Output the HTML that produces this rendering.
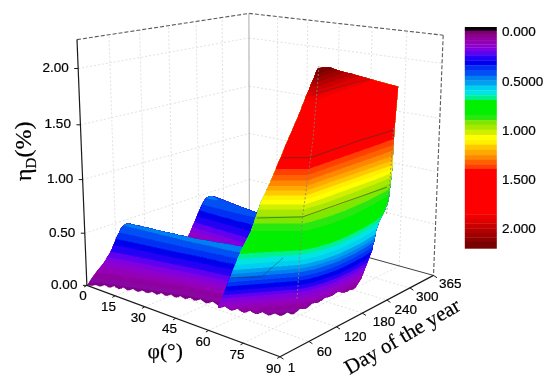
<!DOCTYPE html><html><head><meta charset="utf-8"><style>html,body{margin:0;padding:0;background:#fff}svg{display:block}text{font-family:"Liberation Sans",Arial,sans-serif;fill:#000;stroke:#000;stroke-width:0.2px}.s{font-family:"Liberation Serif","Times New Roman",serif}</style></head><body>
<svg width="550" height="385" viewBox="0 0 550 385">
<rect width="550" height="385" fill="#fff"/>
<line x1="116.9" y1="274.2" x2="109.0" y2="34.7" stroke="#d9d9d9" stroke-width="0.8" stroke-dasharray="2 2" fill="none"/>
<line x1="145.8" y1="263.4" x2="139.6" y2="30.1" stroke="#d9d9d9" stroke-width="0.8" stroke-dasharray="2 2" fill="none"/>
<line x1="173.2" y1="253.1" x2="168.6" y2="25.6" stroke="#d9d9d9" stroke-width="0.8" stroke-dasharray="2 2" fill="none"/>
<line x1="199.2" y1="243.4" x2="196.1" y2="21.4" stroke="#d9d9d9" stroke-width="0.8" stroke-dasharray="2 2" fill="none"/>
<line x1="223.9" y1="234.1" x2="222.1" y2="17.5" stroke="#d9d9d9" stroke-width="0.8" stroke-dasharray="2 2" fill="none"/>
<line x1="84.8" y1="233.2" x2="249.3" y2="179.4" stroke="#d9d9d9" stroke-width="0.8" stroke-dasharray="2 2" fill="none"/>
<line x1="249.3" y1="179.4" x2="435.6" y2="224.3" stroke="#d9d9d9" stroke-width="0.8" stroke-dasharray="2 2" fill="none"/>
<line x1="82.7" y1="179.6" x2="249.2" y2="133.3" stroke="#d9d9d9" stroke-width="0.8" stroke-dasharray="2 2" fill="none"/>
<line x1="249.2" y1="133.3" x2="437.7" y2="171.9" stroke="#d9d9d9" stroke-width="0.8" stroke-dasharray="2 2" fill="none"/>
<line x1="80.4" y1="124.8" x2="249.1" y2="86.1" stroke="#d9d9d9" stroke-width="0.8" stroke-dasharray="2 2" fill="none"/>
<line x1="249.1" y1="86.1" x2="439.8" y2="118.3" stroke="#d9d9d9" stroke-width="0.8" stroke-dasharray="2 2" fill="none"/>
<line x1="78.2" y1="68.5" x2="248.9" y2="38.0" stroke="#d9d9d9" stroke-width="0.8" stroke-dasharray="2 2" fill="none"/>
<line x1="248.9" y1="38.0" x2="442.1" y2="63.4" stroke="#d9d9d9" stroke-width="0.8" stroke-dasharray="2 2" fill="none"/>
<line x1="276.8" y1="232.2" x2="277.6" y2="16.6" stroke="#d9d9d9" stroke-width="0.8" stroke-dasharray="2 2" fill="none"/>
<line x1="115.1" y1="295.8" x2="276.8" y2="232.2" stroke="#d9d9d9" stroke-width="0.8" stroke-dasharray="2 2" fill="none"/>
<line x1="305.4" y1="240.1" x2="307.7" y2="20.0" stroke="#d9d9d9" stroke-width="0.8" stroke-dasharray="2 2" fill="none"/>
<line x1="144.7" y1="306.8" x2="305.4" y2="240.1" stroke="#d9d9d9" stroke-width="0.8" stroke-dasharray="2 2" fill="none"/>
<line x1="335.3" y1="248.3" x2="339.2" y2="23.5" stroke="#d9d9d9" stroke-width="0.8" stroke-dasharray="2 2" fill="none"/>
<line x1="175.8" y1="318.3" x2="335.3" y2="248.3" stroke="#d9d9d9" stroke-width="0.8" stroke-dasharray="2 2" fill="none"/>
<line x1="366.6" y1="256.9" x2="372.2" y2="27.2" stroke="#d9d9d9" stroke-width="0.8" stroke-dasharray="2 2" fill="none"/>
<line x1="208.7" y1="330.4" x2="366.6" y2="256.9" stroke="#d9d9d9" stroke-width="0.8" stroke-dasharray="2 2" fill="none"/>
<line x1="399.3" y1="266.0" x2="406.8" y2="31.1" stroke="#d9d9d9" stroke-width="0.8" stroke-dasharray="2 2" fill="none"/>
<line x1="243.3" y1="343.2" x2="399.3" y2="266.0" stroke="#d9d9d9" stroke-width="0.8" stroke-dasharray="2 2" fill="none"/>
<line x1="116.9" y1="274.2" x2="308.9" y2="341.4" stroke="#d9d9d9" stroke-width="0.8" stroke-dasharray="2 2" fill="none"/>
<line x1="145.8" y1="263.4" x2="336.5" y2="326.8" stroke="#d9d9d9" stroke-width="0.8" stroke-dasharray="2 2" fill="none"/>
<line x1="173.2" y1="253.1" x2="362.4" y2="313.1" stroke="#d9d9d9" stroke-width="0.8" stroke-dasharray="2 2" fill="none"/>
<line x1="199.2" y1="243.4" x2="386.9" y2="300.1" stroke="#d9d9d9" stroke-width="0.8" stroke-dasharray="2 2" fill="none"/>
<line x1="223.9" y1="234.1" x2="409.9" y2="287.9" stroke="#d9d9d9" stroke-width="0.8" stroke-dasharray="2 2" fill="none"/>
<line x1="77.0" y1="39.6" x2="248.9" y2="13.4" stroke="#5a5a5a" stroke-width="1.1" stroke-dasharray="4 2" fill="none"/>
<line x1="248.9" y1="13.4" x2="443.2" y2="35.2" stroke="#5a5a5a" stroke-width="1.1" stroke-dasharray="4 2" fill="none"/>
<line x1="443.2" y1="35.2" x2="433.5" y2="275.4" stroke="#5a5a5a" stroke-width="1.1" stroke-dasharray="4 2" fill="none"/>
<line x1="249.4" y1="224.6" x2="248.9" y2="13.4" stroke="#b8b8b8" stroke-width="1.2"/>
<line x1="249.4" y1="224.6" x2="433.5" y2="275.4" stroke="#404040" stroke-width="1"/>
<line x1="86.9" y1="285.4" x2="249.4" y2="224.6" stroke="#404040" stroke-width="1"/>
<g stroke="none" fill-rule="evenodd">
<path fill="#7e0088" d="M398.1 86.6 397.4 86.6 394.6 85.6 390.1 84.6 384.6 82.9 382.9 82.6 377.4 80.9 375.6 80.6 370.1 78.9 368.4 78.6 362.9 76.9 361.1 76.6 355.6 74.9 353.9 74.6 351.1 73.6 345.4 72.4 344.4 71.9 343.6 71.9 342.6 71.4 338.4 70.4 334.4 68.9 333.6 68.9 330.4 67.6 328.1 67.6 327.9 67.4 325.9 67.4 325.6 67.1 325.4 67.4 323.9 67.4 323.6 67.6 320.1 67.9 317.4 69.1 315.6 72.9 314.1 77.4 310.6 84.9 309.1 89.6 305.6 97.1 305.4 98.4 304.9 99.1 304.6 100.4 303.4 102.9 303.4 103.4 302.4 105.1 300.9 109.9 299.1 113.4 297.6 117.9 294.1 125.4 292.4 130.1 288.9 137.6 288.1 139.9 287.1 141.6 286.4 143.9 285.4 145.6 285.4 146.1 284.1 148.6 281.4 156.1 276.9 165.9 275.4 170.6 273.6 174.1 273.6 174.6 271.9 178.1 271.9 178.6 270.1 182.1 270.1 182.6 267.6 187.4 266.4 190.9 260.4 203.1 258.9 208.4 258.4 209.1 257.6 211.9 257.1 212.6 255.9 212.4 255.1 211.9 253.9 211.6 253.1 211.1 251.9 210.9 251.1 210.4 249.9 210.1 249.1 209.6 247.9 209.4 247.1 208.9 239.9 206.4 237.9 205.4 235.9 204.9 235.1 204.4 228.6 202.1 227.9 201.6 225.9 201.1 223.9 200.1 221.9 199.6 215.9 197.1 212.6 196.1 210.1 196.1 209.9 196.4 208.6 196.4 206.1 197.9 204.9 199.4 204.6 200.1 203.9 200.9 203.4 202.1 202.4 203.4 202.4 203.9 201.1 205.9 201.1 206.6 200.1 208.1 200.1 208.9 198.9 211.1 198.9 211.9 197.6 214.1 197.6 214.9 196.4 217.1 196.4 217.9 195.1 220.1 195.1 220.9 193.9 223.1 193.9 223.9 192.6 226.1 192.6 226.9 191.4 229.1 191.4 229.6 190.1 231.9 190.1 232.4 188.9 234.4 188.6 235.4 187.4 236.9 184.9 236.4 184.6 236.1 183.6 236.1 182.4 235.6 181.4 235.6 179.1 234.9 178.1 234.9 175.9 234.1 174.9 234.1 173.6 233.6 172.6 233.6 171.4 233.1 170.4 233.1 168.4 232.4 167.4 232.4 166.1 231.9 165.1 231.9 163.9 231.4 160.6 230.9 159.6 230.4 156.4 229.9 153.1 228.9 150.9 228.6 150.6 228.4 149.9 228.4 147.6 227.6 146.6 227.6 144.4 226.9 143.4 226.9 138.9 225.6 137.9 225.6 136.9 225.1 134.6 224.9 132.4 224.1 131.4 224.1 129.9 223.6 126.9 223.6 126.6 223.9 125.9 223.9 124.4 224.9 121.1 228.1 118.9 233.1 118.4 233.6 117.4 235.9 116.4 237.4 116.4 237.9 115.9 238.6 115.9 239.6 115.1 240.9 115.1 241.4 114.4 242.6 114.4 243.1 113.6 244.4 112.9 246.6 112.1 247.6 112.1 248.4 109.4 253.9 106.9 257.6 106.6 258.6 103.4 263.6 95.9 272.4 95.4 273.4 91.1 278.9 86.9 285.4 87.4 285.9 87.9 285.1 88.4 285.6 88.6 285.1 89.9 285.9 90.1 285.4 90.6 285.9 90.9 285.6 91.4 285.9 91.6 285.6 91.9 285.9 92.1 285.4 92.6 285.9 93.1 285.4 93.4 285.6 93.6 285.4 94.1 285.6 94.4 284.9 94.9 285.4 95.1 284.9 96.6 285.6 96.9 285.1 97.4 285.9 97.6 285.4 98.1 286.1 98.4 285.9 98.6 286.4 98.9 285.9 99.4 286.6 99.6 286.4 100.1 286.6 100.6 286.4 100.9 286.6 101.1 286.1 101.6 286.4 101.9 285.9 102.4 286.4 102.6 285.6 103.1 285.9 103.4 285.4 104.1 285.1 104.6 285.4 104.9 285.1 105.1 285.6 105.4 285.4 105.9 286.1 106.1 285.6 106.6 286.6 106.9 286.1 107.9 287.4 108.4 287.1 108.6 287.6 108.9 287.4 109.4 287.6 110.1 287.4 110.6 287.9 110.9 287.1 111.4 287.4 111.6 286.9 111.9 287.4 112.1 286.6 112.6 286.9 112.9 286.6 113.1 286.9 113.4 286.4 114.1 286.1 114.9 286.6 115.9 287.9 116.1 287.6 116.6 288.1 116.9 287.9 117.4 288.6 117.6 288.1 118.6 289.4 118.9 288.9 119.1 289.4 119.4 288.9 119.9 289.1 120.1 288.6 120.6 288.9 120.9 288.6 121.1 288.9 121.9 288.4 122.1 287.9 122.6 288.1 122.9 287.4 123.4 287.6 123.9 288.4 124.1 287.9 124.6 288.6 124.9 288.4 125.4 289.1 125.6 288.9 126.6 289.9 128.1 290.4 128.4 289.9 128.9 290.6 129.1 290.6 129.4 290.1 129.9 290.4 130.1 289.9 130.6 290.1 130.9 289.6 131.9 289.6 133.1 288.9 133.4 289.4 133.6 289.1 134.6 290.4 134.9 290.1 135.4 290.9 135.6 290.4 136.1 291.1 136.4 290.9 137.4 292.1 137.6 291.6 138.1 292.1 138.4 291.6 138.9 291.9 139.1 291.4 139.6 291.6 139.9 291.4 140.1 291.6 141.9 290.4 142.6 290.9 142.9 290.6 143.4 291.4 143.6 290.9 144.1 291.6 144.4 291.4 145.4 292.6 145.6 292.4 146.1 292.9 146.4 292.4 146.9 293.1 147.1 292.6 148.1 293.4 148.4 292.9 148.9 293.1 149.1 292.6 149.6 292.9 149.9 292.4 150.9 292.6 151.1 292.1 151.6 292.4 151.9 291.6 152.4 292.4 152.6 291.9 153.6 293.1 153.9 292.9 154.4 293.6 154.6 293.1 155.1 293.9 155.4 293.6 156.4 294.9 156.6 294.4 157.1 294.9 157.4 294.4 157.9 294.6 158.1 294.1 159.1 294.6 160.1 293.4 160.6 293.6 160.9 292.9 161.4 293.1 161.9 293.9 162.1 293.4 162.6 294.1 162.9 293.9 163.4 294.6 163.6 294.4 164.6 295.6 164.9 295.4 166.1 296.1 166.4 295.6 166.9 296.1 167.1 295.9 167.4 296.1 167.6 295.6 168.1 295.9 168.4 295.1 168.9 295.6 169.1 294.9 170.1 295.4 170.1 294.9 170.4 294.6 170.9 294.9 171.1 294.4 172.1 295.6 172.4 295.4 172.9 296.1 173.1 295.9 174.1 297.1 174.4 296.9 174.9 297.4 175.4 297.1 176.1 297.9 176.4 297.4 176.9 297.6 177.1 297.1 178.1 297.6 178.1 297.4 178.9 297.1 179.4 296.4 179.6 296.6 179.9 295.9 180.4 296.1 180.9 296.9 181.1 296.4 181.6 297.1 181.9 296.9 182.9 298.1 183.1 297.6 183.6 298.4 183.9 298.1 185.1 299.4 185.4 298.9 185.9 299.4 186.1 298.6 187.1 299.1 187.4 298.4 187.9 298.9 188.1 298.1 189.1 298.6 189.1 298.1 189.4 297.9 189.9 298.1 190.1 297.6 190.6 298.1 190.9 297.9 191.9 299.4 192.4 299.1 193.6 300.6 193.9 300.1 194.9 301.1 195.1 300.6 196.4 300.6 196.9 300.9 197.1 300.4 197.9 300.1 198.1 300.4 198.4 299.6 198.6 299.9 199.4 299.9 199.6 299.4 199.9 299.6 200.1 298.9 201.1 300.1 201.4 299.9 202.4 301.1 202.9 300.9 204.4 302.6 204.6 302.1 205.6 303.4 205.9 302.9 206.9 303.6 207.1 302.9 208.1 303.4 208.4 302.9 208.9 303.1 209.1 302.9 209.4 303.1 209.6 302.4 210.4 302.6 210.6 302.4 210.9 302.6 211.1 301.9 211.6 302.1 211.9 301.9 212.1 302.1 212.4 301.4 213.4 302.6 213.6 302.1 214.6 303.6 214.9 303.1 216.1 304.6 216.4 304.1 217.4 305.6 217.6 305.1 218.6 306.1 217.9 307.9 218.1 308.1 219.4 308.1 221.6 307.1 221.9 307.4 222.6 306.9 223.4 306.9 223.9 306.4 225.1 306.1 225.4 306.6 226.1 306.9 226.6 307.6 227.4 307.9 228.1 308.6 228.9 308.9 229.1 309.4 229.6 309.4 230.6 310.1 231.4 310.4 232.4 310.1 232.6 310.4 233.6 309.9 234.4 309.9 235.1 309.4 235.4 309.6 236.4 308.9 237.6 308.6 239.4 309.9 239.6 310.4 240.4 310.6 241.1 311.4 242.1 311.6 242.4 312.1 242.9 312.1 243.6 312.6 244.4 312.6 245.4 312.1 245.9 312.4 247.1 311.6 247.9 311.6 249.4 310.6 249.6 310.9 250.1 310.6 251.1 311.1 251.6 311.9 252.9 312.4 253.6 313.1 255.1 313.6 255.6 314.1 258.4 313.9 259.6 313.1 260.4 313.1 262.4 311.9 264.9 313.4 265.1 313.9 266.6 314.6 267.1 314.6 267.4 315.1 268.1 315.4 269.4 315.4 269.6 315.1 270.1 315.4 272.1 314.4 272.4 314.6 274.4 313.4 274.6 313.6 275.1 313.4 276.9 314.4 277.1 314.9 277.4 314.6 279.9 315.9 280.1 315.6 280.6 315.9 282.6 315.6 282.9 315.1 283.4 315.1 285.4 314.1 286.4 313.1 287.4 312.6 288.4 313.1 288.6 312.9 291.1 314.4 291.4 314.1 291.6 314.4 291.9 314.1 292.4 314.4 294.1 313.9 295.1 313.1 295.4 312.6 295.9 312.6 295.9 312.4 298.9 309.9 299.6 308.9 300.1 308.6 300.4 308.9 302.1 308.9 302.4 309.1 302.6 308.9 302.9 309.1 303.1 308.9 303.9 309.1 305.1 308.6 305.4 308.9 306.9 308.1 308.9 306.6 309.6 305.6 310.9 304.9 310.9 304.6 312.6 303.1 312.9 303.4 313.1 303.1 313.9 303.4 314.1 303.1 316.9 302.9 317.6 302.4 317.9 302.6 319.9 301.6 320.1 301.1 320.9 300.9 324.6 297.9 325.6 297.4 325.9 297.6 327.1 297.1 327.4 297.4 329.6 296.4 329.9 296.6 332.1 295.4 332.6 295.4 332.9 294.9 334.1 294.4 334.4 293.9 335.1 293.6 335.4 293.1 336.1 292.9 337.4 291.9 340.6 292.1 340.9 292.4 344.6 292.4 345.4 291.9 346.6 291.9 349.6 290.1 350.4 290.1 350.6 289.9 351.1 290.1 352.9 289.4 353.1 289.6 355.6 287.6 361.6 277.9 361.9 276.6 363.6 272.6 364.6 269.4 366.1 266.1 366.4 264.9 367.9 261.6 368.1 260.4 368.6 259.6 370.9 253.1 371.4 252.4 371.6 251.1 372.1 250.4 372.9 244.9 373.9 243.1 373.9 242.4 374.1 242.1 374.4 239.6 374.6 239.4 374.6 238.4 374.9 238.1 374.9 237.1 375.1 236.9 375.1 235.9 375.6 234.4 375.6 233.1 375.9 232.9 376.1 230.6 376.9 228.1 377.4 227.4 379.1 221.9 384.9 210.6 386.1 206.6 386.6 205.9 386.9 204.6 387.4 203.9 387.9 201.9 388.6 200.4 388.9 197.1 389.1 196.9 389.1 194.9 389.4 194.6 389.4 192.6 389.6 192.4 389.6 190.6 389.9 190.4 389.9 188.4 390.1 188.1 390.1 186.4 390.4 186.1 390.4 184.1 390.6 183.9 390.6 182.1 390.9 181.9 390.9 179.9 391.1 179.6 391.1 177.6 391.4 177.4 391.4 175.6 391.6 175.4 391.6 173.4 391.9 173.1 391.9 171.4 392.1 171.1 392.4 163.6 392.6 163.4 392.6 159.1 392.9 158.9 392.9 154.6 393.1 154.4 393.1 150.1 393.4 149.9 393.4 145.9 393.6 145.6 393.6 141.4 393.9 141.1 393.9 136.9 394.1 136.6 394.1 132.4 394.4 132.1 394.4 128.9 394.6 128.6 394.6 125.9 394.9 125.6 394.9 122.9 395.1 122.6 395.1 120.1 395.4 119.9 395.4 117.1 395.6 116.9 395.6 114.4 395.9 114.1 395.9 111.4 396.1 111.1 396.1 108.4 396.4 108.1 396.4 105.6 396.6 105.4 396.6 102.6 396.9 102.4 396.9 99.9 397.1 99.6 397.1 96.9 397.4 96.6 397.4 93.9 397.6 93.6 397.6 91.1 397.9 90.9Z"/>
<path fill="#8a06a4" d="M398.1 86.6 397.4 86.6 394.6 85.6 390.1 84.6 384.6 82.9 382.9 82.6 377.4 80.9 375.6 80.6 370.1 78.9 368.4 78.6 362.9 76.9 361.1 76.6 355.6 74.9 353.9 74.6 351.1 73.6 345.4 72.4 344.4 71.9 343.6 71.9 342.6 71.4 338.4 70.4 334.4 68.9 333.6 68.9 330.4 67.6 328.1 67.6 327.9 67.4 325.9 67.4 325.6 67.1 325.4 67.4 323.9 67.4 323.6 67.6 320.1 67.9 317.4 69.1 315.6 72.9 314.1 77.4 310.6 84.9 309.1 89.6 305.6 97.1 305.4 98.4 304.9 99.1 304.6 100.4 303.4 102.9 303.4 103.4 302.4 105.1 300.9 109.9 299.1 113.4 297.6 117.9 294.1 125.4 292.4 130.1 288.9 137.6 288.1 139.9 287.1 141.6 286.4 143.9 285.4 145.6 285.4 146.1 284.1 148.6 281.4 156.1 276.9 165.9 275.4 170.6 273.6 174.1 273.6 174.6 271.9 178.1 271.9 178.6 270.1 182.1 270.1 182.6 267.6 187.4 266.4 190.9 260.4 203.1 258.9 208.4 258.4 209.1 257.6 211.9 257.1 212.6 255.9 212.4 255.1 211.9 253.9 211.6 253.1 211.1 251.9 210.9 251.1 210.4 249.9 210.1 249.1 209.6 247.9 209.4 247.1 208.9 239.9 206.4 237.9 205.4 235.9 204.9 235.1 204.4 228.6 202.1 227.9 201.6 225.9 201.1 223.9 200.1 221.9 199.6 215.9 197.1 212.6 196.1 210.1 196.1 209.9 196.4 208.6 196.4 206.1 197.9 204.9 199.4 204.6 200.1 203.9 200.9 203.4 202.1 202.4 203.4 202.4 203.9 201.1 205.9 201.1 206.6 200.1 208.1 200.1 208.9 198.9 211.1 198.9 211.9 197.6 214.1 197.6 214.9 196.4 217.1 196.4 217.9 195.1 220.1 195.1 220.9 193.9 223.1 193.9 223.9 192.6 226.1 192.6 226.9 191.4 229.1 191.4 229.6 190.1 231.9 190.1 232.4 188.9 234.4 188.6 235.4 187.4 236.9 184.9 236.4 184.6 236.1 183.6 236.1 182.4 235.6 181.4 235.6 179.1 234.9 178.1 234.9 175.9 234.1 174.9 234.1 173.6 233.6 172.6 233.6 171.4 233.1 170.4 233.1 168.4 232.4 167.4 232.4 166.1 231.9 165.1 231.9 163.9 231.4 160.6 230.9 159.6 230.4 156.4 229.9 153.1 228.9 150.9 228.6 150.6 228.4 149.9 228.4 147.6 227.6 146.6 227.6 144.4 226.9 143.4 226.9 138.9 225.6 137.9 225.6 136.9 225.1 134.6 224.9 132.4 224.1 131.4 224.1 129.9 223.6 126.9 223.6 126.6 223.9 125.9 223.9 124.4 224.9 121.1 228.1 118.9 233.1 118.4 233.6 117.4 235.9 116.4 237.4 116.4 237.9 115.9 238.6 115.9 239.6 115.1 240.9 115.1 241.4 114.4 242.6 114.4 243.1 113.6 244.4 112.9 246.6 112.1 247.6 112.1 248.4 109.4 253.9 106.9 257.6 106.6 258.6 103.4 263.6 95.9 272.4 95.4 273.4 91.1 278.9 89.4 281.9 89.6 282.1 89.9 281.9 90.4 282.4 90.6 281.9 91.1 282.4 91.4 281.9 92.6 282.6 92.9 282.1 93.1 282.6 93.4 282.1 94.6 282.9 94.9 282.4 95.4 282.9 95.6 282.4 96.9 283.1 97.1 282.6 97.6 283.1 97.9 282.6 99.1 283.4 99.4 282.9 99.6 283.4 100.1 282.6 100.6 283.1 100.9 282.6 101.4 283.1 101.6 282.6 102.9 283.4 103.1 282.9 103.6 283.4 103.9 282.9 105.1 283.6 105.4 283.1 105.9 283.6 106.1 283.1 106.4 283.6 106.6 283.4 107.6 284.1 107.9 283.6 108.4 284.1 108.6 283.6 109.1 284.1 109.4 283.6 110.1 284.4 110.4 284.4 110.6 283.9 111.1 284.4 111.4 283.9 112.4 284.9 112.6 284.4 112.9 284.9 113.1 284.4 113.4 284.6 113.9 284.4 114.9 285.1 115.1 284.6 115.6 285.1 115.9 284.6 116.9 285.6 117.1 285.1 117.4 285.4 117.9 285.1 118.4 285.4 118.6 285.1 119.4 285.6 119.6 285.4 120.1 285.9 120.4 285.4 121.1 286.1 121.6 285.9 122.1 286.1 122.4 285.6 122.9 286.1 123.1 285.6 124.1 286.6 124.4 286.1 124.9 286.6 125.1 286.1 125.6 286.6 125.9 286.1 126.9 286.9 127.1 286.4 127.6 286.9 127.9 286.4 128.6 287.4 128.9 286.9 129.4 287.4 129.6 286.9 129.9 287.1 130.4 286.9 131.4 287.6 131.6 287.1 132.1 287.6 132.4 287.1 133.4 288.1 133.6 287.6 134.1 288.1 134.4 287.6 134.9 287.9 135.1 287.4 136.1 288.4 136.4 287.9 136.9 288.4 137.1 287.9 138.1 288.9 138.4 288.4 138.9 288.6 139.1 288.1 139.4 288.6 139.6 288.1 140.6 289.1 140.9 288.6 141.4 289.1 141.6 288.6 142.1 289.1 142.4 288.6 143.4 289.4 143.6 288.9 144.1 289.4 144.4 288.9 145.4 289.9 145.6 289.4 146.1 289.9 146.4 289.4 146.9 289.6 147.1 289.1 148.1 290.1 148.4 289.6 148.9 290.1 149.1 289.6 150.1 290.6 150.4 290.1 150.9 290.6 151.1 290.1 151.6 290.4 151.9 289.9 152.9 290.9 153.1 290.4 153.6 290.9 153.9 290.4 154.9 291.4 155.1 290.9 155.6 291.1 155.9 290.6 156.4 291.1 156.6 290.6 157.6 291.6 157.9 291.1 158.4 291.6 158.6 291.1 159.1 291.6 159.4 291.1 160.1 291.9 160.4 291.9 160.6 291.4 161.1 291.9 161.4 291.4 162.4 292.4 162.6 291.9 163.1 292.4 163.4 291.9 163.9 292.1 164.1 291.6 164.9 292.6 165.1 292.6 165.4 292.1 165.9 292.6 166.1 292.1 167.1 293.1 167.4 292.6 167.9 293.1 168.1 292.6 168.6 292.9 168.9 292.4 169.6 293.4 169.9 293.4 170.1 292.9 170.6 293.4 170.9 292.9 171.9 293.9 172.1 293.4 172.6 293.6 172.9 293.1 173.9 294.1 174.1 293.6 174.6 293.9 174.9 293.4 175.6 294.4 175.9 294.4 176.1 293.9 176.6 294.4 176.9 293.9 177.9 294.9 178.1 294.4 178.6 294.6 178.9 294.1 179.9 295.1 180.1 294.6 180.6 294.9 180.9 294.4 181.6 295.4 181.9 295.4 182.1 294.9 182.6 295.4 182.9 294.9 183.6 295.6 183.9 295.6 184.1 295.1 184.6 295.6 184.9 295.1 185.9 296.1 186.1 295.6 186.6 295.9 186.9 295.4 187.6 296.4 187.9 296.4 188.1 295.9 188.6 296.4 188.9 295.6 189.9 296.6 190.1 296.6 190.4 296.1 190.9 296.6 191.1 296.1 192.1 297.1 192.4 296.6 193.4 297.1 193.6 296.6 194.4 297.4 194.6 297.4 194.9 296.9 196.1 297.9 196.4 297.9 196.6 297.4 197.4 298.1 197.6 298.1 197.9 297.4 199.4 298.6 199.6 298.6 199.9 298.1 200.9 298.9 201.1 298.1 202.4 299.4 202.6 299.4 202.9 298.9 203.9 299.6 204.1 298.9 205.6 300.4 205.9 299.6 206.9 300.4 207.4 299.6 208.1 300.4 208.4 300.4 208.6 299.9 209.4 300.6 209.6 300.6 209.9 300.1 210.9 300.9 211.1 300.4 212.1 301.4 212.6 300.6 213.4 301.4 213.6 301.4 213.9 300.9 214.6 301.6 214.9 301.6 215.1 301.1 216.1 301.9 216.4 301.4 217.4 302.4 217.6 301.6 218.6 302.4 218.9 302.4 219.1 301.9 219.9 302.9 217.9 307.9 218.1 308.1 219.4 308.1 221.6 307.1 221.9 307.4 222.6 306.9 223.4 306.9 223.9 306.4 225.1 306.1 225.4 306.6 226.1 306.9 226.6 307.6 228.9 308.9 229.1 309.4 229.6 309.4 230.1 309.9 231.4 310.4 232.1 310.1 232.6 310.4 233.6 309.9 234.4 309.9 235.1 309.4 235.4 309.6 236.4 308.9 237.6 308.6 239.4 309.9 239.6 310.4 240.4 310.6 241.1 311.4 242.1 311.6 242.4 312.1 242.9 312.1 243.6 312.6 244.4 312.6 245.4 312.1 245.9 312.4 247.1 311.6 247.9 311.6 249.4 310.6 249.6 310.9 250.1 310.6 251.1 311.1 251.6 311.9 252.9 312.4 253.6 313.1 255.1 313.6 255.6 314.1 258.4 313.9 259.6 313.1 260.4 313.1 262.4 311.9 264.9 313.4 265.1 313.9 265.9 314.1 266.1 313.9 269.1 313.9 269.4 313.6 275.4 313.4 275.6 313.1 278.4 313.1 278.6 312.9 281.6 312.9 281.9 312.6 284.6 312.6 284.9 312.4 287.9 312.4 288.1 312.1 290.9 312.1 291.1 311.9 294.1 311.9 294.4 311.6 296.9 311.4 300.1 308.6 300.4 308.9 302.1 308.9 302.4 309.1 302.6 308.9 302.9 309.1 303.1 308.9 303.9 309.1 305.1 308.6 305.4 308.9 306.9 308.1 308.9 306.6 309.6 305.6 310.9 304.9 310.9 304.6 312.6 303.1 312.9 303.4 313.1 303.1 313.9 303.4 314.1 303.1 316.9 302.9 317.6 302.4 317.9 302.6 319.9 301.6 320.1 301.1 320.9 300.9 324.6 297.9 325.6 297.4 325.9 297.6 327.1 297.1 327.4 297.4 329.6 296.4 329.9 296.6 332.1 295.4 332.6 295.4 332.9 294.9 334.1 294.4 334.4 293.9 335.1 293.6 335.4 293.1 336.1 292.9 337.4 291.9 340.6 292.1 340.9 292.4 344.6 292.4 345.4 291.9 346.6 291.9 349.6 290.1 350.4 290.1 350.6 289.9 351.1 290.1 352.9 289.4 353.1 289.6 355.6 287.6 361.6 277.9 361.9 276.6 363.6 272.6 364.6 269.4 366.1 266.1 366.4 264.9 367.9 261.6 368.1 260.4 368.6 259.6 370.9 253.1 371.4 252.4 371.6 251.1 372.1 250.4 372.9 244.9 373.9 243.1 373.9 242.4 374.1 242.1 374.4 239.6 374.6 239.4 374.6 238.4 374.9 238.1 374.9 237.1 375.1 236.9 375.1 235.9 375.6 234.4 375.6 233.1 375.9 232.9 376.1 230.6 376.9 228.1 377.4 227.4 379.1 221.9 384.9 210.6 386.1 206.6 386.6 205.9 386.9 204.6 387.4 203.9 387.9 201.9 388.6 200.4 388.9 197.1 389.1 196.9 389.1 194.9 389.4 194.6 389.4 192.6 389.6 192.4 389.6 190.6 389.9 190.4 389.9 188.4 390.1 188.1 390.1 186.4 390.4 186.1 390.4 184.1 390.6 183.9 390.6 182.1 390.9 181.9 390.9 179.9 391.1 179.6 391.1 177.6 391.4 177.4 391.4 175.6 391.6 175.4 391.6 173.4 391.9 173.1 391.9 171.4 392.1 171.1 392.4 163.6 392.6 163.4 392.6 159.1 392.9 158.9 392.9 154.6 393.1 154.4 393.1 150.1 393.4 149.9 393.4 145.9 393.6 145.6 393.6 141.4 393.9 141.1 393.9 136.9 394.1 136.6 394.1 132.4 394.4 132.1 394.4 128.9 394.6 128.6 394.6 125.9 394.9 125.6 394.9 122.9 395.1 122.6 395.1 120.1 395.4 119.9 395.4 117.1 395.6 116.9 395.6 114.4 395.9 114.1 395.9 111.4 396.1 111.1 396.1 108.4 396.4 108.1 396.4 105.6 396.6 105.4 396.6 102.6 396.9 102.4 396.9 99.9 397.1 99.6 397.1 96.9 397.4 96.6 397.4 93.9 397.6 93.6 397.6 91.1 397.9 90.9Z"/>
<path fill="#9000a0" d="M398.1 86.6 397.4 86.6 394.6 85.6 390.1 84.6 384.6 82.9 382.9 82.6 377.4 80.9 375.6 80.6 370.1 78.9 368.4 78.6 362.9 76.9 361.1 76.6 355.6 74.9 353.9 74.6 351.1 73.6 345.4 72.4 344.4 71.9 343.6 71.9 342.6 71.4 338.4 70.4 334.4 68.9 333.6 68.9 330.4 67.6 328.1 67.6 327.9 67.4 325.9 67.4 325.6 67.1 325.4 67.4 323.9 67.4 323.6 67.6 320.1 67.9 317.4 69.1 315.6 72.9 314.1 77.4 310.6 84.9 309.1 89.6 305.6 97.1 305.4 98.4 304.9 99.1 304.6 100.4 303.4 102.9 303.4 103.4 302.4 105.1 300.9 109.9 299.1 113.4 297.6 117.9 294.1 125.4 292.4 130.1 288.9 137.6 288.1 139.9 287.1 141.6 286.4 143.9 285.4 145.6 285.4 146.1 284.1 148.6 281.4 156.1 276.9 165.9 275.4 170.6 273.6 174.1 273.6 174.6 271.9 178.1 271.9 178.6 270.1 182.1 270.1 182.6 267.6 187.4 266.4 190.9 260.4 203.1 258.9 208.4 258.4 209.1 257.6 211.9 257.1 212.6 255.9 212.4 255.1 211.9 253.9 211.6 253.1 211.1 251.9 210.9 251.1 210.4 249.9 210.1 249.1 209.6 247.9 209.4 247.1 208.9 239.9 206.4 237.9 205.4 235.9 204.9 235.1 204.4 228.6 202.1 227.9 201.6 225.9 201.1 223.9 200.1 221.9 199.6 215.9 197.1 212.6 196.1 210.1 196.1 209.9 196.4 208.6 196.4 206.1 197.9 204.9 199.4 204.6 200.1 203.9 200.9 203.4 202.1 202.4 203.4 202.4 203.9 201.1 205.9 201.1 206.6 200.1 208.1 200.1 208.9 198.9 211.1 198.9 211.9 197.6 214.1 197.6 214.9 196.4 217.1 196.4 217.9 195.1 220.1 195.1 220.9 193.9 223.1 193.9 223.9 192.6 226.1 192.6 226.9 191.4 229.1 191.4 229.6 190.1 231.9 190.1 232.4 188.9 234.4 188.6 235.4 187.4 236.9 184.9 236.4 184.6 236.1 183.6 236.1 182.4 235.6 181.4 235.6 179.1 234.9 178.1 234.9 175.9 234.1 174.9 234.1 173.6 233.6 172.6 233.6 171.4 233.1 170.4 233.1 168.4 232.4 167.4 232.4 166.1 231.9 165.1 231.9 163.9 231.4 160.6 230.9 159.6 230.4 156.4 229.9 153.1 228.9 150.9 228.6 150.6 228.4 149.9 228.4 147.6 227.6 146.6 227.6 144.4 226.9 143.4 226.9 138.9 225.6 137.9 225.6 136.9 225.1 134.6 224.9 132.4 224.1 131.4 224.1 129.9 223.6 126.9 223.6 126.6 223.9 125.9 223.9 124.4 224.9 121.1 228.1 118.9 233.1 118.4 233.6 117.4 235.9 116.4 237.4 116.4 237.9 115.9 238.6 115.9 239.6 115.1 240.9 115.1 241.4 114.4 242.6 114.4 243.1 113.6 244.4 112.9 246.6 112.1 247.6 112.1 248.4 109.4 253.9 106.9 257.6 106.6 258.6 103.4 263.6 95.9 272.4 95.4 273.4 93.1 276.1 92.4 277.6 92.6 277.9 92.9 277.4 93.4 277.9 93.6 277.4 94.1 277.9 94.4 277.6 94.6 277.9 95.1 277.6 95.6 278.1 95.9 277.6 96.1 278.1 96.4 277.6 96.9 278.1 97.1 277.9 97.4 278.1 97.9 277.9 98.4 278.4 98.6 277.9 99.1 278.4 99.4 277.9 99.9 278.4 100.1 278.1 100.4 278.4 100.9 278.1 101.4 278.6 101.6 278.1 101.9 278.6 102.1 278.1 103.1 279.1 103.4 278.6 103.9 279.1 104.1 278.6 104.6 279.1 104.9 278.9 105.1 279.1 105.6 278.9 106.1 279.4 106.4 278.9 106.9 279.4 107.1 278.9 107.9 279.4 108.4 279.1 108.9 279.6 109.1 279.1 109.6 279.6 109.9 279.1 110.6 279.9 110.9 279.9 111.1 279.4 111.6 279.9 111.9 279.4 112.6 280.1 113.1 279.9 113.6 280.1 113.9 279.9 114.6 280.6 114.9 280.1 115.1 280.4 115.6 280.1 116.6 280.9 116.9 280.4 117.4 280.9 117.6 280.4 118.4 281.1 118.6 281.1 118.9 280.6 119.4 281.1 119.6 280.6 120.1 281.1 120.4 280.6 120.9 281.4 121.4 281.1 121.9 281.4 122.1 281.1 123.1 281.9 123.4 281.4 123.6 281.6 124.1 281.4 125.1 282.1 125.4 281.6 125.9 282.1 126.1 281.6 126.9 282.4 127.1 282.4 127.4 281.9 127.6 282.1 127.9 281.9 128.6 282.6 129.1 282.4 129.6 282.6 129.9 282.4 130.9 283.1 131.1 282.6 131.6 283.1 131.9 282.6 132.9 283.4 133.1 282.9 133.6 283.4 133.9 282.9 134.6 283.6 135.1 283.4 135.6 283.6 135.9 283.1 136.9 284.1 137.1 283.6 137.4 283.9 137.6 283.6 138.6 284.4 138.9 283.9 139.4 284.4 139.6 283.9 140.4 284.6 140.6 284.6 140.9 284.1 141.4 284.6 141.6 284.1 142.1 284.6 142.4 284.1 143.1 284.9 143.6 284.6 144.1 284.9 144.4 284.4 145.4 285.4 145.6 284.9 146.1 285.4 146.4 284.9 147.4 285.6 147.6 285.1 148.1 285.6 148.4 285.1 149.1 285.9 149.6 285.6 150.1 285.9 150.4 285.4 151.4 286.4 151.6 285.9 152.1 286.4 152.4 285.9 153.1 286.4 153.4 286.1 153.9 286.6 154.1 286.1 154.9 286.9 155.1 286.9 155.4 286.4 155.9 286.9 156.1 286.4 157.1 287.4 157.4 286.9 157.9 287.4 158.1 286.9 159.1 287.6 159.4 287.1 159.9 287.6 160.1 287.1 160.9 287.9 161.1 287.9 161.4 287.4 161.9 287.9 162.1 287.4 162.6 287.9 162.9 287.4 163.6 288.1 163.9 288.1 164.1 287.6 164.6 288.1 164.9 287.6 165.9 288.6 166.1 288.1 166.6 288.4 166.9 287.9 167.9 288.9 168.1 288.4 168.6 288.9 168.9 288.4 169.6 289.1 169.9 289.1 170.1 288.6 170.6 289.1 170.9 288.6 171.9 289.6 172.1 289.1 172.6 289.4 172.9 288.9 173.9 289.9 174.1 289.4 174.9 290.1 175.1 290.1 175.4 289.6 175.9 290.1 176.1 289.6 176.9 290.4 177.1 290.4 177.4 289.9 177.9 290.4 178.1 289.9 179.1 290.9 179.4 290.9 179.6 290.4 180.1 290.6 180.4 290.1 181.4 291.1 181.6 290.6 182.4 291.4 182.6 291.4 182.9 290.9 183.4 291.4 183.6 290.9 184.4 291.6 184.6 291.6 184.9 291.1 185.4 291.6 185.6 291.1 186.4 291.9 186.6 291.9 186.9 291.4 187.9 292.4 188.1 291.9 188.6 292.1 188.9 291.6 189.9 292.6 190.1 292.1 190.6 292.4 190.9 291.9 191.6 292.9 191.9 292.9 192.1 292.4 192.6 292.6 192.9 292.1 193.6 293.1 194.6 293.4 194.9 292.9 195.9 293.6 196.1 293.1 197.4 294.1 197.6 294.1 197.9 293.6 198.6 294.4 199.1 293.6 200.4 294.9 200.6 294.9 200.9 294.4 201.9 294.9 202.1 294.4 203.6 295.4 203.9 295.4 204.1 294.9 204.9 295.6 205.1 295.6 205.4 295.1 206.6 296.1 206.9 296.1 207.1 295.6 207.9 296.4 208.4 295.6 209.4 296.4 209.6 296.4 209.9 295.9 211.1 297.1 211.4 297.1 211.6 296.6 212.4 297.4 212.6 297.4 212.9 296.9 213.9 297.6 214.1 297.1 215.1 298.1 215.6 297.4 216.4 298.1 216.6 298.1 216.9 297.6 217.6 298.4 217.9 298.4 218.1 297.6 218.9 298.4 219.1 298.4 219.4 297.9 220.4 298.9 220.9 298.1 221.6 298.9 219.4 303.6 218.9 305.6 217.9 307.9 218.1 308.1 219.4 308.1 221.6 307.1 221.9 307.4 222.6 306.9 223.4 306.9 223.9 306.4 225.1 306.1 225.4 306.6 226.1 306.9 226.6 307.6 227.4 307.9 228.1 308.6 228.9 308.9 229.1 309.4 229.6 309.4 230.6 310.1 231.4 310.4 232.4 310.1 232.6 310.4 233.6 309.9 234.4 309.9 235.1 309.4 235.4 309.6 236.4 308.9 237.6 308.6 239.4 309.9 239.6 310.4 240.4 310.6 241.1 311.4 242.1 311.6 242.4 312.1 242.9 312.1 243.6 312.6 244.4 312.6 245.4 312.1 245.9 312.4 247.1 311.6 247.9 311.6 249.4 310.6 249.6 310.9 250.1 310.6 251.1 311.1 251.4 311.6 252.1 312.1 253.4 312.1 253.6 311.9 256.4 311.9 256.6 311.6 259.6 311.6 259.9 311.4 262.6 311.4 262.9 311.1 265.9 311.1 266.1 310.9 268.9 310.9 269.1 310.6 272.1 310.6 272.4 310.4 275.1 310.4 275.4 310.1 278.4 310.1 278.6 309.9 281.4 309.9 281.6 309.6 284.6 309.6 284.9 309.4 287.6 309.4 287.9 309.1 293.9 308.9 294.1 308.6 296.1 308.6 296.4 308.4 299.1 308.1 299.4 307.9 305.4 306.9 306.6 306.4 307.6 306.4 309.9 305.6 312.6 303.1 312.9 303.4 313.1 303.1 313.9 303.4 314.1 303.1 316.9 302.9 317.6 302.4 317.9 302.6 319.9 301.6 320.1 301.1 320.9 300.9 324.6 297.9 325.6 297.4 325.9 297.6 327.1 297.1 327.4 297.4 329.6 296.4 329.9 296.6 332.1 295.4 332.6 295.4 332.9 294.9 334.1 294.4 334.4 293.9 335.1 293.6 335.4 293.1 336.1 292.9 337.4 291.9 340.6 292.1 340.9 292.4 344.6 292.4 345.4 291.9 346.6 291.9 349.6 290.1 351.1 289.9 352.1 289.1 354.9 287.9 356.1 286.9 356.4 286.1 360.1 280.6 361.6 277.9 361.9 276.6 363.6 272.6 364.6 269.4 366.1 266.1 366.4 264.9 367.9 261.6 368.1 260.4 368.6 259.6 370.9 253.1 371.4 252.4 371.6 251.1 372.1 250.4 372.9 244.9 373.9 243.1 373.9 242.4 374.1 242.1 374.4 239.6 374.6 239.4 374.6 238.4 374.9 238.1 374.9 237.1 375.1 236.9 375.1 235.9 375.6 234.4 375.6 233.1 375.9 232.9 376.1 230.6 376.9 228.1 377.4 227.4 379.1 221.9 384.9 210.6 386.1 206.6 386.6 205.9 386.9 204.6 387.4 203.9 387.9 201.9 388.6 200.4 388.9 197.1 389.1 196.9 389.1 194.9 389.4 194.6 389.4 192.6 389.6 192.4 389.6 190.6 389.9 190.4 389.9 188.4 390.1 188.1 390.1 186.4 390.4 186.1 390.4 184.1 390.6 183.9 390.6 182.1 390.9 181.9 390.9 179.9 391.1 179.6 391.1 177.6 391.4 177.4 391.4 175.6 391.6 175.4 391.6 173.4 391.9 173.1 391.9 171.4 392.1 171.1 392.4 163.6 392.6 163.4 392.6 159.1 392.9 158.9 392.9 154.6 393.1 154.4 393.1 150.1 393.4 149.9 393.4 145.9 393.6 145.6 393.6 141.4 393.9 141.1 393.9 136.9 394.1 136.6 394.1 132.4 394.4 132.1 394.4 128.9 394.6 128.6 394.6 125.9 394.9 125.6 394.9 122.9 395.1 122.6 395.1 120.1 395.4 119.9 395.4 117.1 395.6 116.9 395.6 114.4 395.9 114.1 395.9 111.4 396.1 111.1 396.1 108.4 396.4 108.1 396.4 105.6 396.6 105.4 396.6 102.6 396.9 102.4 396.9 99.9 397.1 99.6 397.1 96.9 397.4 96.6 397.4 93.9 397.6 93.6 397.6 91.1 397.9 90.9Z"/>
<path fill="#9400b8" d="M398.1 86.6 397.4 86.6 394.6 85.6 390.1 84.6 384.6 82.9 382.9 82.6 377.4 80.9 375.6 80.6 370.1 78.9 368.4 78.6 362.9 76.9 361.1 76.6 355.6 74.9 353.9 74.6 351.1 73.6 345.4 72.4 344.4 71.9 343.6 71.9 342.6 71.4 338.4 70.4 334.4 68.9 333.6 68.9 330.4 67.6 328.1 67.6 327.9 67.4 325.9 67.4 325.6 67.1 325.4 67.4 323.9 67.4 323.6 67.6 320.1 67.9 317.4 69.1 315.6 72.9 314.1 77.4 310.6 84.9 309.1 89.6 305.6 97.1 305.4 98.4 304.9 99.1 304.6 100.4 303.4 102.9 303.4 103.4 302.4 105.1 300.9 109.9 299.1 113.4 297.6 117.9 294.1 125.4 292.4 130.1 288.9 137.6 288.1 139.9 287.1 141.6 286.4 143.9 285.4 145.6 285.4 146.1 284.1 148.6 281.4 156.1 276.9 165.9 275.4 170.6 273.6 174.1 273.6 174.6 271.9 178.1 271.9 178.6 270.1 182.1 270.1 182.6 267.6 187.4 266.4 190.9 260.4 203.1 258.9 208.4 258.4 209.1 257.6 211.9 257.1 212.6 255.9 212.4 255.1 211.9 253.9 211.6 253.1 211.1 251.9 210.9 251.1 210.4 249.9 210.1 249.1 209.6 247.9 209.4 247.1 208.9 239.9 206.4 237.9 205.4 235.9 204.9 235.1 204.4 228.6 202.1 227.9 201.6 225.9 201.1 223.9 200.1 221.9 199.6 215.9 197.1 212.6 196.1 210.1 196.1 209.9 196.4 208.6 196.4 206.1 197.9 204.9 199.4 204.6 200.1 203.9 200.9 203.4 202.1 202.4 203.4 202.4 203.9 201.1 205.9 201.1 206.6 200.1 208.1 200.1 208.9 198.9 211.1 198.9 211.9 197.6 214.1 197.6 214.9 196.4 217.1 196.4 217.9 195.1 220.1 195.1 220.9 193.9 223.1 193.9 223.9 192.6 226.1 192.6 226.9 191.4 229.1 191.4 229.6 190.1 231.9 190.1 232.4 188.9 234.4 188.6 235.4 187.4 236.9 184.9 236.4 184.6 236.1 183.6 236.1 182.4 235.6 181.4 235.6 179.1 234.9 178.1 234.9 175.9 234.1 174.9 234.1 173.6 233.6 172.6 233.6 171.4 233.1 170.4 233.1 168.4 232.4 167.4 232.4 166.1 231.9 165.1 231.9 163.9 231.4 160.6 230.9 159.6 230.4 156.4 229.9 153.1 228.9 150.9 228.6 150.6 228.4 149.9 228.4 147.6 227.6 146.6 227.6 144.4 226.9 143.4 226.9 138.9 225.6 137.9 225.6 136.9 225.1 134.6 224.9 132.4 224.1 131.4 224.1 129.9 223.6 126.9 223.6 126.6 223.9 125.9 223.9 124.4 224.9 121.1 228.1 118.9 233.1 118.4 233.6 117.4 235.9 116.4 237.4 116.4 237.9 115.9 238.6 115.9 239.6 115.1 240.9 115.1 241.4 114.4 242.6 114.4 243.1 113.6 244.4 112.9 246.6 112.1 247.6 112.1 248.4 109.4 253.9 106.9 257.6 106.4 259.1 104.1 262.6 97.1 270.9 96.1 272.4 96.4 272.6 96.6 272.4 96.9 272.6 97.4 272.4 97.6 272.6 98.1 272.4 98.6 272.6 98.9 272.4 99.1 272.9 99.4 272.4 99.9 272.9 100.1 272.4 100.9 273.1 101.4 272.9 101.9 273.4 102.1 272.9 102.6 273.4 102.9 272.9 103.4 273.4 103.6 273.1 103.9 273.4 104.1 273.1 104.4 273.4 104.9 273.1 105.4 273.4 105.6 273.1 106.4 273.9 106.9 273.6 107.1 273.9 107.6 273.6 108.1 273.9 108.4 273.6 108.9 274.1 109.1 273.6 109.6 274.1 109.9 273.6 110.1 274.1 110.4 273.6 110.9 274.1 111.1 273.9 111.4 274.1 111.9 273.9 112.9 274.6 113.1 274.1 114.1 274.9 114.4 274.4 114.9 274.9 115.1 274.4 115.6 275.1 115.9 275.1 116.1 274.6 116.6 275.1 116.9 274.6 117.6 275.4 117.9 275.4 118.1 274.9 118.9 275.6 119.4 275.4 119.9 275.6 120.1 275.4 120.9 275.9 121.4 275.6 121.6 275.9 121.9 275.6 122.6 276.1 123.1 275.9 124.1 276.6 124.4 276.1 124.6 276.4 125.1 276.1 126.1 276.9 126.4 276.4 126.6 276.6 127.1 276.4 127.9 276.9 128.1 276.6 128.9 277.4 129.1 277.4 129.4 276.9 129.9 277.4 130.1 276.9 131.1 277.6 131.4 277.1 132.1 277.9 132.6 277.6 133.1 277.9 133.4 277.4 134.1 278.1 134.6 277.9 134.9 278.1 135.4 277.9 136.1 278.4 136.6 278.1 137.4 278.9 137.6 278.4 138.1 278.9 138.4 278.4 139.4 279.1 139.6 278.6 140.1 279.1 140.4 278.6 141.4 279.4 141.6 278.9 142.4 279.6 142.6 279.6 142.9 279.1 143.4 279.6 143.6 279.1 144.4 279.9 144.6 279.9 144.9 279.4 145.4 279.9 145.6 279.4 146.4 280.1 146.9 279.9 147.9 280.6 148.1 280.1 148.4 280.4 148.6 280.1 149.6 280.9 149.9 280.4 150.1 280.6 150.6 280.4 151.6 281.1 151.9 280.6 152.6 281.4 152.9 281.4 153.1 280.9 153.6 281.4 153.9 280.9 154.6 281.6 154.9 281.6 155.1 281.1 155.6 281.6 155.9 281.1 156.9 281.9 157.1 281.4 158.1 282.4 158.4 281.9 158.9 282.1 159.1 281.6 160.1 282.6 160.4 282.1 161.4 282.9 161.6 282.4 162.1 282.9 162.4 282.4 163.4 283.1 163.6 282.6 164.1 283.1 164.4 282.6 165.1 283.4 165.4 283.4 165.6 282.9 166.6 283.9 166.9 283.4 167.4 283.6 167.6 283.1 168.6 284.1 168.9 283.6 169.4 283.9 169.6 283.4 170.6 284.4 170.9 283.9 171.9 284.6 172.1 284.1 172.6 284.6 172.9 284.1 173.6 284.9 173.9 284.9 174.1 284.4 174.6 284.9 174.9 284.4 175.9 285.1 176.1 284.6 176.9 285.4 177.1 285.4 177.4 284.9 178.4 285.9 178.6 285.4 179.1 285.6 179.4 285.1 180.1 285.9 180.4 285.9 180.6 285.4 181.6 286.4 181.9 285.9 182.4 286.1 182.6 285.6 183.4 286.4 183.6 286.4 183.9 285.9 184.9 286.9 185.1 286.4 185.6 286.6 185.9 286.1 186.9 287.1 187.1 286.6 188.1 287.6 188.4 286.9 188.9 287.4 189.4 286.6 190.4 287.6 190.6 287.1 191.4 287.9 191.6 287.9 191.9 287.4 192.9 288.4 193.1 287.9 193.6 288.1 193.9 287.6 194.6 288.4 194.9 288.4 195.1 287.9 196.4 289.1 196.9 288.4 197.6 289.1 197.9 289.1 198.1 288.6 199.6 289.6 199.9 289.6 200.1 289.1 200.9 289.9 201.4 289.1 202.6 290.4 203.1 289.6 204.4 290.9 204.9 290.1 205.6 290.9 205.9 290.9 206.1 290.4 207.6 291.4 207.9 291.4 208.1 290.9 208.9 291.6 209.4 290.9 210.6 292.1 210.9 292.1 211.1 291.6 211.9 292.4 212.1 292.4 212.4 291.9 213.6 292.4 213.9 291.9 214.9 292.6 215.1 292.1 216.4 293.4 216.6 293.4 216.9 292.9 217.6 293.6 217.9 293.6 218.1 292.9 219.1 293.6 219.4 293.6 219.6 293.1 220.4 293.9 220.6 293.9 220.9 293.4 222.1 294.6 222.4 294.6 222.6 294.1 223.1 294.9 222.6 295.6 221.1 300.1 219.4 303.6 218.9 305.6 217.9 307.9 218.1 308.1 219.4 308.1 221.6 307.1 221.9 307.4 222.6 306.9 223.4 306.9 223.9 306.4 225.1 306.1 225.4 306.6 226.1 306.9 226.6 307.6 227.4 307.9 228.1 308.6 228.9 308.9 229.1 309.4 229.9 309.6 234.4 309.4 234.6 309.1 236.1 309.1 237.4 308.6 237.9 308.9 240.6 308.9 240.9 308.6 243.9 308.6 244.1 308.4 250.1 308.1 250.4 307.9 253.1 307.9 253.4 307.6 256.4 307.6 256.6 307.4 259.4 307.4 259.6 307.1 262.6 307.1 262.9 306.9 265.6 306.9 265.9 306.6 268.9 306.6 269.1 306.4 271.9 306.4 272.1 306.1 275.1 306.1 275.4 305.9 278.1 305.9 278.4 305.6 281.4 305.6 281.6 305.4 284.4 305.4 284.6 305.1 287.6 305.1 287.9 304.9 290.6 304.9 290.9 304.6 293.9 304.6 294.1 304.4 296.1 304.4 296.4 304.1 297.6 304.1 297.9 303.9 299.1 303.9 299.4 303.6 300.6 303.6 300.9 303.4 305.6 302.6 305.9 302.4 308.9 301.9 309.1 301.6 311.9 301.1 312.9 300.6 314.6 300.4 317.4 299.4 318.1 299.4 329.9 295.4 330.6 294.9 336.1 292.9 337.4 291.9 338.4 291.9 342.4 289.9 342.9 289.9 353.4 284.6 353.9 284.1 359.6 281.1 361.6 277.9 361.9 276.6 363.6 272.6 364.6 269.4 366.1 266.1 366.4 264.9 367.9 261.6 368.1 260.4 368.6 259.6 370.9 253.1 371.4 252.4 371.6 251.1 372.1 250.4 372.9 244.9 373.9 243.1 373.9 242.4 374.1 242.1 374.4 239.6 374.6 239.4 374.6 238.4 374.9 238.1 374.9 237.1 375.1 236.9 375.1 235.9 375.6 234.4 376.1 230.6 378.1 224.6 378.6 223.9 379.1 221.9 384.9 210.6 386.1 206.6 386.6 205.9 386.9 204.6 387.4 203.9 387.9 201.9 388.6 200.4 388.9 197.1 389.1 196.9 389.1 194.9 389.4 194.6 389.4 192.6 389.6 192.4 389.6 190.6 389.9 190.4 389.9 188.4 390.1 188.1 390.1 186.4 390.4 186.1 390.4 184.1 390.6 183.9 390.6 182.1 390.9 181.9 390.9 179.9 391.1 179.6 391.1 177.6 391.4 177.4 391.4 175.6 391.6 175.4 391.6 173.4 391.9 173.1 391.9 171.4 392.1 171.1 392.4 163.6 392.6 163.4 392.6 159.1 392.9 158.9 392.9 154.6 393.1 154.4 393.1 150.1 393.4 149.9 393.4 145.9 393.6 145.6 393.6 141.4 393.9 141.1 393.9 136.9 394.1 136.6 394.1 132.4 394.4 132.1 394.4 128.9 394.6 128.6 394.6 125.9 394.9 125.6 394.9 122.9 395.1 122.6 395.1 120.1 395.4 119.9 395.4 117.1 395.6 116.9 395.6 114.4 395.9 114.1 395.9 111.4 396.1 111.1 396.1 108.4 396.4 108.1 396.4 105.6 396.6 105.4 396.6 102.6 396.9 102.4 396.9 99.9 397.1 99.6 397.1 96.9 397.4 96.6 397.4 93.9 397.6 93.6 397.6 91.1 397.9 90.9Z"/>
<path fill="#9000cc" d="M203.4 239.9 203.6 239.6 203.9 239.9 203.6 240.1ZM398.1 86.6 397.4 86.6 394.6 85.6 390.1 84.6 384.6 82.9 382.9 82.6 377.4 80.9 375.6 80.6 370.1 78.9 368.4 78.6 362.9 76.9 361.1 76.6 355.6 74.9 353.9 74.6 351.1 73.6 345.4 72.4 344.4 71.9 343.6 71.9 342.6 71.4 338.4 70.4 334.4 68.9 333.6 68.9 330.4 67.6 328.1 67.6 327.9 67.4 325.9 67.4 325.6 67.1 325.4 67.4 323.9 67.4 323.6 67.6 320.1 67.9 317.4 69.1 315.6 72.9 314.1 77.4 310.6 84.9 309.1 89.6 305.6 97.1 305.4 98.4 304.9 99.1 304.6 100.4 303.4 102.9 303.4 103.4 302.4 105.1 300.9 109.9 299.1 113.4 297.6 117.9 294.1 125.4 292.4 130.1 288.9 137.6 288.1 139.9 287.1 141.6 286.4 143.9 285.4 145.6 285.4 146.1 284.1 148.6 281.4 156.1 276.9 165.9 275.4 170.6 273.6 174.1 273.6 174.6 271.9 178.1 271.9 178.6 270.1 182.1 270.1 182.6 267.6 187.4 266.4 190.9 260.4 203.1 258.9 208.4 258.4 209.1 257.6 211.9 257.1 212.6 255.9 212.4 255.1 211.9 253.9 211.6 253.1 211.1 251.9 210.9 251.1 210.4 249.9 210.1 249.1 209.6 247.9 209.4 247.1 208.9 239.9 206.4 237.9 205.4 235.9 204.9 235.1 204.4 228.6 202.1 227.9 201.6 225.9 201.1 223.9 200.1 221.9 199.6 215.9 197.1 212.6 196.1 208.6 196.4 206.1 197.9 204.9 199.4 204.6 200.1 203.9 200.9 203.4 202.1 202.4 203.4 202.4 203.9 201.1 205.9 201.1 206.6 200.1 208.1 200.1 208.9 198.9 211.1 198.9 211.9 197.6 214.1 197.6 214.9 196.4 217.1 196.4 217.9 195.1 220.1 195.1 220.9 193.9 223.1 193.9 223.9 192.6 226.1 192.6 226.9 191.4 229.1 191.4 229.6 190.1 231.9 190.1 232.4 188.9 234.4 188.9 234.9 191.1 235.6 192.1 235.6 192.6 236.4 194.4 236.6 195.4 237.1 196.6 237.1 197.9 238.1 201.9 238.9 202.4 239.4 202.1 239.9 200.4 239.4 196.1 238.9 194.6 238.4 193.4 238.4 191.1 237.6 190.1 237.6 187.9 236.9 186.9 236.9 184.6 236.1 181.4 235.6 181.1 235.4 178.1 234.9 175.9 234.1 174.9 234.1 173.6 233.6 170.4 233.1 168.4 232.4 167.4 232.4 166.1 231.9 165.1 231.9 163.9 231.4 160.6 230.9 159.6 230.4 158.6 230.4 158.4 230.1 156.4 229.9 153.1 228.9 150.9 228.6 147.6 227.6 146.6 227.6 144.4 226.9 141.1 226.4 140.9 226.1 137.9 225.6 136.9 225.1 134.6 224.9 132.4 224.1 131.4 224.1 129.9 223.6 126.9 223.6 126.6 223.9 125.9 223.9 124.4 224.9 121.1 228.1 118.9 233.1 118.4 233.6 117.4 235.9 116.4 237.4 116.4 237.9 115.9 238.6 115.9 239.6 115.1 240.9 115.1 241.4 114.4 242.6 114.4 243.1 113.6 244.4 112.9 246.6 112.1 247.6 112.1 248.4 109.4 253.9 106.9 257.6 106.6 258.6 103.4 263.6 100.9 266.4 100.9 266.9 101.4 266.6 102.1 267.1 102.6 266.9 102.9 267.1 103.1 266.9 103.4 267.1 103.9 266.9 104.4 267.1 104.6 266.9 105.4 267.6 105.9 267.4 106.1 267.6 106.6 267.4 107.1 267.6 107.4 267.4 107.9 267.9 108.4 267.6 108.9 267.9 109.1 267.6 109.6 268.1 109.9 267.6 110.6 268.4 111.1 268.1 111.4 268.4 111.9 268.1 112.1 268.4 112.6 268.1 112.9 268.4 113.1 268.1 114.1 268.9 114.4 268.4 114.9 268.9 115.1 268.4 115.6 268.9 115.9 268.4 116.6 269.1 117.1 268.9 118.9 269.6 119.4 269.4 119.9 269.6 120.1 269.1 120.9 269.9 121.1 269.9 121.4 269.4 122.4 270.1 122.6 269.6 123.4 270.4 123.6 270.1 124.4 270.6 124.9 270.4 125.4 270.6 125.6 270.1 126.4 270.9 126.6 270.9 126.9 270.4 127.6 271.1 127.9 271.1 128.1 270.6 129.1 271.4 129.4 270.9 129.9 271.6 130.4 271.4 131.1 271.9 131.6 271.6 132.1 271.9 132.4 271.4 133.1 272.1 133.4 272.1 133.6 271.6 134.4 272.4 134.6 272.4 134.9 271.9 135.6 272.6 135.9 272.6 136.1 272.1 136.9 272.9 137.1 272.6 137.6 272.9 137.9 272.4 138.6 273.1 138.9 273.1 139.1 272.6 139.9 273.4 140.1 273.4 140.4 272.9 141.1 273.6 141.4 273.6 141.6 273.1 142.4 273.9 142.9 273.6 143.4 273.9 143.6 273.4 144.4 274.1 144.6 274.1 144.9 273.6 145.6 274.4 145.9 273.9 146.6 274.6 147.1 274.4 147.9 274.9 148.4 274.6 148.9 274.9 149.1 274.4 149.9 275.1 150.1 275.1 150.4 274.6 151.1 275.4 151.4 275.4 151.6 274.9 152.4 275.6 152.9 275.4 153.6 275.9 154.1 275.6 154.6 275.9 154.9 275.4 155.6 276.1 155.9 276.1 156.1 275.6 156.9 276.4 157.4 276.1 158.1 276.6 158.6 276.4 159.6 277.1 159.9 276.6 160.4 276.9 160.6 276.4 161.4 277.1 161.9 276.9 162.6 277.4 162.9 277.1 163.9 277.9 164.1 277.4 165.1 278.1 165.4 277.6 165.6 277.9 166.1 277.6 167.1 278.4 167.4 277.9 168.4 278.6 168.6 278.1 169.6 278.9 169.9 278.4 170.1 278.6 170.6 278.4 171.6 279.1 171.9 278.6 172.9 279.4 173.1 278.9 174.1 279.6 174.4 279.1 175.1 279.9 175.4 279.9 175.6 279.4 176.1 279.9 176.4 279.4 177.4 280.1 177.6 279.6 178.6 280.4 178.9 279.9 180.1 280.6 180.4 280.1 181.4 280.9 181.6 280.4 182.4 281.1 182.6 281.1 182.9 280.6 183.6 281.4 183.9 281.4 184.1 280.9 184.6 281.4 184.9 280.9 185.9 281.6 186.1 281.1 187.1 281.9 187.4 281.4 188.1 282.1 188.4 282.1 188.6 281.6 189.4 282.4 189.6 282.4 189.9 281.9 190.9 282.6 191.1 282.1 191.9 282.9 192.1 282.9 192.4 282.4 192.9 282.9 193.1 282.4 193.9 283.1 194.1 283.1 194.4 282.6 195.1 283.4 195.4 283.4 195.6 282.9 196.9 283.6 197.1 283.1 198.4 284.1 198.6 284.1 198.9 283.6 199.9 284.1 200.1 283.6 201.4 284.6 201.6 284.6 201.9 284.1 203.1 285.1 203.4 285.1 203.6 284.6 204.4 285.4 205.4 285.6 205.6 285.1 206.9 286.1 207.1 286.1 207.4 285.6 208.4 286.1 208.6 285.6 209.9 286.6 210.1 286.6 210.4 286.1 211.1 286.9 212.1 287.1 212.4 286.6 213.1 287.4 213.4 287.4 213.6 286.9 214.6 287.6 214.9 287.1 216.1 288.1 216.4 288.1 216.6 287.6 217.9 288.1 218.1 287.6 219.4 288.9 219.6 288.9 219.9 288.4 220.9 288.9 221.1 288.4 222.1 289.4 222.6 288.6 223.9 289.6 224.1 289.6 224.4 289.1 225.1 289.9 224.4 292.1 222.6 295.6 221.6 298.9 219.4 303.6 218.4 306.6 219.1 306.6 219.4 306.4 222.1 306.4 222.4 306.1 225.4 306.1 225.6 305.9 228.4 305.9 228.6 305.6 234.6 305.4 234.9 305.1 240.9 304.9 241.1 304.6 247.1 304.4 247.4 304.1 253.4 303.9 253.6 303.6 259.6 303.4 259.9 303.1 265.9 302.9 266.1 302.6 269.1 302.6 269.4 302.4 272.1 302.4 272.4 302.1 275.4 302.1 275.6 301.9 278.4 301.9 278.6 301.6 281.6 301.6 281.9 301.4 284.6 301.4 284.9 301.1 287.9 301.1 288.1 300.9 290.9 300.9 291.1 300.6 294.1 300.6 294.4 300.4 298.1 300.1 299.6 299.6 300.9 299.6 301.1 299.4 305.9 298.6 307.1 298.1 308.1 298.1 308.4 297.9 314.1 296.6 319.4 294.9 320.1 294.9 326.1 292.9 326.9 292.4 328.9 291.9 329.6 291.4 330.9 291.1 331.6 290.6 335.9 289.1 341.1 286.6 341.6 286.6 344.9 284.9 345.4 284.9 351.4 281.9 351.9 281.4 355.1 279.9 355.6 279.4 362.1 275.9 363.6 272.6 364.6 269.4 366.1 266.1 366.4 264.9 367.9 261.6 368.1 260.4 368.6 259.6 370.9 253.1 371.4 252.4 371.6 251.1 372.1 250.4 372.9 244.9 373.9 243.1 373.9 242.4 374.1 242.1 374.4 239.6 374.6 239.4 374.6 238.4 374.9 238.1 374.9 237.1 375.1 236.9 375.1 235.9 375.6 234.4 375.6 233.1 375.9 232.9 376.1 230.6 376.9 228.1 377.4 227.4 379.1 221.9 384.9 210.6 386.1 206.6 386.6 205.9 386.9 204.6 387.4 203.9 387.9 201.9 388.6 200.4 388.9 197.1 389.1 196.9 389.1 194.9 389.4 194.6 389.4 192.6 389.6 192.4 389.6 190.6 389.9 190.4 389.9 188.4 390.1 188.1 390.1 186.4 390.4 186.1 390.4 184.1 390.6 183.9 390.6 182.1 390.9 181.9 390.9 179.9 391.1 179.6 391.1 177.6 391.4 177.4 391.4 175.6 391.6 175.4 391.6 173.4 391.9 173.1 391.9 171.4 392.1 171.1 392.4 163.6 392.6 163.4 392.6 159.1 392.9 158.9 392.9 154.6 393.1 154.4 393.1 150.1 393.4 149.9 393.4 145.9 393.6 145.6 393.6 141.4 393.9 141.1 393.9 136.9 394.1 136.6 394.1 132.4 394.4 132.1 394.4 128.9 394.6 128.6 394.6 125.9 394.9 125.6 394.9 122.9 395.1 122.6 395.1 120.1 395.4 119.9 395.4 117.1 395.6 116.9 395.6 114.4 395.9 114.1 395.9 111.4 396.1 111.1 396.1 108.4 396.4 108.1 396.4 105.6 396.6 105.4 396.6 102.6 396.9 102.4 396.9 99.9 397.1 99.6 397.1 96.9 397.4 96.6 397.4 93.9 397.6 93.6 397.6 91.1 397.9 90.9Z"/>
<path fill="#8000e0" d="M233.6 245.1 233.9 244.9 234.4 245.1 234.1 245.4ZM398.1 86.6 397.4 86.6 394.6 85.6 390.1 84.6 384.6 82.9 382.9 82.6 377.4 80.9 375.6 80.6 370.1 78.9 368.4 78.6 362.9 76.9 361.1 76.6 355.6 74.9 353.9 74.6 351.1 73.6 345.4 72.4 344.4 71.9 343.6 71.9 342.6 71.4 338.4 70.4 334.4 68.9 333.6 68.9 330.4 67.6 328.1 67.6 327.9 67.4 325.9 67.4 325.6 67.1 325.4 67.4 323.9 67.4 323.6 67.6 320.1 67.9 317.4 69.1 315.6 72.9 314.1 77.4 310.6 84.9 309.1 89.6 305.6 97.1 305.4 98.4 304.9 99.1 304.6 100.4 303.4 102.9 303.4 103.4 302.4 105.1 300.9 109.9 299.1 113.4 297.6 117.9 294.1 125.4 292.4 130.1 288.9 137.6 288.1 139.9 287.1 141.6 286.4 143.9 285.4 145.6 285.4 146.1 284.1 148.6 281.4 156.1 276.9 165.9 275.4 170.6 273.6 174.1 273.6 174.6 271.9 178.1 271.9 178.6 270.1 182.1 270.1 182.6 267.6 187.4 266.4 190.9 260.4 203.1 260.1 204.6 257.4 212.4 257.1 212.6 255.9 212.4 255.1 211.9 253.9 211.6 253.1 211.1 251.9 210.9 251.1 210.4 249.9 210.1 249.1 209.6 247.9 209.4 247.1 208.9 239.9 206.4 237.9 205.4 235.9 204.9 233.9 203.9 232.6 203.6 231.9 203.1 230.6 202.9 229.9 202.4 228.6 202.1 227.9 201.6 225.9 201.1 223.9 200.1 221.9 199.6 219.9 198.6 212.6 196.1 208.6 196.4 206.1 197.9 203.9 200.9 203.4 202.1 202.4 203.4 201.9 204.9 201.1 205.9 201.1 206.6 200.1 208.1 200.1 208.9 198.9 211.1 198.9 211.9 197.6 214.1 197.6 214.9 196.4 217.1 196.4 217.9 195.1 220.1 195.1 220.9 193.9 223.1 193.9 223.9 192.6 226.1 192.6 226.9 190.6 231.1 192.1 231.6 193.1 231.6 193.6 232.4 194.1 232.6 195.4 232.6 196.4 233.1 199.4 233.6 199.9 234.4 200.6 234.4 203.6 235.4 206.4 235.9 206.6 236.4 207.1 236.6 207.9 236.6 210.9 237.6 212.1 237.6 212.6 238.4 218.6 239.9 218.9 240.4 219.4 240.6 220.6 240.6 220.9 240.9 223.6 241.4 224.9 242.4 225.6 242.4 228.9 243.4 230.1 243.4 230.6 244.1 233.4 244.6 233.6 244.9 233.4 245.1 232.4 245.1 230.9 244.6 229.4 244.6 229.1 244.4 225.1 243.9 224.9 243.6 223.6 243.6 223.4 243.4 219.4 242.9 219.1 242.6 217.9 242.6 217.6 242.4 216.4 242.4 216.1 242.1 210.6 241.4 210.4 241.1 209.1 241.1 208.9 240.9 206.4 240.6 204.9 240.1 203.6 240.1 203.4 239.9 201.9 239.9 200.4 239.4 196.1 238.9 194.6 238.4 193.4 238.4 191.1 237.6 190.1 237.6 187.9 236.9 186.9 236.9 184.6 236.1 181.4 235.6 181.1 235.4 178.1 234.9 175.9 234.1 174.9 234.1 173.6 233.6 170.4 233.1 168.4 232.4 167.4 232.4 166.1 231.9 165.1 231.9 163.9 231.4 160.6 230.9 159.6 230.4 158.6 230.4 158.4 230.1 156.4 229.9 153.1 228.9 150.9 228.6 147.6 227.6 146.6 227.6 144.4 226.9 141.1 226.4 140.9 226.1 137.9 225.6 136.9 225.1 134.6 224.9 132.4 224.1 131.4 224.1 129.9 223.6 126.9 223.6 126.6 223.9 125.9 223.9 124.4 224.9 121.1 228.1 118.9 233.1 118.4 233.6 117.4 235.9 116.4 237.4 116.4 237.9 115.9 238.6 115.9 239.6 115.1 240.9 115.1 241.4 114.4 242.6 114.4 243.1 113.6 244.4 112.9 246.6 112.1 247.6 112.1 248.4 109.4 253.9 106.9 257.6 106.6 258.6 105.6 260.4 104.6 261.6 104.6 262.1 105.1 262.4 105.4 262.1 105.9 262.6 106.1 262.1 106.6 262.6 106.9 262.1 107.9 262.9 108.1 262.4 108.6 262.9 108.9 262.4 109.6 263.1 109.9 262.9 110.4 263.1 110.6 262.6 111.4 263.4 111.9 263.1 112.4 263.4 112.6 263.1 113.6 263.9 113.9 263.4 114.1 263.6 114.4 263.4 115.4 264.1 115.6 263.6 116.1 264.1 116.4 263.6 116.9 264.1 117.1 263.6 117.9 264.4 118.1 264.4 118.4 263.9 118.9 264.4 119.1 263.9 119.6 264.6 119.9 264.6 120.1 264.1 120.9 264.9 121.1 264.9 121.4 264.4 122.1 265.1 122.4 265.1 122.6 264.6 123.4 265.4 123.6 265.4 123.9 264.9 124.4 265.1 124.6 265.6 124.9 265.1 125.9 265.9 126.1 265.4 127.1 266.1 127.4 265.6 128.4 266.4 128.6 265.9 129.6 266.6 129.9 266.1 130.4 266.6 130.9 266.4 131.9 266.9 132.1 266.4 132.9 267.1 133.1 267.1 133.4 266.6 134.1 267.4 134.4 267.4 134.6 266.9 135.6 267.6 135.9 267.1 136.6 267.9 136.9 267.4 137.6 268.1 137.9 268.1 138.1 267.6 138.9 268.4 139.1 268.4 139.4 267.9 140.1 268.6 140.4 268.6 140.6 268.1 141.6 268.9 141.9 268.4 142.9 269.1 143.1 268.6 144.1 269.4 144.4 268.9 145.1 269.6 145.4 269.1 146.4 269.9 146.6 269.4 147.6 270.1 147.9 269.6 148.9 270.1 149.1 269.6 149.9 270.4 150.1 270.4 150.4 269.9 151.1 270.6 151.4 270.6 151.6 270.1 152.4 270.9 152.6 270.9 152.9 270.4 153.6 271.1 153.9 271.1 154.1 270.6 155.1 271.4 155.4 270.9 156.1 271.6 156.4 271.1 157.1 271.9 157.4 271.9 157.6 271.4 158.4 272.1 158.6 272.1 158.9 271.6 159.6 272.4 159.9 272.4 160.1 271.9 160.9 272.6 161.1 272.6 161.4 272.1 162.1 272.9 162.4 272.9 162.6 272.4 163.4 273.1 163.6 273.1 163.9 272.6 164.6 273.4 164.9 273.4 165.1 272.9 165.9 273.6 166.1 273.6 166.4 273.1 167.1 273.9 167.4 273.9 167.6 273.4 168.4 274.1 168.6 274.1 168.9 273.6 169.6 274.4 169.9 274.4 170.1 273.9 170.9 274.6 171.1 274.6 171.4 274.1 172.1 274.9 172.4 274.9 172.6 274.4 173.4 275.1 173.6 275.1 173.9 274.6 174.9 275.4 175.1 274.9 176.1 275.6 176.4 275.1 177.4 275.9 177.6 275.4 178.1 275.6 178.4 275.1 179.9 276.4 180.1 275.9 181.1 276.6 181.4 276.1 182.4 276.9 182.6 276.4 183.6 276.9 183.9 276.4 184.6 277.1 184.9 277.1 185.1 276.6 186.1 277.4 186.4 276.9 186.9 277.1 187.1 276.6 187.9 277.4 188.1 277.4 188.4 276.9 189.4 277.9 189.6 277.1 190.6 277.9 190.9 277.9 191.1 277.4 191.9 278.1 192.1 278.1 192.4 277.6 193.1 278.4 193.4 278.4 193.6 277.9 194.4 278.6 194.6 278.6 194.9 278.1 195.6 278.9 195.9 278.9 196.1 278.4 197.1 279.1 197.4 278.6 198.6 279.9 198.9 279.9 199.1 279.4 200.1 279.9 200.4 279.4 201.1 280.1 202.1 280.4 202.4 279.9 203.6 280.9 203.9 280.9 204.1 280.4 205.4 281.4 205.6 281.4 205.9 280.9 207.4 281.6 207.6 281.1 208.4 281.9 209.4 282.1 209.6 281.6 210.9 282.6 211.1 282.6 211.4 282.1 212.6 283.1 212.9 283.1 213.1 282.6 214.1 283.1 214.4 282.6 215.9 283.6 216.1 283.6 216.4 283.1 217.4 283.9 217.6 283.4 218.9 284.4 219.1 284.4 219.4 283.9 220.4 284.6 220.9 283.9 222.1 285.1 222.4 285.1 222.6 284.6 223.6 285.1 223.9 284.6 225.4 285.9 225.9 285.1 226.6 285.9 225.9 287.4 224.4 292.1 222.6 295.6 221.6 298.9 219.9 302.6 220.9 302.6 221.1 302.4 224.1 302.4 224.4 302.1 227.1 302.1 227.4 301.9 230.4 301.9 230.6 301.6 233.4 301.6 233.6 301.4 236.6 301.4 236.9 301.1 239.6 301.1 239.9 300.9 245.9 300.6 246.1 300.4 252.1 300.1 252.4 299.9 258.4 299.6 258.6 299.4 261.6 299.4 261.9 299.1 264.6 299.1 264.9 298.9 267.9 298.9 268.1 298.6 270.9 298.6 271.1 298.4 274.1 298.4 274.4 298.1 277.1 298.1 277.4 297.9 280.4 297.9 280.6 297.6 283.4 297.6 283.6 297.4 286.6 297.4 286.9 297.1 289.6 297.1 289.9 296.9 295.9 296.6 296.1 296.4 297.6 296.4 297.9 296.1 299.1 296.1 299.4 295.9 300.6 295.9 300.9 295.6 306.9 294.6 307.1 294.4 310.1 293.9 313.1 292.9 315.9 292.4 320.1 290.9 320.9 290.9 326.9 288.9 327.6 288.4 329.6 287.9 331.6 286.9 332.9 286.6 340.1 283.4 340.6 283.4 342.9 282.1 343.4 282.1 353.9 276.9 354.4 276.4 360.6 273.1 364.4 270.6 364.6 269.4 367.9 261.6 368.1 260.4 368.6 259.6 370.9 253.1 371.4 252.4 371.6 251.1 372.1 250.4 372.9 244.9 373.9 243.1 373.9 242.4 374.1 242.1 374.4 239.6 374.6 239.4 374.6 238.4 374.9 238.1 374.9 237.1 375.1 236.9 375.1 235.9 375.6 234.4 375.6 233.1 375.9 232.9 376.1 230.6 376.9 228.1 377.4 227.4 379.1 221.9 384.9 210.6 386.1 206.6 386.6 205.9 386.9 204.6 387.4 203.9 387.9 201.9 388.6 200.4 388.9 197.1 389.1 196.9 389.1 194.9 389.4 194.6 389.4 192.6 389.6 192.4 389.6 190.6 389.9 190.4 389.9 188.4 390.1 188.1 390.1 186.4 390.4 186.1 390.4 184.1 390.6 183.9 390.6 182.1 390.9 181.9 390.9 179.9 391.1 179.6 391.1 177.6 391.4 177.4 391.4 175.6 391.6 175.4 391.6 173.4 391.9 173.1 391.9 171.4 392.1 171.1 392.4 163.6 392.6 163.4 392.6 159.1 392.9 158.9 392.9 154.6 393.1 154.4 393.1 150.1 393.4 149.9 393.4 145.9 393.6 145.6 393.6 141.4 393.9 141.1 393.9 136.9 394.1 136.6 394.1 132.4 394.4 132.1 394.4 128.9 394.6 128.6 394.6 125.9 394.9 125.6 394.9 122.9 395.1 122.6 395.1 120.1 395.4 119.9 395.4 117.1 395.6 116.9 395.6 114.4 395.9 114.1 395.9 111.4 396.1 111.1 396.1 108.4 396.4 108.1 396.4 105.6 396.6 105.4 396.6 102.6 396.9 102.4 396.9 99.9 397.1 99.6 397.1 96.9 397.4 96.6 397.4 93.9 397.6 93.6 397.6 91.1 397.9 90.9Z"/>
<path fill="#6000f0" d="M228.1 280.9 228.4 281.1 228.1 281.9 227.9 281.6ZM398.1 86.6 397.4 86.6 394.6 85.6 390.1 84.6 384.6 82.9 382.9 82.6 377.4 80.9 375.6 80.6 370.1 78.9 368.4 78.6 362.9 76.9 361.1 76.6 355.6 74.9 353.9 74.6 351.1 73.6 345.4 72.4 344.4 71.9 343.6 71.9 342.6 71.4 338.4 70.4 334.4 68.9 333.6 68.9 330.4 67.6 328.1 67.6 327.9 67.4 325.9 67.4 325.6 67.1 325.4 67.4 323.9 67.4 323.6 67.6 320.1 67.9 317.4 69.1 315.6 72.9 314.1 77.4 310.6 84.9 309.1 89.6 305.6 97.1 305.4 98.4 304.9 99.1 304.6 100.4 303.4 102.9 303.4 103.4 302.4 105.1 300.9 109.9 299.1 113.4 297.6 117.9 294.1 125.4 292.4 130.1 288.9 137.6 288.1 139.9 287.1 141.6 286.4 143.9 285.4 145.6 285.4 146.1 284.1 148.6 281.4 156.1 276.9 165.9 275.4 170.6 273.6 174.1 273.6 174.6 271.9 178.1 271.9 178.6 270.1 182.1 270.1 182.6 267.6 187.4 266.4 190.9 260.4 203.1 260.1 204.6 257.4 212.4 257.1 212.6 255.9 212.4 255.1 211.9 253.9 211.6 253.1 211.1 251.9 210.9 251.1 210.4 249.9 210.1 249.1 209.6 247.9 209.4 247.1 208.9 239.9 206.4 237.9 205.4 235.9 204.9 233.9 203.9 232.6 203.6 231.9 203.1 230.6 202.9 229.9 202.4 228.6 202.1 227.9 201.6 225.9 201.1 223.9 200.1 221.9 199.6 219.9 198.6 212.6 196.1 208.6 196.4 206.1 197.9 204.9 199.4 204.6 200.1 203.9 200.9 203.4 202.1 202.4 203.4 202.4 203.9 201.1 205.9 201.1 206.6 200.1 208.1 200.1 208.9 198.9 211.1 198.9 211.9 197.6 214.1 197.6 214.9 196.4 217.1 196.4 217.9 195.1 220.1 195.1 220.9 192.6 226.1 192.6 227.1 196.4 227.9 196.9 228.6 198.6 228.9 199.6 229.4 205.4 230.6 205.9 231.4 208.6 231.9 209.6 232.4 210.4 232.4 212.6 233.1 213.6 233.1 214.4 233.4 214.6 234.1 223.4 236.1 223.9 236.9 224.4 237.1 225.6 237.1 225.9 237.4 228.6 237.9 229.6 238.4 232.1 238.9 232.4 239.6 233.6 239.6 233.9 239.9 240.4 241.4 240.9 242.1 244.1 242.9 244.9 243.4 243.4 246.4 242.9 246.9 242.4 246.6 241.1 246.6 240.9 246.4 239.6 246.4 239.4 246.1 238.1 246.1 237.9 245.9 236.6 245.9 235.1 245.4 232.4 245.1 230.9 244.6 229.4 244.6 227.9 244.1 223.6 243.6 222.1 243.1 216.4 242.4 214.9 241.9 209.1 241.1 208.9 240.9 206.4 240.6 204.9 240.1 201.9 239.9 200.4 239.4 199.1 239.4 198.9 239.1 196.1 238.9 194.6 238.4 193.4 238.4 191.1 237.6 190.1 237.6 187.9 236.9 186.9 236.9 184.6 236.1 181.4 235.6 181.1 235.4 178.1 234.9 175.9 234.1 174.9 234.1 173.6 233.6 170.4 233.1 168.4 232.4 167.4 232.4 166.1 231.9 165.1 231.9 163.9 231.4 160.6 230.9 159.6 230.4 158.6 230.4 158.4 230.1 156.4 229.9 153.1 228.9 150.9 228.6 147.6 227.6 146.6 227.6 144.4 226.9 141.1 226.4 140.9 226.1 137.9 225.6 136.9 225.1 134.6 224.9 132.4 224.1 131.4 224.1 129.9 223.6 126.9 223.6 126.6 223.9 125.9 223.9 124.4 224.9 121.1 228.1 118.9 233.1 118.4 233.6 117.4 235.9 116.4 237.4 116.4 237.9 115.9 238.6 115.9 239.6 115.1 240.9 115.1 241.4 114.4 242.6 114.4 243.1 113.6 244.4 112.9 246.6 112.1 247.6 112.1 248.4 109.4 253.9 107.4 256.9 107.4 257.4 107.9 257.1 108.6 257.6 109.1 257.4 109.6 257.6 109.9 257.4 110.6 257.9 110.9 257.6 111.9 258.4 112.1 257.9 112.4 258.1 112.9 257.9 113.9 258.6 114.1 258.1 114.9 258.6 115.1 258.4 115.6 258.9 115.9 258.4 116.9 259.1 117.1 258.6 117.4 258.9 117.9 258.6 118.9 259.4 119.1 258.9 119.6 259.1 119.9 259.6 120.1 259.1 120.6 259.6 120.9 259.1 121.9 259.9 122.1 259.4 123.1 260.1 123.4 259.6 124.1 260.1 124.6 259.9 125.9 260.9 126.1 260.4 127.1 260.9 127.4 260.4 128.1 261.1 128.4 261.1 128.6 260.6 129.4 261.4 129.6 261.4 129.9 260.9 130.6 261.6 130.9 261.1 131.6 261.6 132.1 261.4 133.6 262.4 133.9 261.9 134.9 262.4 135.1 261.9 135.9 262.6 136.1 262.1 136.9 262.9 137.1 262.9 137.4 262.4 138.4 263.1 138.6 262.6 140.1 263.6 140.4 263.1 141.4 263.9 141.6 263.4 142.6 263.9 142.9 263.4 143.4 264.1 143.6 264.1 143.9 263.6 144.6 264.4 144.9 264.4 145.1 263.9 146.1 264.6 146.4 264.1 147.6 265.1 147.9 265.1 148.1 264.6 149.1 265.4 149.4 264.9 150.4 265.4 150.6 264.9 151.4 265.6 151.6 265.6 151.9 265.1 152.4 265.9 152.6 265.9 152.9 265.4 153.9 266.1 154.1 265.6 155.4 266.6 155.6 266.6 155.9 266.1 156.6 266.9 156.9 266.9 157.1 266.4 158.1 267.1 158.4 266.6 159.4 267.1 159.6 266.6 160.4 267.4 160.6 267.4 160.9 266.9 161.6 267.6 161.9 267.6 162.1 267.1 163.4 268.1 163.6 268.1 163.9 267.6 164.6 268.4 164.9 268.4 165.1 267.9 165.9 268.6 166.1 268.6 166.4 268.1 167.4 268.9 167.6 268.4 168.6 268.9 168.9 268.4 169.6 269.1 169.9 269.1 170.1 268.6 171.6 269.9 171.9 269.4 172.9 269.9 173.1 269.4 173.9 270.1 174.1 270.1 174.4 269.6 175.1 270.4 175.4 270.4 175.6 269.9 176.4 270.6 176.6 270.6 176.9 270.1 177.9 270.6 178.1 270.1 179.4 271.4 179.6 271.4 179.9 270.9 180.6 271.6 180.9 271.6 181.1 271.1 182.1 271.6 182.4 271.1 183.1 271.9 183.4 271.9 183.6 271.4 184.4 272.1 184.6 272.1 184.9 271.6 185.6 272.4 185.9 272.4 186.1 271.9 186.9 272.6 187.1 272.6 187.4 272.1 188.4 272.6 188.6 272.1 189.9 273.4 190.1 273.4 190.4 272.9 191.1 273.6 191.4 273.6 191.6 273.1 192.4 273.9 192.6 273.9 192.9 273.4 193.6 274.1 193.9 274.1 194.1 273.4 194.9 274.1 195.1 274.1 195.4 273.6 196.4 274.6 196.6 273.9 197.6 274.6 197.9 274.6 198.1 274.1 198.9 274.9 199.1 274.9 199.4 274.4 200.6 275.4 200.9 275.4 201.1 274.9 202.4 275.9 202.6 275.9 202.9 275.1 204.1 276.4 204.6 275.6 206.1 276.9 206.6 276.1 207.4 276.9 208.1 277.1 208.4 276.6 209.6 277.6 209.9 277.6 210.1 276.9 211.4 278.1 211.9 277.4 213.4 278.4 213.6 278.4 213.9 277.9 214.9 278.4 215.1 277.9 216.4 279.1 216.6 279.1 216.9 278.4 218.4 279.6 218.6 279.6 218.9 278.9 219.9 279.6 220.1 278.9 221.4 280.1 221.6 280.1 221.9 279.6 222.9 280.1 223.1 279.6 224.6 280.9 224.9 280.9 225.1 280.1 226.4 281.4 226.6 281.4 226.9 280.6 228.1 282.1 227.4 283.4 225.4 289.4 224.9 290.1 224.4 292.1 222.6 295.6 221.6 298.6 222.6 298.6 222.9 298.4 225.9 298.4 226.1 298.1 228.9 298.1 229.1 297.9 232.1 297.9 232.4 297.6 235.1 297.6 235.4 297.4 238.4 297.4 238.6 297.1 241.4 297.1 241.6 296.9 247.6 296.6 247.9 296.4 253.9 296.1 254.1 295.9 260.1 295.6 260.4 295.4 263.4 295.4 263.6 295.1 266.4 295.1 266.6 294.9 269.6 294.9 269.9 294.6 272.6 294.6 272.9 294.4 275.9 294.4 276.1 294.1 278.9 294.1 279.1 293.9 282.1 293.9 282.4 293.6 285.1 293.6 285.4 293.4 288.4 293.4 288.6 293.1 291.4 293.1 291.6 292.9 294.6 292.9 294.9 292.6 297.1 292.6 297.4 292.4 298.6 292.4 298.9 292.1 300.1 292.1 300.4 291.9 301.6 291.9 301.9 291.6 306.6 290.9 308.9 290.1 309.9 290.1 310.1 289.9 313.9 289.1 314.9 288.6 319.1 287.6 321.6 286.6 322.4 286.6 335.4 281.9 342.4 278.6 342.9 278.6 346.6 276.6 347.1 276.6 355.4 272.4 355.9 271.9 362.9 268.1 366.1 266.1 366.4 264.9 369.1 258.4 369.4 257.1 369.9 256.4 370.1 255.1 372.1 250.4 372.9 244.9 373.9 243.1 373.9 242.4 374.1 242.1 374.4 239.6 374.6 239.4 374.6 238.4 374.9 238.1 374.9 237.1 375.1 236.9 375.1 235.9 375.6 234.4 375.6 233.1 375.9 232.9 376.1 230.6 376.9 228.1 377.4 227.4 379.1 221.9 384.9 210.6 386.1 206.6 386.6 205.9 386.9 204.6 387.4 203.9 387.9 201.9 388.6 200.4 388.9 197.1 389.1 196.9 389.1 194.9 389.4 194.6 389.4 192.6 389.6 192.4 389.6 190.6 389.9 190.4 389.9 188.4 390.1 188.1 390.1 186.4 390.4 186.1 390.4 184.1 390.6 183.9 390.6 182.1 390.9 181.9 390.9 179.9 391.1 179.6 391.1 177.6 391.4 177.4 391.4 175.6 391.6 175.4 391.6 173.4 391.9 173.1 391.9 171.4 392.1 171.1 392.4 163.6 392.6 163.4 392.6 159.1 392.9 158.9 392.9 154.6 393.1 154.4 393.1 150.1 393.4 149.9 393.4 145.9 393.6 145.6 393.6 141.4 393.9 141.1 393.9 136.9 394.1 136.6 394.1 132.4 394.4 132.1 394.4 128.9 394.6 128.6 394.6 125.9 394.9 125.6 394.9 122.9 395.1 122.6 395.1 120.1 395.4 119.9 395.4 117.1 395.6 116.9 395.6 114.4 395.9 114.1 395.9 111.4 396.1 111.1 396.1 108.4 396.4 108.1 396.4 105.6 396.6 105.4 396.6 102.6 396.9 102.4 396.9 99.9 397.1 99.6 397.1 96.9 397.4 96.6 397.4 93.9 397.6 93.6 397.6 91.1 397.9 90.9Z"/>
<path fill="#2400f4" d="M398.1 86.6 397.4 86.6 394.6 85.6 390.1 84.6 384.6 82.9 382.9 82.6 377.4 80.9 375.6 80.6 370.1 78.9 368.4 78.6 362.9 76.9 361.1 76.6 355.6 74.9 353.9 74.6 351.1 73.6 345.4 72.4 344.4 71.9 343.6 71.9 342.6 71.4 338.4 70.4 334.4 68.9 333.6 68.9 330.4 67.6 328.1 67.6 327.9 67.4 325.9 67.4 325.6 67.1 325.4 67.4 323.9 67.4 323.6 67.6 320.1 67.9 317.4 69.1 315.6 72.9 314.1 77.4 310.6 84.9 309.1 89.6 305.6 97.1 305.4 98.4 304.9 99.1 304.6 100.4 303.4 102.9 303.4 103.4 302.4 105.1 300.9 109.9 299.1 113.4 297.6 117.9 294.1 125.4 292.4 130.1 288.9 137.6 288.1 139.9 287.1 141.6 286.4 143.9 285.4 145.6 285.4 146.1 284.1 148.6 281.4 156.1 276.9 165.9 275.4 170.6 273.6 174.1 273.6 174.6 271.9 178.1 271.9 178.6 270.1 182.1 270.1 182.6 267.6 187.4 266.4 190.9 260.4 203.1 260.1 204.6 257.4 212.4 257.1 212.6 255.9 212.4 255.1 211.9 253.9 211.6 253.1 211.1 251.9 210.9 251.1 210.4 249.9 210.1 249.1 209.6 247.9 209.4 247.1 208.9 239.9 206.4 237.9 205.4 235.9 204.9 233.9 203.9 232.6 203.6 231.9 203.1 230.6 202.9 229.9 202.4 228.6 202.1 227.9 201.6 225.9 201.1 223.9 200.1 221.9 199.6 219.9 198.6 212.6 196.1 208.6 196.4 206.1 197.9 204.9 199.4 204.6 200.1 203.9 200.9 203.4 202.1 202.4 203.4 202.4 203.9 201.1 205.9 201.1 206.6 200.1 208.1 200.1 208.9 198.9 211.1 198.9 211.9 197.6 214.1 197.6 214.9 195.1 220.1 195.1 220.9 194.6 221.6 194.6 222.1 197.1 222.6 197.6 223.4 198.1 223.6 199.1 223.6 202.1 224.6 204.9 225.1 205.9 225.6 210.9 226.6 211.4 226.9 211.9 227.6 213.4 227.9 216.4 228.9 220.1 229.6 221.1 230.1 224.9 230.9 225.9 231.4 226.6 231.4 227.1 232.1 227.6 232.4 228.4 232.4 228.6 232.6 233.4 233.6 234.4 234.1 242.1 235.9 242.9 236.4 243.6 236.4 244.1 237.1 246.9 237.6 247.4 238.4 243.4 246.4 242.9 246.9 242.4 246.6 241.1 246.6 240.9 246.4 239.6 246.4 239.4 246.1 238.1 246.1 237.9 245.9 236.6 245.9 235.1 245.4 232.4 245.1 230.9 244.6 229.4 244.6 227.9 244.1 223.6 243.6 222.1 243.1 216.4 242.4 214.9 241.9 209.1 241.1 208.9 240.9 206.4 240.6 204.9 240.1 201.9 239.9 200.4 239.4 199.1 239.4 198.9 239.1 196.1 238.9 194.6 238.4 193.4 238.4 191.1 237.6 190.1 237.6 187.9 236.9 186.9 236.9 184.6 236.1 181.4 235.6 181.1 235.4 178.1 234.9 175.9 234.1 174.9 234.1 173.6 233.6 170.4 233.1 168.4 232.4 167.4 232.4 166.1 231.9 165.1 231.9 163.9 231.4 160.6 230.9 159.6 230.4 158.6 230.4 158.4 230.1 156.4 229.9 153.1 228.9 150.9 228.6 147.6 227.6 146.6 227.6 144.4 226.9 141.1 226.4 140.9 226.1 137.9 225.6 136.9 225.1 134.6 224.9 132.4 224.1 131.4 224.1 129.9 223.6 126.9 223.6 126.6 223.9 125.9 223.9 124.4 224.9 121.1 228.1 118.9 233.1 118.4 233.6 117.4 235.9 116.4 237.4 116.4 237.9 115.9 238.6 115.9 239.6 115.1 240.9 115.1 241.4 114.4 242.6 114.4 243.1 113.6 244.4 112.9 246.6 112.1 247.6 112.1 248.4 110.6 251.1 110.6 251.6 111.4 252.1 111.6 251.6 112.4 252.4 112.6 251.9 113.6 252.6 113.9 252.1 114.9 252.9 115.1 252.4 115.6 252.6 115.9 253.1 116.1 252.6 116.6 252.9 116.9 252.4 117.6 253.1 117.9 253.1 118.1 252.6 119.1 253.4 119.4 252.9 120.1 253.6 120.4 253.1 121.4 254.1 121.6 253.6 122.6 254.4 122.9 253.9 123.4 254.1 123.6 253.6 124.4 254.4 124.6 253.9 125.9 254.9 126.1 254.9 126.4 254.4 127.4 255.1 127.6 254.6 129.1 255.4 129.4 254.9 129.9 255.6 130.1 255.6 130.4 255.1 131.4 255.9 131.6 255.4 133.1 256.4 133.4 255.9 134.4 256.4 134.6 255.9 135.1 256.6 135.9 256.9 136.1 256.4 136.9 257.1 137.1 257.1 137.4 256.6 138.4 257.1 138.6 256.6 139.9 257.6 140.1 257.6 140.4 257.1 141.1 257.9 141.4 257.4 142.6 258.4 142.9 258.4 143.1 257.9 144.1 258.4 144.4 257.9 145.1 258.6 145.4 258.6 145.6 258.1 146.9 259.1 147.1 259.1 147.4 258.6 148.4 259.1 148.6 258.6 149.6 259.9 150.1 259.1 150.9 259.9 151.1 259.9 151.4 259.4 152.1 260.1 152.6 259.4 153.9 260.6 154.1 260.6 154.4 260.1 155.4 260.6 155.6 260.1 156.4 260.9 157.1 261.1 157.4 260.6 158.1 261.4 158.4 261.4 158.6 260.9 159.4 261.4 159.6 260.9 160.9 262.1 161.4 261.4 162.1 262.1 162.4 262.1 162.6 261.6 163.4 262.4 164.1 262.6 164.4 262.1 165.1 262.9 165.4 262.9 165.6 262.4 166.6 262.9 166.9 262.4 168.1 263.6 168.6 262.9 169.4 263.6 169.6 263.6 169.9 263.1 170.6 263.9 171.4 264.1 171.6 263.6 172.4 264.4 172.6 264.4 172.9 263.6 173.6 264.4 173.9 264.4 174.1 263.9 175.4 265.1 175.6 265.1 175.9 264.4 176.6 265.1 176.9 265.1 177.1 264.6 177.9 265.4 178.1 265.4 178.4 264.6 179.6 265.9 179.9 265.9 180.1 265.1 180.9 265.9 181.1 265.9 181.4 265.4 182.4 266.1 182.6 265.4 183.9 266.9 184.1 266.9 184.4 266.1 185.1 266.9 185.4 266.9 185.6 266.4 186.6 267.1 186.9 266.4 188.1 267.6 188.4 267.6 188.6 267.1 189.6 268.1 189.6 267.4 189.9 267.1 190.9 268.1 191.1 267.4 192.1 268.1 192.4 268.1 192.6 267.4 193.9 268.9 194.1 268.9 194.4 268.1 195.1 268.9 195.4 268.9 195.6 268.4 196.6 269.1 196.9 268.4 197.9 269.4 198.1 268.6 199.4 269.9 199.6 269.9 199.9 269.1 200.4 269.9 200.9 270.1 201.1 269.4 202.6 270.6 203.1 269.6 204.4 270.9 204.6 270.9 204.9 270.1 206.1 271.4 206.4 271.4 206.6 270.6 207.9 271.9 208.4 270.9 209.9 272.4 210.4 271.4 211.6 272.6 212.1 271.6 213.4 273.1 213.9 272.1 215.1 273.4 215.4 273.4 215.6 272.6 217.1 273.9 217.4 273.9 217.6 273.1 218.6 273.9 218.9 273.1 220.1 274.4 220.4 274.4 220.6 273.6 221.6 274.6 222.4 274.9 222.6 274.1 223.9 275.4 224.1 275.4 224.4 274.6 225.4 275.4 225.6 274.6 227.1 275.9 227.4 275.9 227.6 275.1 228.6 275.9 228.9 275.1 230.4 276.9 227.4 283.4 225.4 289.4 224.9 290.1 224.4 292.1 222.9 295.1 225.6 295.1 225.9 294.9 228.6 294.9 228.9 294.6 231.9 294.6 232.1 294.4 234.9 294.4 235.1 294.1 238.1 294.1 238.4 293.9 241.1 293.9 241.4 293.6 244.4 293.6 244.6 293.4 247.4 293.4 247.6 293.1 250.6 293.1 250.9 292.9 253.6 292.9 253.9 292.6 256.9 292.6 257.1 292.4 259.9 292.4 260.1 292.1 263.1 292.1 263.4 291.9 266.1 291.9 266.4 291.6 269.4 291.6 269.6 291.4 272.4 291.4 272.6 291.1 275.6 291.1 275.9 290.9 278.6 290.9 278.9 290.6 281.9 290.6 282.1 290.4 284.9 290.4 285.1 290.1 288.1 290.1 288.4 289.9 297.1 289.4 297.4 289.1 298.6 289.1 298.9 288.9 300.1 288.9 300.4 288.6 301.6 288.6 301.9 288.4 307.9 287.4 308.1 287.1 315.9 285.4 319.4 284.1 320.1 284.1 329.1 281.1 333.1 279.4 334.4 279.1 335.6 278.4 336.1 278.4 340.4 276.4 340.9 276.4 343.1 275.1 343.6 275.1 347.9 272.9 348.4 272.9 360.1 266.6 367.6 262.1 368.1 260.4 368.6 259.6 370.9 253.1 371.4 252.4 371.6 251.1 372.1 250.4 372.9 244.9 373.9 243.1 373.9 242.4 374.1 242.1 374.4 239.6 374.6 239.4 374.6 238.4 374.9 238.1 374.9 237.1 375.1 236.9 375.1 235.9 375.6 234.4 375.6 233.1 375.9 232.9 376.1 230.6 376.9 228.1 377.4 227.4 379.1 221.9 384.9 210.6 386.1 206.6 386.6 205.9 386.9 204.6 387.4 203.9 387.9 201.9 388.6 200.4 388.9 197.1 389.1 196.9 389.1 194.9 389.4 194.6 389.4 192.6 389.6 192.4 389.6 190.6 389.9 190.4 389.9 188.4 390.1 188.1 390.1 186.4 390.4 186.1 390.4 184.1 390.6 183.9 390.6 182.1 390.9 181.9 390.9 179.9 391.1 179.6 391.1 177.6 391.4 177.4 391.4 175.6 391.6 175.4 391.6 173.4 391.9 173.1 391.9 171.4 392.1 171.1 392.4 163.6 392.6 163.4 392.6 159.1 392.9 158.9 392.9 154.6 393.1 154.4 393.1 150.1 393.4 149.9 393.4 145.9 393.6 145.6 393.6 141.4 393.9 141.1 393.9 136.9 394.1 136.6 394.1 132.4 394.4 132.1 394.4 128.9 394.6 128.6 394.6 125.9 394.9 125.6 394.9 122.9 395.1 122.6 395.1 120.1 395.4 119.9 395.4 117.1 395.6 116.9 395.6 114.4 395.9 114.1 395.9 111.4 396.1 111.1 396.1 108.4 396.4 108.1 396.4 105.6 396.6 105.4 396.6 102.6 396.9 102.4 396.9 99.9 397.1 99.6 397.1 96.9 397.4 96.6 397.4 93.9 397.6 93.6 397.6 91.1 397.9 90.9Z"/>
<path fill="#0000ec" d="M398.1 86.6 397.4 86.6 394.6 85.6 390.1 84.6 384.6 82.9 382.9 82.6 377.4 80.9 375.6 80.6 370.1 78.9 368.4 78.6 362.9 76.9 361.1 76.6 355.6 74.9 353.9 74.6 351.1 73.6 345.4 72.4 344.4 71.9 343.6 71.9 342.6 71.4 338.4 70.4 334.4 68.9 333.6 68.9 330.4 67.6 328.1 67.6 327.9 67.4 325.9 67.4 325.6 67.1 325.4 67.4 323.9 67.4 323.6 67.6 320.1 67.9 317.4 69.1 315.6 72.9 314.1 77.4 310.6 84.9 309.1 89.6 305.6 97.1 305.4 98.4 304.9 99.1 304.6 100.4 303.4 102.9 303.4 103.4 302.4 105.1 300.9 109.9 299.1 113.4 297.6 117.9 294.1 125.4 292.4 130.1 288.9 137.6 288.1 139.9 287.1 141.6 286.4 143.9 285.4 145.6 285.4 146.1 284.1 148.6 281.4 156.1 276.9 165.9 275.4 170.6 273.6 174.1 273.6 174.6 271.9 178.1 271.9 178.6 270.1 182.1 270.1 182.6 267.6 187.4 266.4 190.9 260.4 203.1 260.1 204.6 257.4 212.4 257.1 212.6 255.9 212.4 255.1 211.9 253.9 211.6 253.1 211.1 251.9 210.9 251.1 210.4 249.9 210.1 249.1 209.6 247.9 209.4 247.1 208.9 239.9 206.4 237.9 205.4 235.9 204.9 233.9 203.9 232.6 203.6 231.9 203.1 230.6 202.9 229.9 202.4 228.6 202.1 227.9 201.6 225.9 201.1 223.9 200.1 221.9 199.6 219.9 198.6 212.6 196.1 208.6 196.4 206.1 197.9 204.9 199.4 204.6 200.1 203.9 200.9 203.4 202.1 202.4 203.4 202.4 203.9 201.1 205.9 201.1 206.6 200.1 208.1 200.1 208.9 198.9 211.1 198.9 211.9 196.9 216.4 197.4 216.6 198.1 216.6 199.1 217.1 200.9 217.4 204.6 218.6 207.4 219.1 211.1 220.4 213.9 220.9 214.9 221.4 217.6 221.9 219.1 222.6 226.6 224.4 228.1 225.1 232.9 226.1 233.6 226.6 234.4 226.6 235.4 227.1 238.1 227.6 238.9 228.1 242.6 228.9 243.4 229.4 246.9 230.1 247.6 230.6 250.4 231.1 250.6 231.9 243.4 246.4 242.9 246.9 242.4 246.6 241.1 246.6 240.9 246.4 239.6 246.4 239.4 246.1 238.1 246.1 237.9 245.9 236.6 245.9 235.1 245.4 232.4 245.1 230.9 244.6 229.4 244.6 227.9 244.1 223.6 243.6 222.1 243.1 216.4 242.4 214.9 241.9 209.1 241.1 208.9 240.9 206.4 240.6 204.9 240.1 201.9 239.9 200.4 239.4 199.1 239.4 198.9 239.1 196.1 238.9 194.6 238.4 193.4 238.4 191.1 237.6 190.1 237.6 187.9 236.9 186.9 236.9 184.6 236.1 181.4 235.6 181.1 235.4 178.1 234.9 175.9 234.1 174.9 234.1 173.6 233.6 170.4 233.1 168.4 232.4 167.4 232.4 166.1 231.9 165.1 231.9 163.9 231.4 160.6 230.9 159.6 230.4 156.4 229.9 153.1 228.9 150.9 228.6 147.6 227.6 146.6 227.6 144.4 226.9 141.1 226.4 138.9 225.6 137.9 225.6 136.9 225.1 134.6 224.9 134.4 224.6 130.1 223.9 129.9 223.6 126.9 223.6 125.4 224.1 121.1 228.1 118.9 233.1 118.4 233.6 117.4 235.9 116.4 237.4 116.4 237.9 115.9 238.6 115.9 239.6 113.6 244.4 113.6 245.1 114.4 245.6 114.6 245.1 115.6 245.6 115.9 245.1 116.4 245.9 116.6 245.9 116.9 245.4 117.6 246.1 117.9 246.1 118.1 245.6 119.1 246.1 119.4 245.6 120.1 246.4 120.4 245.9 121.1 246.6 121.4 246.6 121.6 246.1 122.4 246.9 122.6 246.9 122.9 246.4 124.1 247.4 124.4 246.9 125.1 247.6 125.4 247.6 125.6 247.1 126.6 247.6 126.9 247.1 127.9 247.9 128.1 247.4 128.6 247.6 129.1 248.4 129.4 248.4 129.6 247.9 130.9 248.9 131.4 248.1 132.1 248.9 132.4 248.9 132.6 248.4 133.9 249.1 134.1 248.6 134.9 249.4 135.6 249.6 135.9 249.1 137.1 250.1 137.4 250.1 137.6 249.6 138.6 250.1 138.9 249.6 139.9 250.6 140.1 250.6 140.4 250.1 141.6 251.1 142.1 250.4 142.9 251.1 143.1 251.1 143.4 250.6 144.6 251.6 145.1 250.9 146.1 252.1 146.6 251.4 147.4 252.1 148.1 252.4 148.4 251.9 149.1 252.6 149.6 251.9 150.9 252.9 151.1 252.9 151.4 252.4 152.6 253.4 152.9 253.4 153.1 252.9 153.9 253.4 154.1 252.9 154.9 253.6 155.6 253.9 155.9 253.4 157.1 254.4 157.4 254.4 157.6 253.6 158.4 254.4 158.6 254.4 158.9 253.9 160.4 254.9 160.6 254.1 161.9 255.4 162.1 255.4 162.4 254.6 163.6 255.9 163.9 255.9 164.1 255.1 165.1 255.9 165.4 255.1 166.6 256.4 166.9 256.4 167.1 255.6 168.4 256.9 168.6 256.9 168.9 256.1 169.6 256.9 169.9 256.1 171.4 257.6 171.4 256.9 171.6 256.6 172.9 257.9 173.1 257.9 173.4 257.1 174.4 257.9 174.6 257.1 175.9 258.4 176.1 258.4 176.4 257.6 177.6 258.9 177.9 258.9 178.1 258.1 179.1 258.9 179.4 258.1 180.9 259.6 180.9 258.9 181.1 258.6 182.6 259.9 182.9 259.1 183.9 259.9 184.1 259.1 185.6 260.4 185.9 260.4 186.1 259.6 186.9 260.6 187.4 259.6 188.6 261.1 188.9 261.1 189.1 260.4 190.1 261.1 190.4 260.4 191.6 261.9 192.1 260.9 192.9 261.9 193.1 261.9 193.4 261.1 194.6 262.4 194.9 262.4 195.1 261.6 196.1 262.4 196.4 261.6 197.1 262.6 197.6 261.6 199.1 263.4 199.1 262.6 199.4 262.4 200.4 263.1 200.6 263.1 200.9 262.4 202.1 263.9 202.4 263.9 202.6 263.1 203.9 264.4 204.4 263.4 205.6 264.6 206.1 263.6 207.6 265.1 207.6 264.4 207.9 264.1 209.4 265.4 209.9 264.4 211.1 265.6 211.4 265.6 211.6 264.9 213.4 266.6 213.9 265.6 215.4 266.9 215.6 266.9 215.9 266.1 217.1 267.4 217.6 266.4 218.9 267.6 219.1 267.6 219.4 266.9 220.6 267.6 220.9 266.9 222.1 268.1 222.6 267.1 223.9 268.6 224.4 267.6 225.9 269.1 226.4 268.1 227.6 269.4 227.9 269.4 228.1 268.6 229.6 270.1 230.1 269.1 230.9 269.9 231.1 269.9 231.4 269.1 232.4 270.1 232.6 271.1 230.9 275.9 227.4 283.4 227.1 284.6 226.6 285.4 224.6 291.1 232.9 290.6 233.1 290.4 236.1 290.4 236.4 290.1 239.1 290.1 239.4 289.9 242.4 289.9 242.6 289.6 245.4 289.6 245.6 289.4 248.6 289.4 248.9 289.1 251.6 289.1 251.9 288.9 254.9 288.9 255.1 288.6 257.9 288.6 258.1 288.4 261.1 288.4 261.4 288.1 264.1 288.1 264.4 287.9 267.4 287.9 267.6 287.6 270.4 287.6 270.6 287.4 273.6 287.4 273.9 287.1 276.6 287.1 276.9 286.9 279.9 286.9 280.1 286.6 282.9 286.6 283.1 286.4 286.1 286.4 286.4 286.1 289.1 286.1 289.4 285.9 295.4 285.6 295.6 285.4 297.9 285.4 298.1 285.1 299.4 285.1 299.6 284.9 300.9 284.9 301.1 284.6 302.4 284.6 302.6 284.4 307.4 283.6 308.6 283.1 309.6 283.1 309.9 282.9 314.6 281.9 318.4 280.6 319.1 280.6 332.4 276.1 337.4 273.9 339.1 273.4 343.1 271.4 343.6 271.4 347.4 269.4 347.9 269.4 360.6 262.6 368.9 257.6 369.9 256.4 370.1 255.1 372.1 250.4 372.9 244.9 373.9 243.1 373.9 242.4 374.1 242.1 374.4 239.6 374.6 239.4 374.6 238.4 374.9 238.1 374.9 237.1 375.1 236.9 375.1 235.9 375.6 234.4 375.6 233.1 375.9 232.9 376.1 230.6 376.9 228.1 377.4 227.4 379.1 221.9 384.9 210.6 386.1 206.6 386.6 205.9 386.9 204.6 387.4 203.9 387.9 201.9 388.6 200.4 388.9 197.1 389.1 196.9 389.1 194.9 389.4 194.6 389.4 192.6 389.6 192.4 389.6 190.6 389.9 190.4 389.9 188.4 390.1 188.1 390.1 186.4 390.4 186.1 390.4 184.1 390.6 183.9 390.6 182.1 390.9 181.9 390.9 179.9 391.1 179.6 391.1 177.6 391.4 177.4 391.4 175.6 391.6 175.4 391.6 173.4 391.9 173.1 391.9 171.4 392.1 171.1 392.4 163.6 392.6 163.4 392.6 159.1 392.9 158.9 392.9 154.6 393.1 154.4 393.1 150.1 393.4 149.9 393.4 145.9 393.6 145.6 393.6 141.4 393.9 141.1 393.9 136.9 394.1 136.6 394.1 132.4 394.4 132.1 394.4 128.9 394.6 128.6 394.6 125.9 394.9 125.6 394.9 122.9 395.1 122.6 395.1 120.1 395.4 119.9 395.4 117.1 395.6 116.9 395.6 114.4 395.9 114.1 395.9 111.4 396.1 111.1 396.1 108.4 396.4 108.1 396.4 105.6 396.6 105.4 396.6 102.6 396.9 102.4 396.9 99.9 397.1 99.6 397.1 96.9 397.4 96.6 397.4 93.9 397.6 93.6 397.6 91.1 397.9 90.9Z"/>
<path fill="#0030f4" d="M235.1 263.9 235.4 263.6 235.6 264.1 235.4 264.4ZM398.1 86.6 397.4 86.6 394.6 85.6 390.1 84.6 384.6 82.9 382.9 82.6 377.4 80.9 375.6 80.6 370.1 78.9 368.4 78.6 362.9 76.9 361.1 76.6 355.6 74.9 353.9 74.6 351.1 73.6 345.4 72.4 344.4 71.9 343.6 71.9 342.6 71.4 338.4 70.4 334.4 68.9 333.6 68.9 330.4 67.6 328.1 67.6 327.9 67.4 325.9 67.4 325.6 67.1 325.4 67.4 323.9 67.4 323.6 67.6 320.1 67.9 317.4 69.1 315.6 72.9 314.1 77.4 310.6 84.9 309.1 89.6 305.6 97.1 305.4 98.4 304.9 99.1 304.6 100.4 303.4 102.9 303.4 103.4 302.4 105.1 300.9 109.9 299.1 113.4 297.6 117.9 294.1 125.4 292.4 130.1 288.9 137.6 288.1 139.9 287.1 141.6 286.4 143.9 285.4 145.6 285.4 146.1 284.1 148.6 281.4 156.1 276.9 165.9 275.4 170.6 273.6 174.1 273.6 174.6 271.9 178.1 271.9 178.6 270.1 182.1 270.1 182.6 267.6 187.4 266.4 190.9 260.4 203.1 260.1 204.6 257.4 212.4 257.1 212.6 255.9 212.4 255.1 211.9 253.9 211.6 253.1 211.1 251.9 210.9 251.1 210.4 249.9 210.1 249.1 209.6 247.9 209.4 247.1 208.9 239.9 206.4 237.9 205.4 235.9 204.9 233.9 203.9 232.6 203.6 231.9 203.1 230.6 202.9 229.9 202.4 228.6 202.1 227.9 201.6 225.9 201.1 223.9 200.1 221.9 199.6 219.9 198.6 212.6 196.1 208.6 196.4 206.1 197.9 204.9 199.4 204.6 200.1 203.9 200.9 203.4 202.1 202.4 203.4 202.4 203.9 201.1 205.9 201.1 206.6 200.1 208.1 200.1 208.9 199.4 210.4 199.9 210.6 200.6 210.6 201.6 211.1 204.1 211.6 204.9 212.1 205.6 212.1 207.6 212.9 211.1 213.6 211.9 214.1 212.6 214.1 213.6 214.6 216.4 215.1 217.1 215.6 220.6 216.4 222.1 217.1 222.9 217.1 225.1 217.9 225.9 217.6 227.4 217.9 228.1 218.4 228.9 218.4 230.6 218.9 231.4 219.4 234.1 219.9 234.9 220.4 235.6 220.4 236.6 220.9 237.4 220.9 238.1 221.4 239.9 221.6 240.9 222.1 241.1 221.6 241.4 221.9 243.1 222.1 244.6 222.9 246.4 223.1 248.6 224.1 250.4 224.4 251.4 224.9 251.6 224.4 251.9 224.6 252.6 224.6 253.1 225.1 252.4 226.6 251.9 228.6 251.4 229.4 250.9 231.4 243.4 246.4 242.9 246.9 242.4 246.6 241.1 246.6 240.9 246.4 239.6 246.4 239.4 246.1 238.1 246.1 237.9 245.9 236.6 245.9 235.1 245.4 232.4 245.1 230.9 244.6 229.4 244.6 227.9 244.1 223.6 243.6 222.1 243.1 216.4 242.4 214.9 241.9 209.1 241.1 208.9 240.9 206.4 240.6 204.9 240.1 201.9 239.9 200.4 239.4 199.1 239.4 198.9 239.1 196.1 238.9 194.6 238.4 193.4 238.4 191.1 237.6 190.1 237.6 187.9 236.9 186.9 236.9 184.6 236.1 181.4 235.6 181.1 235.4 178.1 234.9 175.9 234.1 174.9 234.1 173.6 233.6 170.4 233.1 168.4 232.4 167.4 232.4 166.1 231.9 165.1 231.9 163.9 231.4 160.6 230.9 159.6 230.4 156.4 229.9 153.1 228.9 150.9 228.6 147.6 227.6 146.6 227.6 144.4 226.9 141.1 226.4 138.9 225.6 137.9 225.6 136.9 225.1 134.6 224.9 134.4 224.6 130.1 223.9 129.9 223.6 126.9 223.6 125.4 224.1 121.1 228.1 118.9 233.1 118.4 233.6 117.4 235.9 116.4 237.4 115.9 239.1 116.1 239.4 116.4 238.9 117.9 239.6 118.1 239.1 118.9 239.9 119.1 239.9 119.4 239.4 120.1 239.9 120.4 239.4 121.6 240.4 121.9 240.4 122.1 239.9 123.1 240.6 123.4 240.1 124.4 241.1 124.6 241.1 124.9 240.6 125.9 241.1 126.1 240.6 127.4 241.6 127.6 241.1 128.4 241.9 128.6 241.9 128.9 241.4 130.1 242.4 130.6 241.6 131.9 242.6 132.1 242.1 133.6 242.9 133.9 242.4 135.1 243.4 135.6 242.6 136.9 243.6 137.1 243.1 138.4 244.1 138.9 243.4 139.6 244.1 140.4 244.4 140.6 243.9 141.9 244.9 142.4 244.1 143.4 245.1 143.6 245.1 143.9 244.6 145.1 245.6 145.6 244.9 146.4 245.6 147.1 245.9 147.4 245.4 148.6 246.4 149.1 245.6 150.4 246.6 150.6 245.9 151.9 247.1 152.4 246.4 153.6 247.4 153.9 247.4 154.1 246.6 154.9 247.4 155.6 247.6 155.9 247.1 157.1 248.1 157.4 248.1 157.6 247.4 158.9 248.6 159.4 247.9 160.6 248.9 160.9 248.1 162.1 249.4 162.6 248.6 164.1 249.6 164.4 248.9 165.6 250.1 166.1 249.4 167.6 250.4 167.9 249.6 169.1 250.9 169.6 250.1 170.4 250.9 171.1 251.1 171.4 250.4 172.6 251.6 172.9 251.6 173.1 250.9 173.9 251.6 174.6 251.9 174.9 251.1 176.1 252.4 176.4 252.4 176.6 251.6 177.9 252.9 178.4 251.9 179.6 253.1 179.9 253.1 180.1 252.4 181.4 253.6 181.9 252.6 183.1 253.9 183.4 253.9 183.6 253.1 184.6 253.9 184.9 253.1 186.1 254.4 186.4 254.4 186.6 253.6 187.9 254.9 188.1 254.9 188.4 254.1 189.4 254.9 189.6 254.1 190.9 255.4 191.1 255.4 191.4 254.6 192.9 256.1 192.9 255.4 193.1 255.1 194.1 256.1 194.1 255.4 194.4 255.1 195.1 255.6 195.9 256.6 196.4 255.6 197.6 257.1 198.1 256.1 198.9 257.1 199.4 256.1 200.6 257.6 201.1 256.6 201.9 257.6 202.4 256.6 203.9 258.4 203.9 257.4 204.1 257.1 205.6 258.4 206.1 257.4 207.9 259.4 208.4 258.4 209.6 259.6 210.1 258.6 211.6 260.1 212.1 258.9 213.4 260.4 213.9 259.1 215.1 260.6 215.6 259.6 217.6 261.6 218.1 260.4 219.4 261.9 219.9 260.9 221.1 262.4 221.6 261.1 222.1 261.9 223.1 262.6 223.4 262.6 223.4 261.9 223.6 261.6 224.9 263.1 225.4 262.1 226.6 263.6 227.1 262.4 228.1 263.4 228.6 262.4 229.9 263.9 230.4 262.6 231.9 264.6 232.4 263.1 233.6 264.9 233.9 264.9 233.9 264.1 234.1 263.9 235.1 265.4 232.9 270.1 230.1 277.6 227.4 283.4 226.4 286.6 227.1 286.6 227.4 286.4 230.4 286.4 230.6 286.1 233.4 286.1 233.6 285.9 236.6 285.9 236.9 285.6 239.6 285.6 239.9 285.4 245.9 285.1 246.1 284.9 252.1 284.6 252.4 284.4 258.4 284.1 258.6 283.9 264.6 283.6 264.9 283.4 270.9 283.1 271.1 282.9 274.1 282.9 274.4 282.6 277.1 282.6 277.4 282.4 280.4 282.4 280.6 282.1 283.4 282.1 283.6 281.9 286.6 281.9 286.9 281.6 289.6 281.6 289.9 281.4 295.9 281.1 296.1 280.9 298.4 280.9 298.6 280.6 302.9 280.1 303.1 279.9 307.9 279.1 308.1 278.9 311.1 278.4 311.4 278.1 314.1 277.6 315.1 277.1 316.9 276.9 330.1 272.6 330.9 272.1 332.1 271.9 332.9 271.4 338.4 269.4 341.4 267.9 341.9 267.9 355.6 261.1 356.1 260.6 362.4 257.4 371.6 251.6 372.4 249.1 372.4 247.6 372.6 247.4 372.9 244.9 373.9 243.1 373.9 242.4 374.1 242.1 374.4 239.6 374.6 239.4 374.6 238.4 374.9 238.1 376.4 229.6 377.4 227.4 378.1 224.6 378.6 223.9 379.1 221.9 384.9 210.6 386.1 206.6 386.6 205.9 386.9 204.6 387.4 203.9 387.9 201.9 388.6 200.4 388.9 197.1 389.1 196.9 389.1 194.9 389.4 194.6 389.4 192.6 389.6 192.4 389.6 190.6 389.9 190.4 389.9 188.4 390.1 188.1 390.1 186.4 390.4 186.1 390.4 184.1 390.6 183.9 390.6 182.1 390.9 181.9 390.9 179.9 391.1 179.6 391.1 177.6 391.4 177.4 391.4 175.6 391.6 175.4 391.6 173.4 391.9 173.1 391.9 171.4 392.1 171.1 392.4 163.6 392.6 163.4 392.6 159.1 392.9 158.9 392.9 154.6 393.1 154.4 393.1 150.1 393.4 149.9 393.4 145.9 393.6 145.6 393.6 141.4 393.9 141.1 393.9 136.9 394.1 136.6 394.1 132.4 394.4 132.1 394.4 128.9 394.6 128.6 394.6 125.9 394.9 125.6 394.9 122.9 395.1 122.6 395.1 120.1 395.4 119.9 395.4 117.1 395.6 116.9 395.6 114.4 395.9 114.1 395.9 111.4 396.1 111.1 396.1 108.4 396.4 108.1 396.4 105.6 396.6 105.4 396.6 102.6 396.9 102.4 396.9 99.9 397.1 99.6 397.1 96.9 397.4 96.6 397.4 93.9 397.6 93.6 397.6 91.1 397.9 90.9Z"/>
<path fill="#0050f4" d="M398.1 86.6 397.4 86.6 394.6 85.6 390.1 84.6 384.6 82.9 382.9 82.6 377.4 80.9 375.6 80.6 370.1 78.9 368.4 78.6 362.9 76.9 361.1 76.6 355.6 74.9 353.9 74.6 351.1 73.6 345.4 72.4 344.4 71.9 343.6 71.9 342.6 71.4 338.4 70.4 334.4 68.9 333.6 68.9 330.4 67.6 328.1 67.6 327.9 67.4 325.9 67.4 325.6 67.1 325.4 67.4 323.9 67.4 323.6 67.6 320.1 67.9 317.4 69.1 315.6 72.9 314.1 77.4 310.6 84.9 309.1 89.6 305.6 97.1 305.4 98.4 304.9 99.1 304.6 100.4 303.4 102.9 303.4 103.4 302.4 105.1 300.9 109.9 299.1 113.4 297.6 117.9 294.1 125.4 292.4 130.1 288.9 137.6 288.1 139.9 287.1 141.6 286.4 143.9 285.4 145.6 285.4 146.1 284.1 148.6 281.4 156.1 276.9 165.9 275.4 170.6 273.6 174.1 273.6 174.6 271.9 178.1 271.9 178.6 270.1 182.1 270.1 182.6 267.6 187.4 266.4 190.9 260.4 203.1 260.1 204.6 257.4 212.1 257.4 212.9 257.1 213.1 256.6 212.6 252.4 211.1 251.1 210.4 250.4 210.4 249.1 209.6 247.1 209.1 246.4 208.6 239.9 206.4 237.9 205.4 235.9 204.9 233.9 203.9 232.6 203.6 231.9 203.1 230.6 202.9 229.9 202.4 228.6 202.1 227.9 201.6 225.9 201.1 223.9 200.1 221.9 199.6 219.9 198.6 212.6 196.1 208.6 196.4 206.1 197.9 204.9 199.4 204.6 200.1 203.9 200.9 203.4 202.1 202.4 203.4 202.1 204.6 204.6 205.1 205.4 205.6 207.9 206.1 208.6 206.6 209.9 206.4 211.6 206.9 212.4 207.4 214.1 207.6 215.6 208.4 216.9 208.6 217.1 208.1 217.9 208.6 220.4 209.1 221.1 209.6 221.9 209.6 222.9 210.1 223.9 209.9 226.9 211.1 227.6 211.1 228.9 211.6 229.9 211.4 232.9 212.6 233.6 212.6 233.9 212.4 234.9 212.9 235.6 212.9 236.4 213.4 237.1 213.4 238.1 213.9 238.4 213.4 241.4 214.6 242.4 214.4 244.6 215.4 245.4 215.4 245.6 215.1 247.1 215.9 247.9 215.9 248.1 215.6 250.4 216.6 251.4 216.4 252.6 217.1 253.4 217.1 253.6 216.9 254.1 217.4 254.9 217.4 255.6 217.9 255.1 218.6 254.6 220.9 253.6 223.9 253.1 224.6 252.9 225.9 252.4 226.6 251.9 228.6 251.4 229.4 250.9 231.4 243.4 246.4 242.9 246.9 242.4 246.6 241.1 246.6 240.9 246.4 239.6 246.4 239.4 246.1 238.1 246.1 237.9 245.9 236.6 245.9 235.1 245.4 232.4 245.1 230.9 244.6 229.4 244.6 227.9 244.1 223.6 243.6 222.1 243.1 216.4 242.4 214.9 241.9 209.1 241.1 208.9 240.9 206.4 240.6 204.9 240.1 201.9 239.9 200.4 239.4 199.1 239.4 198.9 239.1 196.1 238.9 194.6 238.4 193.4 238.4 191.1 237.6 190.1 237.6 187.9 236.9 186.9 236.9 184.6 236.1 181.4 235.6 181.1 235.4 178.1 234.9 175.9 234.1 174.9 234.1 173.6 233.6 170.4 233.1 168.4 232.4 167.4 232.4 166.1 231.9 165.1 231.9 163.9 231.4 160.6 230.9 159.6 230.4 156.4 229.9 153.1 228.9 150.9 228.6 147.6 227.6 146.6 227.6 144.4 226.9 141.1 226.4 138.9 225.6 137.9 225.6 136.9 225.1 134.6 224.9 134.4 224.6 130.1 223.9 129.9 223.6 126.9 223.6 126.6 223.9 125.9 223.9 124.4 224.9 121.1 228.1 119.1 232.4 119.1 232.9 119.4 232.9 119.6 232.4 120.9 233.1 121.1 232.6 122.6 233.6 122.9 233.1 123.9 233.9 124.1 233.9 124.4 233.4 125.9 234.1 126.1 233.6 127.4 234.6 127.6 234.1 129.1 234.9 129.4 234.4 130.6 235.4 130.9 235.4 131.1 234.9 132.1 235.6 132.4 235.6 132.6 235.1 134.6 236.1 134.9 235.6 136.1 236.4 136.4 235.9 138.1 237.1 138.4 237.1 138.6 236.6 140.6 237.6 140.9 237.1 142.1 237.9 142.4 237.4 144.4 238.4 144.6 237.9 146.1 238.6 146.4 238.1 147.9 239.4 148.1 239.4 148.4 238.9 149.9 239.6 150.1 239.1 152.1 240.1 152.4 239.6 153.9 240.4 154.1 239.9 155.6 241.1 155.9 241.1 156.1 240.6 157.6 241.4 157.9 240.9 159.9 241.9 160.1 241.4 161.4 242.4 161.9 241.6 163.6 242.9 163.9 242.9 164.1 242.4 165.6 243.1 165.9 242.6 167.6 243.9 167.9 243.1 169.1 244.1 169.6 243.4 171.4 244.6 171.6 244.6 171.9 244.1 173.4 244.9 173.6 244.4 175.4 245.6 175.9 244.9 177.1 245.9 177.6 245.1 179.4 246.6 179.9 245.9 181.1 246.9 181.6 246.1 182.4 246.9 183.6 247.4 183.9 246.9 185.1 247.9 185.6 247.1 187.1 248.4 187.1 247.6 187.4 247.4 188.9 248.6 189.4 247.9 190.9 248.9 191.1 248.1 192.4 249.4 192.9 248.6 193.6 249.4 194.4 249.6 194.6 248.9 195.9 250.1 196.1 250.1 196.4 249.4 197.6 250.6 198.1 249.9 199.4 250.9 199.6 250.9 199.9 250.1 200.9 251.1 200.9 250.4 201.1 250.1 202.6 251.4 202.9 251.4 203.1 250.6 203.9 251.4 204.6 251.6 204.9 250.9 206.6 252.4 206.9 252.4 207.1 251.6 208.4 252.9 208.9 251.9 210.9 253.4 211.1 253.4 211.4 252.6 212.6 253.9 213.1 252.9 214.4 254.1 214.9 253.1 216.9 254.9 217.4 253.9 218.6 255.1 219.1 254.1 220.6 255.6 220.6 254.9 220.9 254.6 222.4 255.6 222.6 255.6 222.9 254.9 224.6 256.6 225.1 255.6 226.6 256.9 226.9 256.9 227.1 256.1 227.9 256.9 228.6 257.1 228.9 256.4 230.4 257.9 230.9 256.6 232.1 257.9 232.4 257.9 232.6 257.1 234.1 258.6 234.1 257.9 234.4 257.6 235.9 258.9 236.4 257.9 237.4 258.9 237.1 260.4 236.6 261.1 236.4 262.4 235.1 264.9 235.1 265.4 234.1 267.1 233.6 268.9 232.9 270.1 230.9 275.9 227.9 282.4 236.4 281.9 236.6 281.6 239.6 281.6 239.9 281.4 242.6 281.4 242.9 281.1 245.9 281.1 246.1 280.9 248.9 280.9 249.1 280.6 252.1 280.6 252.4 280.4 255.1 280.4 255.4 280.1 258.4 280.1 258.6 279.9 261.4 279.9 261.6 279.6 264.6 279.6 264.9 279.4 267.6 279.4 267.9 279.1 270.9 279.1 271.1 278.9 273.9 278.9 274.1 278.6 277.1 278.6 277.4 278.4 280.1 278.4 280.4 278.1 283.4 278.1 283.6 277.9 286.4 277.9 286.6 277.6 289.6 277.6 289.9 277.4 292.6 277.4 292.9 277.1 295.9 277.1 296.1 276.9 298.6 276.9 298.9 276.6 301.6 276.4 303.1 275.9 304.4 275.9 304.6 275.6 306.9 275.4 308.1 274.9 309.1 274.9 310.4 274.4 311.4 274.4 311.6 274.1 315.4 273.4 316.4 272.9 320.6 271.9 323.1 270.9 323.9 270.9 327.6 269.6 328.4 269.1 331.1 268.4 331.9 267.9 332.4 267.9 333.1 267.4 334.4 267.1 338.1 265.4 339.9 264.9 341.1 264.1 341.6 264.1 353.1 258.6 353.6 258.1 356.9 256.6 357.4 256.1 363.1 253.1 372.6 247.1 372.9 244.9 373.9 243.1 373.9 242.4 374.1 242.1 374.4 239.6 374.6 239.4 374.6 238.4 374.9 238.1 374.9 237.1 375.1 236.9 375.1 235.9 375.6 234.4 375.6 233.1 375.9 232.9 376.1 230.6 376.9 228.1 377.4 227.4 379.1 221.9 384.9 210.6 386.1 206.6 386.6 205.9 386.9 204.6 387.4 203.9 387.9 201.9 388.6 200.4 388.9 197.1 389.1 196.9 389.1 194.9 389.4 194.6 389.4 192.6 389.6 192.4 389.6 190.6 389.9 190.4 389.9 188.4 390.1 188.1 390.1 186.4 390.4 186.1 390.4 184.1 390.6 183.9 390.6 182.1 390.9 181.9 390.9 179.9 391.1 179.6 391.1 177.6 391.4 177.4 391.4 175.6 391.6 175.4 391.6 173.4 391.9 173.1 391.9 171.4 392.1 171.1 392.4 163.6 392.6 163.4 392.6 159.1 392.9 158.9 392.9 154.6 393.1 154.4 393.1 150.1 393.4 149.9 393.4 145.9 393.6 145.6 393.6 141.4 393.9 141.1 393.9 136.9 394.1 136.6 394.1 132.4 394.4 132.1 394.4 128.9 394.6 128.6 394.6 125.9 394.9 125.6 394.9 122.9 395.1 122.6 395.1 120.1 395.4 119.9 395.4 117.1 395.6 116.9 395.6 114.4 395.9 114.1 395.9 111.4 396.1 111.1 396.1 108.4 396.4 108.1 396.4 105.6 396.6 105.4 396.6 102.6 396.9 102.4 396.9 99.9 397.1 99.6 397.1 96.9 397.4 96.6 397.4 93.9 397.6 93.6 397.6 91.1 397.9 90.9Z"/>
<path fill="#0080f0" d="M206.1 197.9 206.1 198.4 206.4 198.1 207.6 198.6 208.9 198.6 209.6 199.1 210.6 198.9 211.4 199.4 211.6 199.1 212.9 199.6 213.4 199.4 214.1 199.9 214.4 199.6 214.6 199.9 215.1 199.6 215.4 199.9 215.9 199.6 216.1 199.9 217.4 199.9 217.1 199.6 217.4 199.4 217.1 198.9 213.9 196.9 212.9 196.6 212.4 196.1 208.6 196.4ZM398.1 86.6 397.4 86.6 394.6 85.6 390.1 84.6 384.6 82.9 382.9 82.6 377.4 80.9 375.6 80.6 370.1 78.9 368.4 78.6 362.9 76.9 361.1 76.6 355.6 74.9 353.9 74.6 351.1 73.6 345.4 72.4 344.4 71.9 343.6 71.9 342.6 71.4 338.4 70.4 334.4 68.9 333.6 68.9 330.4 67.6 328.1 67.6 327.9 67.4 325.9 67.4 325.6 67.1 325.4 67.4 323.9 67.4 323.6 67.6 320.1 67.9 317.4 69.1 315.6 72.9 314.1 77.4 310.6 84.9 309.1 89.6 305.6 97.1 305.4 98.4 304.9 99.1 304.6 100.4 303.4 102.9 303.4 103.4 302.4 105.1 300.9 109.9 299.1 113.4 297.6 117.9 294.1 125.4 292.4 130.1 288.9 137.6 288.1 139.9 287.1 141.6 286.4 143.9 285.4 145.6 285.4 146.1 284.1 148.6 281.4 156.1 276.9 165.9 275.4 170.6 273.6 174.1 273.6 174.6 271.9 178.1 271.9 178.6 270.1 182.1 270.1 182.6 267.6 187.4 266.4 190.9 260.4 203.1 260.1 204.6 258.9 208.4 258.4 209.1 256.4 215.9 255.1 218.6 254.6 220.9 253.6 223.9 253.1 224.6 252.9 225.9 252.4 226.6 251.9 228.6 251.4 229.4 250.9 231.4 243.4 246.4 242.9 246.9 242.4 246.6 241.1 246.6 240.9 246.4 239.6 246.4 239.4 246.1 238.1 246.1 237.9 245.9 236.6 245.9 235.1 245.4 232.4 245.1 230.9 244.6 229.4 244.6 227.9 244.1 223.6 243.6 222.1 243.1 216.4 242.4 214.9 241.9 209.1 241.1 208.9 240.9 206.4 240.6 204.9 240.1 201.9 239.9 200.4 239.4 199.1 239.4 198.9 239.1 196.1 238.9 194.6 238.4 193.4 238.4 191.1 237.6 190.1 237.6 187.9 236.9 186.9 236.9 186.6 236.6 183.6 236.1 182.4 235.6 181.4 235.6 179.1 234.9 178.1 234.9 175.9 234.1 174.9 234.1 173.6 233.6 170.4 233.1 168.4 232.4 167.4 232.4 166.1 231.9 165.1 231.9 163.9 231.4 160.6 230.9 159.6 230.4 158.6 230.4 157.4 229.9 154.1 229.4 153.1 228.9 150.9 228.6 147.6 227.6 145.4 227.4 143.1 226.6 142.1 226.6 139.9 225.9 138.9 225.9 137.6 225.4 136.6 225.4 135.6 224.9 133.4 224.6 133.1 224.4 129.9 223.9 129.6 223.6 126.9 223.6 126.6 223.9 125.9 223.9 124.4 224.9 123.9 225.6 124.4 225.9 125.1 225.6 126.9 226.4 127.4 226.1 127.6 226.4 128.4 226.4 129.4 227.1 130.1 227.1 130.4 226.9 131.1 227.4 131.9 227.4 132.4 227.9 133.4 227.6 134.6 228.4 135.4 228.4 135.6 228.1 137.6 229.1 138.4 229.1 138.6 228.9 139.9 229.6 142.1 229.9 143.6 230.6 143.9 230.1 146.4 231.4 147.4 231.1 148.6 231.9 149.4 231.9 149.6 231.6 151.9 232.6 152.1 232.4 152.4 232.6 153.1 232.6 154.6 233.4 154.9 232.9 156.1 233.6 158.6 233.9 160.4 234.9 160.6 234.4 161.9 235.1 162.6 235.1 162.9 235.4 163.4 235.1 165.1 235.9 165.6 235.6 165.9 235.9 166.6 235.9 168.1 236.6 168.4 236.1 170.1 237.1 170.9 237.1 171.1 236.9 172.4 237.6 174.9 237.9 176.1 238.6 177.1 238.4 179.1 239.4 179.4 238.9 181.4 239.9 181.6 239.4 183.4 240.4 184.1 240.4 184.4 240.1 185.6 240.9 186.4 240.9 186.6 241.1 187.1 240.9 188.9 241.6 189.4 241.4 191.1 242.1 191.6 241.9 193.6 242.9 193.9 242.4 195.4 243.1 195.6 242.6 197.6 243.9 197.9 243.1 198.6 243.4 199.4 244.1 199.9 243.4 201.6 244.6 201.9 244.6 202.1 243.9 203.4 245.1 203.9 244.4 205.1 245.4 205.4 245.4 205.6 244.6 207.6 246.1 208.1 245.1 209.4 246.4 209.9 245.4 211.1 246.6 211.9 246.9 212.1 246.1 214.1 247.6 214.6 246.6 215.9 247.9 216.4 246.9 218.1 248.6 218.6 247.6 219.4 248.4 220.4 248.6 220.6 247.9 222.4 249.4 222.6 249.4 222.9 248.6 224.4 249.9 224.4 249.1 224.6 248.9 226.6 250.4 226.9 250.4 227.1 249.6 228.6 250.9 228.6 250.1 228.9 249.9 230.4 250.9 230.6 250.9 230.9 250.1 232.9 251.9 232.9 251.1 233.1 250.9 234.6 252.1 235.1 251.1 236.4 252.4 236.9 251.4 238.4 252.6 238.6 252.6 238.9 251.9 240.1 253.4 237.4 259.1 236.4 262.4 234.1 267.1 234.1 267.6 231.6 273.4 231.4 274.6 229.9 277.9 238.1 277.4 238.4 277.1 241.4 277.1 241.6 276.9 244.4 276.9 244.6 276.6 247.6 276.6 247.9 276.4 250.6 276.4 250.9 276.1 253.9 276.1 254.1 275.9 256.9 275.9 257.1 275.6 260.1 275.6 260.4 275.4 263.1 275.4 263.4 275.1 266.4 275.1 266.6 274.9 269.4 274.9 269.6 274.6 272.6 274.6 272.9 274.4 275.6 274.4 275.9 274.1 278.9 274.1 279.1 273.9 281.9 273.9 282.1 273.6 285.1 273.6 285.4 273.4 288.1 273.4 288.4 273.1 291.4 273.1 291.6 272.9 294.4 272.9 294.6 272.6 297.6 272.6 297.9 272.4 299.6 272.4 299.9 272.1 302.6 271.9 304.1 271.4 305.4 271.4 305.6 271.1 306.6 271.1 307.9 270.6 311.1 270.1 311.4 269.9 316.1 268.9 317.1 268.4 318.9 268.1 331.1 264.1 331.9 263.6 333.1 263.4 333.9 262.9 339.4 260.9 342.9 259.1 343.4 259.1 356.1 252.9 356.6 252.4 362.9 249.1 374.1 242.1 374.4 239.6 374.6 239.4 374.6 238.4 374.9 238.1 374.9 237.1 375.1 236.9 375.1 235.9 375.6 234.4 375.6 233.1 375.9 232.9 376.1 230.6 376.9 228.1 377.4 227.4 379.1 221.9 384.9 210.6 386.1 206.6 386.6 205.9 386.9 204.6 387.4 203.9 387.9 201.9 388.6 200.4 388.9 197.1 389.1 196.9 389.1 194.9 389.4 194.6 389.4 192.6 389.6 192.4 389.6 190.6 389.9 190.4 389.9 188.4 390.1 188.1 390.1 186.4 390.4 186.1 390.4 184.1 390.6 183.9 390.6 182.1 390.9 181.9 390.9 179.9 391.1 179.6 391.1 177.6 391.4 177.4 391.4 175.6 391.6 175.4 391.6 173.4 391.9 173.1 391.9 171.4 392.1 171.1 392.4 163.6 392.6 163.4 392.6 159.1 392.9 158.9 392.9 154.6 393.1 154.4 393.1 150.1 393.4 149.9 393.4 145.9 393.6 145.6 393.6 141.4 393.9 141.1 393.9 136.9 394.1 136.6 394.1 132.4 394.4 132.1 394.4 128.9 394.6 128.6 394.6 125.9 394.9 125.6 394.9 122.9 395.1 122.6 395.1 120.1 395.4 119.9 395.4 117.1 395.6 116.9 395.6 114.4 395.9 114.1 395.9 111.4 396.1 111.1 396.1 108.4 396.4 108.1 396.4 105.6 396.6 105.4 396.6 102.6 396.9 102.4 396.9 99.9 397.1 99.6 397.1 96.9 397.4 96.6 397.4 93.9 397.6 93.6 397.6 91.1 397.9 90.9Z"/>
<path fill="#00a0f0" d="M398.1 86.6 397.4 86.6 394.6 85.6 390.1 84.6 384.6 82.9 382.9 82.6 377.4 80.9 375.6 80.6 370.1 78.9 368.4 78.6 362.9 76.9 361.1 76.6 355.6 74.9 353.9 74.6 351.1 73.6 345.4 72.4 344.4 71.9 343.6 71.9 342.6 71.4 338.4 70.4 334.4 68.9 333.6 68.9 330.4 67.6 328.1 67.6 327.9 67.4 325.9 67.4 325.6 67.1 325.4 67.4 323.9 67.4 323.6 67.6 320.1 67.9 317.4 69.1 315.6 72.9 314.1 77.4 310.6 84.9 309.1 89.6 305.6 97.1 305.4 98.4 304.9 99.1 304.6 100.4 303.4 102.9 303.4 103.4 302.4 105.1 300.9 109.9 299.1 113.4 297.6 117.9 294.1 125.4 292.4 130.1 288.9 137.6 288.1 139.9 287.1 141.6 286.4 143.9 285.4 145.6 285.4 146.1 284.1 148.6 281.4 156.1 276.9 165.9 275.4 170.6 273.6 174.1 273.6 174.6 271.9 178.1 271.9 178.6 270.1 182.1 270.1 182.6 267.6 187.4 266.4 190.9 260.4 203.1 260.1 204.6 258.9 208.4 258.4 209.1 256.4 215.9 255.1 218.6 254.6 220.9 253.6 223.9 253.1 224.6 252.9 225.9 252.4 226.6 251.9 228.6 251.4 229.4 250.9 231.4 240.9 251.1 240.9 251.6 237.4 259.1 236.4 262.4 234.1 267.1 234.1 267.6 232.9 270.1 232.9 270.6 231.4 274.1 239.9 273.6 240.1 273.4 243.1 273.4 243.4 273.1 246.1 273.1 246.4 272.9 249.4 272.9 249.6 272.6 252.4 272.6 252.6 272.4 255.6 272.4 255.9 272.1 258.6 272.1 258.9 271.9 261.9 271.9 262.1 271.6 264.9 271.6 265.1 271.4 268.1 271.4 268.4 271.1 271.1 271.1 271.4 270.9 274.4 270.9 274.6 270.6 277.4 270.6 277.6 270.4 280.6 270.4 280.9 270.1 283.6 270.1 283.9 269.9 286.9 269.9 287.1 269.6 289.9 269.6 290.1 269.4 293.1 269.4 293.4 269.1 296.1 269.1 296.4 268.9 299.1 268.9 299.4 268.6 300.6 268.6 300.9 268.4 302.1 268.4 302.4 268.1 303.6 268.1 303.9 267.9 308.6 267.1 309.9 266.6 310.9 266.6 311.1 266.4 316.9 265.1 317.9 264.6 322.1 263.6 331.1 260.6 331.9 260.1 333.1 259.9 333.9 259.4 339.4 257.4 345.1 254.6 345.6 254.6 359.9 247.4 360.4 246.9 367.6 242.9 374.9 238.1 374.9 237.1 375.1 236.9 375.1 235.9 375.6 234.4 375.6 233.1 375.9 232.9 376.1 230.6 376.9 228.1 377.4 227.4 379.1 221.9 384.9 210.6 386.1 206.6 386.6 205.9 387.9 201.9 388.4 201.1 388.6 199.1 388.9 198.9 389.4 192.6 389.6 192.4 389.9 188.4 390.1 188.1 390.4 184.1 390.6 183.9 390.9 179.9 391.1 179.6 391.1 177.6 391.4 177.4 391.6 173.4 391.9 173.1 391.9 171.4 392.1 171.1 392.4 163.6 392.6 163.4 392.6 159.1 392.9 158.9 392.9 154.6 393.1 154.4 393.1 150.1 393.4 149.9 393.4 145.9 393.6 145.6 393.6 141.4 393.9 141.1 393.9 136.9 394.1 136.6 394.1 132.4 394.4 132.1 394.4 128.9 394.6 128.6 394.6 125.9 394.9 125.6 394.9 122.9 395.1 122.6 395.1 120.1 395.4 119.9 395.4 117.1 395.6 116.9 395.6 114.4 395.9 114.1 395.9 111.4 396.1 111.1 396.1 108.4 396.4 108.1 396.4 105.6 396.6 105.4 396.6 102.6 396.9 102.4 396.9 99.9 397.1 99.6 397.1 96.9 397.4 96.6 397.4 93.9 397.6 93.6 397.6 91.1 397.9 90.9Z"/>
<path fill="#00d0f0" d="M398.1 86.6 397.4 86.6 394.6 85.6 390.1 84.6 384.6 82.9 382.9 82.6 377.4 80.9 375.6 80.6 370.1 78.9 368.4 78.6 362.9 76.9 361.1 76.6 355.6 74.9 353.9 74.6 351.1 73.6 345.4 72.4 344.4 71.9 343.6 71.9 342.6 71.4 338.4 70.4 334.4 68.9 333.6 68.9 330.4 67.6 328.1 67.6 327.9 67.4 325.9 67.4 325.6 67.1 325.4 67.4 323.9 67.4 323.6 67.6 320.1 67.9 317.4 69.1 315.6 72.9 314.1 77.4 310.6 84.9 309.1 89.6 305.6 97.1 305.4 98.4 304.9 99.1 304.6 100.4 303.4 102.9 303.4 103.4 302.4 105.1 300.9 109.9 299.1 113.4 297.6 117.9 294.1 125.4 292.4 130.1 288.9 137.6 288.1 139.9 287.1 141.6 286.4 143.9 285.4 145.6 285.4 146.1 284.1 148.6 281.4 156.1 276.9 165.9 275.4 170.6 273.6 174.1 273.6 174.6 271.9 178.1 271.9 178.6 270.1 182.1 270.1 182.6 267.6 187.4 266.4 190.9 260.4 203.1 260.1 204.6 258.9 208.4 258.4 209.1 256.4 215.9 255.1 218.6 254.6 220.9 253.6 223.9 253.1 224.6 252.9 225.9 252.4 226.6 251.9 228.6 251.4 229.4 250.9 231.4 240.9 251.1 240.1 253.4 237.4 259.1 235.9 263.6 232.9 270.1 240.9 269.6 241.1 269.4 244.1 269.4 244.4 269.1 247.1 269.1 247.4 268.9 250.4 268.9 250.6 268.6 253.4 268.6 253.6 268.4 256.6 268.4 256.9 268.1 259.6 268.1 259.9 267.9 262.9 267.9 263.1 267.6 265.9 267.6 266.1 267.4 269.1 267.4 269.4 267.1 272.1 267.1 272.4 266.9 275.4 266.9 275.6 266.6 278.4 266.6 278.6 266.4 281.6 266.4 281.9 266.1 284.6 266.1 284.9 265.9 287.9 265.9 288.1 265.6 290.9 265.6 291.1 265.4 294.1 265.4 294.4 265.1 297.1 265.1 297.4 264.9 299.9 264.9 300.1 264.6 301.4 264.6 301.6 264.4 302.9 264.4 304.4 263.9 308.1 263.4 309.4 262.9 310.4 262.9 312.6 262.1 315.6 261.6 316.6 261.1 321.9 259.9 331.6 256.6 332.4 256.1 333.6 255.9 334.4 255.4 339.9 253.4 345.6 250.6 346.1 250.6 360.4 243.4 360.9 242.9 362.1 242.4 370.1 237.6 375.6 233.9 376.4 229.6 377.4 227.4 378.1 224.6 378.6 223.9 379.1 221.9 384.9 210.6 386.1 206.6 386.6 205.9 387.9 201.9 388.4 201.1 388.6 199.1 388.9 198.9 389.4 192.6 389.6 192.4 389.9 188.4 390.1 188.1 390.4 184.1 390.6 183.9 390.9 179.9 391.1 179.6 391.1 177.6 391.4 177.4 391.6 173.4 391.9 173.1 391.9 171.4 392.1 171.1 392.4 163.6 392.6 163.4 392.6 159.1 392.9 158.9 392.9 154.6 393.1 154.4 393.1 150.1 393.4 149.9 393.4 145.9 393.6 145.6 393.6 141.4 393.9 141.1 393.9 136.9 394.1 136.6 394.1 132.4 394.4 132.1 394.4 128.9 394.6 128.6 394.6 125.9 394.9 125.6 394.9 122.9 395.1 122.6 395.1 120.1 395.4 119.9 395.4 117.1 395.6 116.9 395.6 114.4 395.9 114.1 395.9 111.4 396.1 111.1 396.1 108.4 396.4 108.1 396.4 105.6 396.6 105.4 396.6 102.6 396.9 102.4 396.9 99.9 397.1 99.6 397.1 96.9 397.4 96.6 397.4 93.9 397.6 93.6 397.6 91.1 397.9 90.9Z"/>
<path fill="#00e4e4" d="M398.1 86.6 397.4 86.6 394.6 85.6 390.1 84.6 384.6 82.9 382.9 82.6 377.4 80.9 375.6 80.6 370.1 78.9 368.4 78.6 362.9 76.9 361.1 76.6 355.6 74.9 353.9 74.6 351.1 73.6 345.4 72.4 344.4 71.9 343.6 71.9 342.6 71.4 338.4 70.4 334.4 68.9 333.6 68.9 330.4 67.6 328.1 67.6 327.9 67.4 325.9 67.4 325.6 67.1 325.4 67.4 323.9 67.4 323.6 67.6 320.1 67.9 317.4 69.1 315.6 72.9 314.1 77.4 310.6 84.9 309.1 89.6 305.6 97.1 305.4 98.4 304.9 99.1 304.6 100.4 303.4 102.9 303.4 103.4 302.4 105.1 300.9 109.9 299.1 113.4 297.6 117.9 294.1 125.4 292.4 130.1 288.9 137.6 288.1 139.9 287.1 141.6 286.4 143.9 285.4 145.6 285.4 146.1 284.1 148.6 281.4 156.1 276.9 165.9 275.4 170.6 273.6 174.1 273.6 174.6 271.9 178.1 271.9 178.6 270.1 182.1 270.1 182.6 267.6 187.4 266.4 190.9 260.4 203.1 260.1 204.6 258.9 208.4 258.4 209.1 256.4 215.9 255.1 218.6 254.6 220.9 253.6 223.9 253.1 224.6 252.9 225.9 252.4 226.6 251.9 228.6 251.4 229.4 250.9 231.4 240.9 251.1 240.1 253.4 237.4 259.1 237.1 260.4 235.1 265.1 235.4 264.9 238.1 264.9 238.4 264.6 241.4 264.6 241.6 264.4 244.4 264.4 244.6 264.1 247.6 264.1 247.9 263.9 250.6 263.9 250.9 263.6 253.9 263.6 254.1 263.4 256.9 263.4 257.1 263.1 260.1 263.1 260.4 262.9 263.1 262.9 263.4 262.6 266.4 262.6 266.6 262.4 269.4 262.4 269.6 262.1 272.6 262.1 272.9 261.9 275.6 261.9 275.9 261.6 278.9 261.6 279.1 261.4 281.9 261.4 282.1 261.1 285.1 261.1 285.4 260.9 288.1 260.9 288.4 260.6 291.4 260.6 291.6 260.4 300.1 259.9 300.4 259.6 301.9 259.6 302.1 259.4 303.4 259.4 304.9 258.9 306.1 258.9 306.4 258.6 307.4 258.6 307.6 258.4 310.9 257.9 313.1 257.1 315.1 256.9 316.1 256.4 316.9 256.4 319.9 255.4 320.6 255.4 321.6 254.9 322.4 254.9 332.1 251.6 332.9 251.1 334.1 250.9 334.9 250.4 340.4 248.4 346.1 245.6 346.6 245.6 362.6 237.4 370.6 232.6 376.9 228.4 378.1 224.6 378.6 223.9 379.1 221.9 384.9 210.6 386.1 206.6 386.6 205.9 387.9 201.9 388.4 201.1 388.6 199.1 388.9 198.9 389.4 192.6 389.6 192.4 389.9 188.4 390.1 188.1 390.4 184.1 390.6 183.9 390.9 179.9 391.1 179.6 391.1 177.6 391.4 177.4 391.6 173.4 391.9 173.1 391.9 171.4 392.1 171.1 392.4 163.6 392.6 163.4 392.6 159.1 392.9 158.9 392.9 154.6 393.1 154.4 393.1 150.1 393.4 149.9 393.4 145.9 393.6 145.6 393.6 141.4 393.9 141.1 393.9 136.9 394.1 136.6 394.1 132.4 394.4 132.1 394.4 128.9 394.6 128.6 394.6 125.9 394.9 125.6 394.9 122.9 395.1 122.6 395.1 120.1 395.4 119.9 395.4 117.1 395.6 116.9 395.6 114.4 395.9 114.1 395.9 111.4 396.1 111.1 396.1 108.4 396.4 108.1 396.4 105.6 396.6 105.4 396.6 102.6 396.9 102.4 396.9 99.9 397.1 99.6 397.1 96.9 397.4 96.6 397.4 93.9 397.6 93.6 397.6 91.1 397.9 90.9Z"/>
<path fill="#00f090" d="M398.1 86.6 397.4 86.6 394.6 85.6 390.1 84.6 384.6 82.9 382.9 82.6 377.4 80.9 375.6 80.6 370.1 78.9 368.4 78.6 362.9 76.9 361.1 76.6 355.6 74.9 353.9 74.6 351.1 73.6 345.4 72.4 344.4 71.9 343.6 71.9 342.6 71.4 338.4 70.4 334.4 68.9 333.6 68.9 330.4 67.6 328.1 67.6 327.9 67.4 325.9 67.4 325.6 67.1 325.4 67.4 323.9 67.4 323.6 67.6 320.1 67.9 317.4 69.1 315.6 72.9 314.1 77.4 310.6 84.9 309.1 89.6 305.6 97.1 305.4 98.4 304.9 99.1 304.6 100.4 303.4 102.9 303.4 103.4 302.4 105.1 300.9 109.9 299.1 113.4 297.6 117.9 294.1 125.4 292.4 130.1 288.9 137.6 288.1 139.9 287.1 141.6 286.4 143.9 285.4 145.6 285.4 146.1 284.1 148.6 281.4 156.1 276.9 165.9 275.4 170.6 273.6 174.1 273.6 174.6 271.9 178.1 271.9 178.6 270.1 182.1 270.1 182.6 267.6 187.4 266.4 190.9 260.4 203.1 260.1 204.6 258.9 208.4 258.4 209.1 256.4 215.9 255.1 218.6 254.6 220.9 253.6 223.9 253.1 224.6 252.9 225.9 252.4 226.6 251.9 228.6 251.4 229.4 250.9 231.4 240.9 251.1 240.9 251.6 237.4 259.4 241.4 259.1 241.6 258.9 244.1 258.9 244.4 258.6 247.1 258.6 247.4 258.4 250.1 258.4 250.4 258.1 253.1 258.1 253.4 257.9 259.4 257.6 259.6 257.4 269.4 256.9 269.6 256.6 276.6 256.4 276.9 256.1 283.9 255.9 284.1 255.6 287.9 255.6 288.1 255.4 291.6 255.4 291.9 255.1 295.6 255.1 295.9 254.9 299.9 254.9 300.1 254.6 301.6 254.6 301.9 254.4 304.6 254.1 306.1 253.6 307.4 253.6 308.6 253.1 310.9 252.9 312.1 252.4 313.1 252.4 313.4 252.1 317.1 251.4 318.1 250.9 321.6 250.1 331.6 246.9 332.4 246.4 333.6 246.1 334.4 245.6 335.6 245.4 336.4 244.9 340.6 243.4 346.4 240.6 346.9 240.6 351.1 238.4 351.6 238.4 354.1 237.1 354.6 236.6 358.9 234.6 359.4 234.1 365.1 231.1 373.4 225.9 374.1 225.6 379.1 222.1 384.9 210.6 386.1 206.6 386.6 205.9 387.9 201.9 388.4 201.1 388.6 199.1 388.9 198.9 389.4 192.6 389.6 192.4 389.9 188.4 390.1 188.1 390.4 184.1 390.6 183.9 390.9 179.9 391.1 179.6 391.1 177.6 391.4 177.4 391.6 173.4 391.9 173.1 391.9 171.4 392.1 171.1 392.4 163.6 392.6 163.4 392.6 159.1 392.9 158.9 392.9 154.6 393.1 154.4 393.1 150.1 393.4 149.9 393.4 145.9 393.6 145.6 393.6 141.4 393.9 141.1 393.9 136.9 394.1 136.6 394.1 132.4 394.4 132.1 394.4 128.9 394.6 128.6 394.6 125.9 394.9 125.6 394.9 122.9 395.1 122.6 395.1 120.1 395.4 119.9 395.4 117.1 395.6 116.9 395.6 114.4 395.9 114.1 395.9 111.4 396.1 111.1 396.1 108.4 396.4 108.1 396.4 105.6 396.6 105.4 396.6 102.6 396.9 102.4 396.9 99.9 397.1 99.6 397.1 96.9 397.4 96.6 397.4 93.9 397.6 93.6 397.6 91.1 397.9 90.9Z"/>
<path fill="#00f000" d="M398.1 86.6 397.4 86.6 394.6 85.6 390.1 84.6 384.6 82.9 382.9 82.6 377.4 80.9 375.6 80.6 370.1 78.9 368.4 78.6 362.9 76.9 361.1 76.6 355.6 74.9 353.9 74.6 351.1 73.6 345.4 72.4 344.4 71.9 343.6 71.9 342.6 71.4 338.4 70.4 334.4 68.9 333.6 68.9 330.4 67.6 328.1 67.6 327.9 67.4 325.9 67.4 325.6 67.1 325.4 67.4 323.9 67.4 323.6 67.6 320.1 67.9 317.4 69.1 315.6 72.9 314.1 77.4 310.6 84.9 309.1 89.6 305.6 97.1 305.4 98.4 304.9 99.1 304.6 100.4 303.4 102.9 303.4 103.4 302.4 105.1 300.9 109.9 299.1 113.4 297.6 117.9 294.1 125.4 292.4 130.1 288.9 137.6 288.1 139.9 287.1 141.6 286.4 143.9 285.4 145.6 285.4 146.1 284.1 148.6 281.4 156.1 276.9 165.9 275.4 170.6 273.6 174.1 273.6 174.6 271.9 178.1 271.9 178.6 270.1 182.1 270.1 182.6 267.6 187.4 266.4 190.9 260.4 203.1 260.1 204.6 258.9 208.4 258.4 209.1 256.4 215.9 255.1 218.6 254.6 220.9 253.6 223.9 253.1 224.6 252.9 225.9 252.4 226.6 251.9 228.6 251.4 229.4 250.9 231.4 240.9 251.1 239.9 253.9 244.9 253.6 245.1 253.4 248.9 253.4 249.1 253.1 252.6 253.1 252.9 252.9 256.6 252.9 256.9 252.6 260.6 252.6 260.9 252.4 264.9 252.4 265.1 252.1 269.4 252.1 269.6 251.9 273.9 251.9 274.1 251.6 278.4 251.6 278.6 251.4 283.1 251.4 283.4 251.1 288.1 251.1 288.4 250.9 293.1 250.9 293.4 250.6 301.6 250.4 301.9 250.1 303.1 250.1 303.4 249.9 304.6 249.9 304.9 249.6 310.9 248.6 312.1 248.1 313.1 248.1 313.4 247.9 319.1 246.6 325.1 244.6 325.9 244.6 331.1 242.9 331.9 242.4 333.9 241.9 334.6 241.4 335.9 241.1 340.9 238.9 342.6 238.4 346.6 236.4 347.1 236.4 351.4 234.1 351.9 234.1 365.4 226.9 373.6 221.9 382.1 216.1 384.9 210.6 386.1 206.6 387.4 203.9 387.9 201.9 388.6 200.4 388.9 197.1 389.1 196.9 389.4 192.6 389.6 192.4 389.9 188.4 390.1 188.1 390.4 184.1 390.6 183.9 390.9 179.9 391.1 179.6 391.1 177.6 391.4 177.4 391.6 173.4 391.9 173.1 391.9 171.4 392.1 171.1 392.4 163.6 392.6 163.4 392.6 159.1 392.9 158.9 392.9 154.6 393.1 154.4 393.1 150.1 393.4 149.9 393.4 145.9 393.6 145.6 393.6 141.4 393.9 141.1 393.9 136.9 394.1 136.6 394.1 132.4 394.4 132.1 394.4 128.9 394.6 128.6 394.6 125.9 394.9 125.6 394.9 122.9 395.1 122.6 395.1 120.1 395.4 119.9 395.4 117.1 395.6 116.9 395.6 114.4 395.9 114.1 395.9 111.4 396.1 111.1 396.1 108.4 396.4 108.1 396.4 105.6 396.6 105.4 396.6 102.6 396.9 102.4 396.9 99.9 397.1 99.6 397.1 96.9 397.4 96.6 397.4 93.9 397.6 93.6 397.6 91.1 397.9 90.9Z"/>
<path fill="#28e810" d="M398.1 86.6 397.4 86.6 394.6 85.6 390.1 84.6 384.6 82.9 382.9 82.6 377.4 80.9 375.6 80.6 370.1 78.9 368.4 78.6 362.9 76.9 361.1 76.6 355.6 74.9 353.9 74.6 351.1 73.6 345.4 72.4 344.4 71.9 343.6 71.9 342.6 71.4 338.4 70.4 334.4 68.9 333.6 68.9 330.4 67.6 328.1 67.6 327.9 67.4 325.9 67.4 325.6 67.1 325.4 67.4 323.9 67.4 323.6 67.6 320.1 67.9 317.4 69.1 315.6 72.9 314.1 77.4 310.6 84.9 309.1 89.6 305.6 97.1 305.4 98.4 304.9 99.1 304.6 100.4 303.4 102.9 303.4 103.4 302.4 105.1 300.9 109.9 299.1 113.4 297.6 117.9 294.1 125.4 292.4 130.1 288.9 137.6 288.1 139.9 287.1 141.6 286.4 143.9 285.4 145.6 285.4 146.1 284.1 148.6 281.4 156.1 276.9 165.9 275.4 170.6 273.6 174.1 273.6 174.6 271.9 178.1 271.9 178.6 270.1 182.1 270.1 182.6 267.6 187.4 266.4 190.9 260.4 203.1 260.1 204.6 258.9 208.4 258.4 209.1 256.4 215.9 255.1 218.6 253.6 223.9 253.1 224.6 250.9 231.1 303.6 231.1 303.9 230.9 307.4 230.4 309.6 229.6 310.6 229.6 310.9 229.4 316.6 228.1 317.6 227.6 318.4 227.6 322.9 226.1 323.6 226.1 326.1 225.1 326.9 225.1 332.1 223.4 332.9 222.9 335.6 222.1 336.4 221.6 337.6 221.4 339.6 220.4 340.9 220.1 341.6 219.6 344.6 218.6 351.6 215.4 352.1 215.4 370.6 206.1 371.1 205.6 372.9 204.9 378.1 201.6 379.4 201.1 388.6 195.4 389.4 194.6 389.4 192.6 389.6 192.4 389.9 188.4 390.1 188.1 390.1 186.4 390.4 186.1 390.4 184.1 390.6 183.9 390.6 182.1 390.9 181.9 391.1 177.6 391.4 177.4 391.6 173.4 391.9 173.1 391.9 171.4 392.1 171.1 392.4 163.6 392.6 163.4 392.6 159.1 392.9 158.9 392.9 154.6 393.1 154.4 393.1 150.1 393.4 149.9 393.4 145.9 393.6 145.6 393.6 141.4 393.9 141.1 393.9 136.9 394.1 136.6 394.1 132.4 394.4 132.1 394.4 128.9 394.6 128.6 394.6 125.9 394.9 125.6 394.9 122.9 395.1 122.6 395.1 120.1 395.4 119.9 395.4 117.1 395.6 116.9 395.6 114.4 395.9 114.1 395.9 111.4 396.1 111.1 396.1 108.4 396.4 108.1 396.4 105.6 396.6 105.4 396.6 102.6 396.9 102.4 396.9 99.9 397.1 99.6 397.1 96.9 397.4 96.6 397.4 93.9 397.6 93.6 397.6 91.1 397.9 90.9Z"/>
<path fill="#80e800" d="M398.1 86.6 397.4 86.6 394.6 85.6 390.1 84.6 384.6 82.9 382.9 82.6 377.4 80.9 375.6 80.6 370.1 78.9 368.4 78.6 362.9 76.9 361.1 76.6 355.6 74.9 353.9 74.6 351.1 73.6 345.4 72.4 344.4 71.9 343.6 71.9 342.6 71.4 338.4 70.4 334.4 68.9 333.6 68.9 330.4 67.6 328.1 67.6 327.9 67.4 325.9 67.4 325.6 67.1 325.4 67.4 323.9 67.4 323.6 67.6 320.1 67.9 317.4 69.1 315.6 72.9 314.1 77.4 310.6 84.9 309.1 89.6 305.6 97.1 305.4 98.4 304.9 99.1 304.6 100.4 303.4 102.9 303.4 103.4 302.4 105.1 300.9 109.9 299.1 113.4 297.6 117.9 294.1 125.4 292.4 130.1 288.9 137.6 288.1 139.9 287.1 141.6 286.4 143.9 285.4 145.6 285.4 146.1 284.1 148.6 281.4 156.1 276.9 165.9 275.4 170.6 273.6 174.1 273.6 174.6 271.9 178.1 271.9 178.6 270.1 182.1 270.1 182.6 267.6 187.4 266.4 190.9 260.4 203.1 260.1 204.6 258.9 208.4 258.4 209.1 257.4 212.1 257.4 212.9 256.4 215.9 255.9 216.6 255.6 217.9 255.1 218.6 253.6 223.6 303.9 223.6 304.1 223.4 305.1 223.4 305.4 223.1 311.1 221.9 312.1 221.4 313.9 221.1 314.9 220.6 315.6 220.6 318.4 219.6 320.9 219.1 323.4 218.1 324.1 218.1 334.6 214.6 335.4 214.1 337.4 213.6 338.1 213.1 341.4 212.1 342.1 211.6 344.6 210.9 348.4 209.1 351.4 208.1 358.9 204.6 359.4 204.6 362.1 203.1 362.6 203.1 366.9 200.9 367.4 200.9 379.6 194.6 380.1 194.1 382.9 192.9 383.4 192.4 389.9 188.9 390.1 186.4 390.4 186.1 390.6 182.1 390.9 181.9 391.4 175.6 391.6 175.4 391.9 171.4 392.1 171.1 392.4 163.6 392.6 163.4 392.6 159.1 392.9 158.9 392.9 154.6 393.1 154.4 393.1 150.1 393.4 149.9 393.4 145.9 393.6 145.6 393.6 141.4 393.9 141.1 393.9 136.9 394.1 136.6 394.1 132.4 394.4 132.1 394.4 128.9 394.6 128.6 394.6 125.9 394.9 125.6 394.9 122.9 395.1 122.6 395.1 120.1 395.4 119.9 395.4 117.1 395.6 116.9 395.6 114.4 395.9 114.1 395.9 111.4 396.1 111.1 396.1 108.4 396.4 108.1 396.4 105.6 396.6 105.4 396.6 102.6 396.9 102.4 396.9 99.9 397.1 99.6 397.1 96.9 397.4 96.6 397.4 93.9 397.6 93.6 397.6 91.1 397.9 90.9Z"/>
<path fill="#a8e800" d="M398.1 86.6 397.4 86.6 394.6 85.6 390.1 84.6 384.6 82.9 382.9 82.6 377.4 80.9 375.6 80.6 370.1 78.9 368.4 78.6 362.9 76.9 361.1 76.6 355.6 74.9 353.9 74.6 351.1 73.6 345.4 72.4 344.4 71.9 343.6 71.9 342.6 71.4 338.4 70.4 334.4 68.9 333.6 68.9 330.4 67.6 328.1 67.6 327.9 67.4 325.9 67.4 325.6 67.1 325.4 67.4 323.9 67.4 323.6 67.6 320.1 67.9 317.4 69.1 315.6 72.9 314.1 77.4 310.6 84.9 309.1 89.6 305.6 97.1 305.4 98.4 304.9 99.1 304.6 100.4 303.4 102.9 303.4 103.4 302.4 105.1 300.9 109.9 299.1 113.4 297.6 117.9 294.1 125.4 292.4 130.1 288.9 137.6 288.1 139.9 287.1 141.6 286.4 143.9 285.4 145.6 285.4 146.1 284.1 148.6 281.4 156.1 276.9 165.9 275.4 170.6 273.6 174.1 273.6 174.6 271.9 178.1 271.9 178.6 270.1 182.1 270.1 182.6 267.6 187.4 266.4 190.9 260.4 203.1 260.1 204.6 256.1 216.1 304.6 216.1 310.1 214.4 310.9 214.4 311.9 213.9 312.6 213.9 313.6 213.4 314.4 213.4 316.1 212.6 316.9 212.6 324.1 210.1 324.9 210.1 330.9 208.1 331.6 207.6 335.9 206.4 336.6 205.9 339.4 205.1 340.1 204.6 341.4 204.4 346.1 202.4 347.4 202.1 348.1 201.6 348.6 201.6 349.4 201.1 349.9 201.1 350.6 200.6 357.4 198.1 358.6 197.4 360.4 196.9 367.4 193.6 367.9 193.6 369.6 192.6 370.1 192.6 371.9 191.6 372.4 191.6 390.6 182.9 390.9 179.9 391.1 179.6 391.1 177.6 391.4 177.4 391.4 175.6 391.6 175.4 391.6 173.4 391.9 173.1 391.9 171.4 392.1 171.1 392.4 163.6 392.6 163.4 392.6 159.1 392.9 158.9 392.9 154.6 393.1 154.4 393.1 150.1 393.4 149.9 393.4 145.9 393.6 145.6 393.6 141.4 393.9 141.1 393.9 136.9 394.1 136.6 394.1 132.4 394.4 132.1 394.4 128.9 394.6 128.6 394.6 125.9 394.9 125.6 394.9 122.9 395.1 122.6 395.1 120.1 395.4 119.9 395.4 117.1 395.6 116.9 395.6 114.4 395.9 114.1 395.9 111.4 396.1 111.1 396.1 108.4 396.4 108.1 396.4 105.6 396.6 105.4 396.6 102.6 396.9 102.4 396.9 99.9 397.1 99.6 397.1 96.9 397.4 96.6 397.4 93.9 397.6 93.6 397.6 91.1 397.9 90.9Z"/>
<path fill="#d0f000" d="M398.1 86.6 397.4 86.6 394.6 85.6 390.1 84.6 384.6 82.9 382.9 82.6 377.4 80.9 375.6 80.6 370.1 78.9 368.4 78.6 362.9 76.9 361.1 76.6 355.6 74.9 353.9 74.6 351.1 73.6 345.4 72.4 344.4 71.9 343.6 71.9 342.6 71.4 338.4 70.4 334.4 68.9 333.6 68.9 330.4 67.6 328.1 67.6 327.9 67.4 325.9 67.4 325.6 67.1 325.4 67.4 323.9 67.4 323.6 67.6 320.1 67.9 317.4 69.1 315.6 72.9 314.1 77.4 310.6 84.9 309.1 89.6 305.6 97.1 305.4 98.4 304.9 99.1 304.6 100.4 303.4 102.9 303.4 103.4 302.4 105.1 300.9 109.9 299.1 113.4 297.6 117.9 294.1 125.4 292.4 130.1 288.9 137.6 288.1 139.9 287.1 141.6 286.4 143.9 285.4 145.6 282.1 154.4 278.6 161.9 277.9 164.1 276.9 165.9 276.4 167.9 275.9 168.6 274.6 172.4 273.6 174.1 273.6 174.6 271.9 178.1 271.9 178.6 270.1 182.1 270.1 182.6 267.6 187.4 266.4 190.9 260.4 203.1 260.1 204.6 258.4 209.4 304.6 209.4 311.4 207.1 312.1 207.1 316.9 205.4 317.6 205.4 331.1 200.9 331.9 200.4 336.1 199.1 336.9 198.6 339.6 197.9 340.4 197.4 343.1 196.6 343.9 196.1 345.9 195.6 346.6 195.1 353.9 192.6 355.9 191.6 357.1 191.4 359.1 190.4 360.4 190.1 361.1 189.6 361.6 189.6 362.4 189.1 362.9 189.1 363.6 188.6 364.1 188.6 364.9 188.1 365.4 188.1 366.1 187.6 372.9 185.1 374.1 184.4 377.1 183.4 378.4 182.6 378.9 182.6 380.1 181.9 381.9 181.4 383.1 180.6 383.6 180.6 384.9 179.9 385.4 179.9 386.6 179.1 388.9 178.4 390.6 177.4 391.1 177.4 391.4 177.1 391.6 173.4 391.9 173.1 391.9 171.4 392.1 171.1 392.4 163.6 392.6 163.4 392.6 159.1 392.9 158.9 392.9 154.6 393.1 154.4 393.1 150.1 393.4 149.9 393.4 145.9 393.6 145.6 393.6 141.4 393.9 141.1 393.9 136.9 394.1 136.6 394.1 132.4 394.4 132.1 394.4 128.9 394.6 128.6 394.6 125.9 394.9 125.6 394.9 122.9 395.1 122.6 395.1 120.1 395.4 119.9 395.4 117.1 395.6 116.9 395.6 114.4 395.9 114.1 395.9 111.4 396.1 111.1 396.1 108.4 396.4 108.1 396.4 105.6 396.6 105.4 396.6 102.6 396.9 102.4 396.9 99.9 397.1 99.6 397.1 96.9 397.4 96.6 397.4 93.9 397.6 93.6 397.6 91.1 397.9 90.9Z"/>
<path fill="#ffff00" d="M398.1 86.6 397.4 86.6 394.6 85.6 390.1 84.6 384.6 82.9 382.9 82.6 377.4 80.9 375.6 80.6 370.1 78.9 368.4 78.6 362.9 76.9 361.1 76.6 355.6 74.9 353.9 74.6 351.1 73.6 345.4 72.4 344.4 71.9 343.6 71.9 342.6 71.4 338.4 70.4 334.4 68.9 333.6 68.9 330.4 67.6 328.1 67.6 327.9 67.4 325.9 67.4 325.6 67.1 325.4 67.4 323.9 67.4 323.6 67.6 320.1 67.9 317.4 69.1 315.6 72.9 314.1 77.4 310.6 84.9 309.1 89.6 305.6 97.1 305.4 98.4 304.9 99.1 304.6 100.4 303.4 102.9 303.4 103.4 302.4 105.1 300.9 109.9 299.1 113.4 297.6 117.9 294.1 125.4 292.4 130.1 288.9 137.6 288.1 139.9 287.1 141.6 286.4 143.9 285.4 145.6 285.4 146.1 284.1 148.6 281.4 156.1 276.9 165.9 275.4 170.6 273.6 174.1 273.6 174.6 271.9 178.1 271.9 178.6 270.1 182.1 270.1 182.6 267.6 187.4 266.4 190.9 260.4 203.1 260.1 204.4 305.1 204.4 324.6 197.9 325.4 197.4 331.9 195.4 332.6 194.9 336.9 193.6 337.6 193.1 341.1 192.1 341.9 191.6 344.6 190.9 345.4 190.4 348.1 189.6 348.9 189.1 350.9 188.6 351.6 188.1 359.1 185.6 361.9 184.4 363.9 183.9 364.6 183.4 365.9 183.1 366.6 182.6 367.9 182.4 368.6 181.9 375.9 179.4 377.9 178.4 379.1 178.1 379.9 177.6 381.1 177.4 383.1 176.4 384.4 176.1 385.1 175.6 391.9 173.1 392.1 168.1 392.4 167.9 392.4 163.6 392.6 163.4 392.6 159.1 392.9 158.9 392.9 154.6 393.1 154.4 393.1 150.1 393.4 149.9 393.4 145.9 393.6 145.6 393.6 141.4 393.9 141.1 394.4 128.9 394.6 128.6 394.6 125.9 394.9 125.6 394.9 122.9 395.1 122.6 395.1 120.1 395.4 119.9 395.4 117.1 395.6 116.9 395.6 114.4 395.9 114.1 395.9 111.4 396.1 111.1 396.1 108.4 396.4 108.1 396.4 105.6 396.6 105.4 396.6 102.6 396.9 102.4 396.9 99.9 397.1 99.6 397.1 96.9 397.4 96.6 397.4 93.9 397.6 93.6 397.6 91.1 397.9 90.9Z"/>
<path fill="#fff000" d="M398.1 86.6 397.4 86.6 394.6 85.6 390.1 84.6 384.6 82.9 382.9 82.6 377.4 80.9 375.6 80.6 370.1 78.9 368.4 78.6 362.9 76.9 361.1 76.6 355.6 74.9 353.9 74.6 351.1 73.6 345.4 72.4 344.4 71.9 343.6 71.9 342.6 71.4 338.4 70.4 334.4 68.9 333.6 68.9 330.4 67.6 328.1 67.6 327.9 67.4 325.9 67.4 325.6 67.1 325.4 67.4 323.9 67.4 323.6 67.6 320.1 67.9 317.4 69.1 315.6 72.9 314.1 77.4 310.6 84.9 309.1 89.6 305.6 97.1 305.4 98.4 304.9 99.1 304.6 100.4 303.4 102.9 303.4 103.4 302.4 105.1 300.9 109.9 299.1 113.4 297.6 117.9 294.1 125.4 292.4 130.1 288.9 137.6 288.1 139.9 287.1 141.6 286.4 143.9 285.4 145.6 285.4 146.1 284.1 148.6 281.4 156.1 276.9 165.9 275.4 170.6 273.6 174.1 273.6 174.6 271.9 178.1 271.9 178.6 270.1 182.1 270.1 182.6 267.6 187.4 266.4 190.9 263.6 196.1 263.6 196.6 261.9 200.1 305.6 200.1 306.4 199.6 311.4 198.1 312.1 197.6 316.4 196.4 317.1 195.9 321.4 194.6 322.1 194.1 326.4 192.9 327.1 192.4 331.4 191.1 332.1 190.6 336.4 189.4 337.1 188.9 341.4 187.6 342.1 187.1 346.4 185.9 347.1 185.4 351.4 184.1 352.1 183.6 356.4 182.4 357.1 181.9 360.6 180.9 361.4 180.4 365.6 179.1 366.4 178.6 370.6 177.4 371.4 176.9 375.6 175.6 376.4 175.1 379.9 174.1 380.6 173.6 391.9 169.9 392.1 169.6 392.1 168.1 392.4 167.9 392.4 163.6 392.6 163.4 392.6 159.1 392.9 158.9 392.9 154.6 393.1 154.4 393.1 150.1 393.4 149.9 393.4 145.9 393.6 145.6 393.6 141.4 393.9 141.1 394.4 128.9 394.6 128.6 394.6 125.9 394.9 125.6 394.9 122.9 395.1 122.6 395.1 120.1 395.4 119.9 395.4 117.1 395.6 116.9 395.6 114.4 395.9 114.1 395.9 111.4 396.1 111.1 396.1 108.4 396.4 108.1 396.4 105.6 396.6 105.4 396.6 102.6 396.9 102.4 396.9 99.9 397.1 99.6 397.1 96.9 397.4 96.6 397.4 93.9 397.6 93.6 397.6 91.1 397.9 90.9Z"/>
<path fill="#ffc800" d="M398.1 86.6 397.4 86.6 394.6 85.6 390.1 84.6 384.6 82.9 382.9 82.6 377.4 80.9 375.6 80.6 370.1 78.9 368.4 78.6 362.9 76.9 361.1 76.6 355.6 74.9 353.9 74.6 351.1 73.6 345.4 72.4 344.4 71.9 343.6 71.9 342.6 71.4 338.4 70.4 334.4 68.9 333.6 68.9 330.4 67.6 328.1 67.6 327.9 67.4 325.9 67.4 325.6 67.1 325.4 67.4 323.9 67.4 323.6 67.6 320.1 67.9 317.4 69.1 315.6 72.9 314.1 77.4 310.6 84.9 309.1 89.6 305.6 97.1 305.4 98.4 304.9 99.1 304.6 100.4 303.4 102.9 303.4 103.4 302.4 105.1 300.9 109.9 299.1 113.4 297.6 117.9 294.1 125.4 292.4 130.1 288.9 137.6 288.1 139.9 287.1 141.6 286.4 143.9 285.4 145.6 282.1 154.4 278.6 161.9 277.9 164.1 276.9 165.9 276.4 167.9 275.9 168.6 274.6 172.4 273.6 174.1 273.6 174.6 271.9 178.1 271.9 178.6 270.1 182.1 270.1 182.6 267.6 187.4 266.4 190.9 264.1 195.4 306.1 195.4 392.4 165.1 392.4 163.6 392.6 163.4 392.6 159.1 392.9 158.9 392.9 154.6 393.1 154.4 393.1 150.1 393.4 149.9 393.4 145.9 393.6 145.6 393.6 141.4 393.9 141.1 393.9 136.9 394.1 136.6 394.1 132.4 394.4 132.1 394.4 128.9 394.6 128.6 394.6 125.9 394.9 125.6 394.9 122.9 395.1 122.6 395.1 120.1 395.4 119.9 395.4 117.1 395.6 116.9 395.6 114.4 395.9 114.1 395.9 111.4 396.1 111.1 396.1 108.4 396.4 108.1 396.4 105.6 396.6 105.4 396.6 102.6 396.9 102.4 396.9 99.9 397.1 99.6 397.1 96.9 397.4 96.6 397.4 93.9 397.6 93.6 397.6 91.1 397.9 90.9Z"/>
<path fill="#ffa800" d="M398.1 86.6 397.4 86.6 394.6 85.6 390.1 84.6 384.6 82.9 382.9 82.6 377.4 80.9 375.6 80.6 370.1 78.9 368.4 78.6 362.9 76.9 361.1 76.6 355.6 74.9 353.9 74.6 351.1 73.6 345.4 72.4 344.4 71.9 343.6 71.9 342.6 71.4 338.4 70.4 334.4 68.9 333.6 68.9 330.4 67.6 328.1 67.6 327.9 67.4 325.9 67.4 325.6 67.1 325.4 67.4 323.9 67.4 323.6 67.6 320.1 67.9 317.4 69.1 315.6 72.9 314.1 77.4 310.6 84.9 309.1 89.6 305.6 97.1 305.4 98.4 304.9 99.1 304.6 100.4 303.4 102.9 303.4 103.4 302.4 105.1 300.9 109.9 299.1 113.4 297.6 117.9 294.1 125.4 292.4 130.1 288.9 137.6 288.1 139.9 287.1 141.6 286.4 143.9 285.4 145.6 282.1 154.4 278.6 161.9 277.9 164.1 276.9 165.9 276.4 167.9 275.9 168.6 274.6 172.4 273.6 174.1 273.6 174.6 271.9 178.1 271.9 178.6 270.1 182.1 270.1 182.6 267.6 187.4 267.6 187.9 266.4 190.6 306.6 190.6 308.9 189.6 313.1 188.4 313.9 187.9 318.1 186.6 318.9 186.1 323.1 184.9 323.9 184.4 328.1 183.1 328.9 182.6 333.1 181.4 333.9 180.9 338.1 179.6 338.9 179.1 343.1 177.9 343.9 177.4 348.1 176.1 348.9 175.6 353.1 174.4 353.9 173.9 358.1 172.6 358.9 172.1 363.1 170.9 363.9 170.4 368.1 169.1 368.9 168.6 373.1 167.4 373.9 166.9 378.1 165.6 378.9 165.1 383.1 163.9 383.9 163.4 388.1 162.1 388.9 161.6 392.4 160.6 392.9 158.9 392.9 154.6 393.1 154.4 393.1 150.1 393.4 149.9 393.4 145.9 393.6 145.6 393.6 141.4 393.9 141.1 394.4 128.9 394.6 128.6 394.6 125.9 394.9 125.6 394.9 122.9 395.1 122.6 395.1 120.1 395.4 119.9 395.4 117.1 395.6 116.9 395.6 114.4 395.9 114.1 395.9 111.4 396.1 111.1 396.1 108.4 396.4 108.1 396.4 105.6 396.6 105.4 396.6 102.6 396.9 102.4 396.9 99.9 397.1 99.6 397.1 96.9 397.4 96.6 397.4 93.9 397.6 93.6 397.6 91.1 397.9 90.9Z"/>
<path fill="#ff8800" d="M398.1 86.6 397.4 86.6 394.6 85.6 390.1 84.6 384.6 82.9 382.9 82.6 377.4 80.9 375.6 80.6 370.1 78.9 368.4 78.6 362.9 76.9 361.1 76.6 355.6 74.9 353.9 74.6 351.1 73.6 345.4 72.4 344.4 71.9 343.6 71.9 342.6 71.4 338.4 70.4 334.4 68.9 333.6 68.9 330.4 67.6 328.1 67.6 327.9 67.4 325.9 67.4 325.6 67.1 325.4 67.4 323.9 67.4 323.6 67.6 320.1 67.9 317.4 69.1 315.6 72.9 314.1 77.4 310.6 84.9 309.1 89.6 305.6 97.1 305.4 98.4 304.9 99.1 304.6 100.4 303.4 102.9 303.4 103.4 302.4 105.1 300.9 109.9 299.1 113.4 297.6 117.9 294.1 125.4 292.4 130.1 288.9 137.6 288.1 139.9 287.1 141.6 286.4 143.9 285.4 145.6 282.1 154.4 278.6 161.9 277.9 164.1 276.9 165.9 276.4 167.9 275.9 168.6 274.6 172.4 273.6 174.1 273.6 174.6 271.9 178.1 271.9 178.6 270.1 182.1 270.1 182.6 268.4 185.9 307.1 185.9 308.6 185.1 312.9 183.9 313.6 183.4 317.9 182.1 318.6 181.6 322.9 180.4 323.6 179.9 327.9 178.6 328.6 178.1 332.9 176.9 333.6 176.4 337.9 175.1 338.6 174.6 342.9 173.4 343.6 172.9 347.9 171.6 348.6 171.1 352.9 169.9 353.6 169.4 357.9 168.1 358.6 167.6 362.9 166.4 363.6 165.9 367.9 164.6 368.6 164.1 372.9 162.9 373.6 162.4 377.9 161.1 378.6 160.6 382.9 159.4 383.6 158.9 387.9 157.6 388.6 157.1 392.9 155.9 392.9 154.6 393.1 154.4 393.1 150.1 393.4 149.9 393.4 145.9 393.6 145.6 393.6 141.4 393.9 141.1 394.4 128.9 394.6 128.6 394.6 125.9 394.9 125.6 394.9 122.9 395.1 122.6 395.1 120.1 395.4 119.9 395.4 117.1 395.6 116.9 395.6 114.4 395.9 114.1 395.9 111.4 396.1 111.1 396.1 108.4 396.4 108.1 396.4 105.6 396.6 105.4 396.6 102.6 396.9 102.4 396.9 99.9 397.1 99.6 397.1 96.9 397.4 96.6 397.4 93.9 397.6 93.6 397.6 91.1 397.9 90.9Z"/>
<path fill="#ff6000" d="M398.1 86.6 397.4 86.6 394.6 85.6 390.1 84.6 384.6 82.9 382.9 82.6 377.4 80.9 375.6 80.6 370.1 78.9 368.4 78.6 362.9 76.9 361.1 76.6 355.6 74.9 353.9 74.6 351.1 73.6 345.4 72.4 344.4 71.9 343.6 71.9 342.6 71.4 338.4 70.4 334.4 68.9 333.6 68.9 330.4 67.6 328.1 67.6 327.9 67.4 325.9 67.4 325.6 67.1 325.4 67.4 323.9 67.4 323.6 67.6 320.1 67.9 317.4 69.1 315.6 72.9 314.1 77.4 310.6 84.9 309.1 89.6 305.6 97.1 305.4 98.4 304.9 99.1 304.6 100.4 303.4 102.9 303.4 103.4 302.4 105.1 300.9 109.9 299.1 113.4 297.6 117.9 294.1 125.4 292.4 130.1 288.9 137.6 288.1 139.9 287.1 141.6 286.4 143.9 285.4 145.6 282.1 154.4 278.6 161.9 277.9 164.1 276.9 165.9 275.4 170.6 271.9 178.1 271.1 180.4 307.9 180.4 310.9 179.4 311.6 178.9 315.9 177.6 316.6 177.1 320.9 175.9 321.6 175.4 325.9 174.1 326.6 173.6 330.9 172.4 331.6 171.9 335.9 170.6 336.6 170.1 340.9 168.9 341.6 168.4 345.9 167.1 346.6 166.6 350.9 165.4 351.6 164.9 355.9 163.6 356.6 163.1 360.9 161.9 361.6 161.4 365.9 160.1 366.6 159.6 370.9 158.4 371.6 157.9 375.9 156.6 376.6 156.1 380.9 154.9 381.6 154.4 392.9 150.6 393.4 149.9 393.4 145.9 393.6 145.6 393.6 141.4 393.9 141.1 394.4 128.9 394.6 128.6 394.6 125.9 394.9 125.6 394.9 122.9 395.1 122.6 395.1 120.1 395.4 119.9 395.4 117.1 395.6 116.9 395.6 114.4 395.9 114.1 395.9 111.4 396.1 111.1 396.1 108.4 396.4 108.1 396.4 105.6 396.6 105.4 396.6 102.6 396.9 102.4 396.9 99.9 397.1 99.6 397.1 96.9 397.4 96.6 397.4 93.9 397.6 93.6 397.6 91.1 397.9 90.9Z"/>
<path fill="#ff4000" d="M398.1 86.6 397.4 86.6 394.6 85.6 390.1 84.6 384.6 82.9 382.9 82.6 377.4 80.9 375.6 80.6 370.1 78.9 368.4 78.6 362.9 76.9 361.1 76.6 355.6 74.9 353.9 74.6 351.1 73.6 345.4 72.4 344.4 71.9 343.6 71.9 342.6 71.4 338.4 70.4 334.4 68.9 333.6 68.9 330.4 67.6 328.1 67.6 327.9 67.4 325.9 67.4 325.6 67.1 325.4 67.4 323.9 67.4 323.6 67.6 320.1 67.9 317.4 69.1 315.6 72.9 314.1 77.4 310.6 84.9 309.1 89.6 305.6 97.1 305.4 98.4 304.9 99.1 304.6 100.4 303.4 102.9 303.4 103.4 302.4 105.1 300.9 109.9 299.1 113.4 297.6 117.9 294.1 125.4 292.4 130.1 288.9 137.6 288.1 139.9 287.1 141.6 286.4 143.9 285.4 145.6 282.1 154.4 278.6 161.9 277.9 164.1 276.9 165.9 275.4 170.6 273.4 174.9 308.4 174.9 309.9 174.1 314.1 172.9 314.9 172.4 319.1 171.1 319.9 170.6 324.1 169.4 324.9 168.9 329.1 167.6 329.9 167.1 334.1 165.9 334.9 165.4 339.1 164.1 339.9 163.6 344.1 162.4 344.9 161.9 349.1 160.6 349.9 160.1 354.1 158.9 354.9 158.4 359.1 157.1 359.9 156.6 364.1 155.4 364.9 154.9 369.1 153.6 369.9 153.1 374.1 151.9 374.9 151.4 379.1 150.1 379.9 149.6 393.4 145.1 393.6 144.9 393.6 141.4 393.9 141.1 394.4 128.9 394.6 128.6 394.6 125.9 394.9 125.6 394.9 122.9 395.1 122.6 395.1 120.1 395.4 119.9 395.4 117.1 395.6 116.9 395.6 114.4 395.9 114.1 395.9 111.4 396.1 111.1 396.1 108.4 396.4 108.1 396.4 105.6 396.6 105.4 396.6 102.6 396.9 102.4 396.9 99.9 397.1 99.6 397.1 96.9 397.4 96.6 397.4 93.9 397.6 93.6 397.6 91.1 397.9 90.9Z"/>
<path fill="#ff0000" d="M398.1 86.6 397.4 86.6 394.6 85.6 390.1 84.6 384.6 82.9 382.9 82.6 377.4 80.9 375.6 80.6 370.1 78.9 368.4 78.6 362.9 76.9 361.1 76.6 355.6 74.9 353.9 74.6 351.1 73.6 345.4 72.4 344.4 71.9 343.6 71.9 342.6 71.4 338.4 70.4 334.4 68.9 333.6 68.9 330.4 67.6 328.1 67.6 327.9 67.4 325.9 67.4 325.6 67.1 325.4 67.4 323.9 67.4 323.6 67.6 320.1 67.9 317.4 69.1 315.6 72.9 314.1 77.4 310.6 84.9 309.1 89.6 305.6 97.1 305.4 98.4 304.9 99.1 304.6 100.4 303.4 102.9 303.4 103.4 302.4 105.1 300.9 109.9 299.1 113.4 297.6 117.9 294.1 125.4 292.4 130.1 288.9 137.6 288.1 139.9 287.1 141.6 286.4 143.9 285.4 145.6 282.1 154.4 278.6 161.9 277.9 164.1 276.9 165.9 275.9 168.9 309.1 168.9 309.9 168.4 314.1 167.1 314.9 166.6 319.1 165.4 319.9 164.9 324.1 163.6 324.9 163.1 329.1 161.9 329.9 161.4 334.1 160.1 334.9 159.6 339.1 158.4 339.9 157.9 344.1 156.6 344.9 156.1 349.1 154.9 349.9 154.4 354.1 153.1 354.9 152.6 359.1 151.4 359.9 150.9 364.1 149.6 364.9 149.1 369.1 147.9 369.9 147.4 374.1 146.1 374.9 145.6 379.1 144.4 379.9 143.9 384.1 142.6 384.9 142.1 393.9 139.1 394.4 128.9 394.6 128.6 394.6 125.9 394.9 125.6 394.9 122.9 395.1 122.6 395.1 120.1 395.4 119.9 395.4 117.1 395.6 116.9 395.6 114.4 395.9 114.1 395.9 111.4 396.1 111.1 396.1 108.4 396.4 108.1 396.4 105.6 396.6 105.4 396.6 102.6 396.9 102.4 396.9 99.9 397.1 99.6 397.1 96.9 397.4 96.6 397.4 93.9 397.6 93.6 397.6 91.1 397.9 90.9Z"/>
<path fill="#f00000" d="M304.6 100.4 315.6 100.4 317.9 99.4 322.1 98.1 322.9 97.6 327.1 96.4 327.9 95.9 332.1 94.6 332.9 94.1 337.1 92.9 337.9 92.4 342.1 91.1 342.9 90.6 347.1 89.4 347.9 88.9 352.1 87.6 352.9 87.1 357.1 85.9 357.9 85.4 362.1 84.1 362.9 83.6 367.1 82.4 367.9 81.9 372.1 80.6 373.6 79.9 368.4 78.6 365.6 77.6 363.9 77.4 362.9 76.9 361.1 76.6 355.6 74.9 353.9 74.6 351.1 73.6 345.4 72.4 344.4 71.9 343.6 71.9 342.6 71.4 338.4 70.4 334.4 68.9 333.6 68.9 330.4 67.6 328.1 67.6 327.9 67.4 325.9 67.4 325.6 67.1 325.4 67.4 323.9 67.4 323.6 67.6 320.1 67.9 317.4 69.1 316.6 70.6 314.1 77.4 310.6 84.9 309.1 89.6 305.6 97.1Z"/>
<path fill="#e00000" d="M306.4 95.9 316.1 95.9 317.6 95.1 321.9 93.9 322.6 93.4 326.9 92.1 327.6 91.6 331.9 90.4 332.6 89.9 336.9 88.6 337.6 88.1 341.9 86.9 342.6 86.4 346.9 85.1 347.6 84.6 351.9 83.4 352.6 82.9 356.9 81.6 357.6 81.1 361.9 79.9 362.6 79.4 366.9 78.1 365.6 77.6 363.9 77.4 362.9 76.9 361.1 76.6 360.1 76.1 359.4 76.1 358.4 75.6 356.6 75.4 355.6 74.9 353.9 74.6 351.1 73.6 345.4 72.4 344.4 71.9 343.6 71.9 342.6 71.4 338.4 70.4 330.4 67.6 328.1 67.6 327.9 67.4 325.9 67.4 325.6 67.1 325.4 67.4 323.9 67.4 323.6 67.6 320.1 67.9 317.4 69.1 316.6 70.6 314.1 77.4 310.6 84.9 309.1 89.6 307.4 93.1Z"/>
<path fill="#c80000" d="M308.4 91.4 316.4 91.4 317.9 90.6 322.1 89.4 322.9 88.9 327.1 87.6 327.9 87.1 332.1 85.9 332.9 85.4 337.1 84.1 337.9 83.6 342.1 82.4 342.9 81.9 347.1 80.6 347.9 80.1 359.9 76.1 356.6 75.4 355.6 74.9 353.9 74.6 351.1 73.6 345.4 72.4 339.1 70.4 338.4 70.4 330.4 67.6 328.1 67.6 327.9 67.4 325.9 67.4 325.6 67.1 325.4 67.4 323.9 67.4 323.6 67.6 320.1 67.9 317.4 69.1 315.6 72.9 314.1 77.4 310.6 84.9 310.1 86.9 309.6 87.6Z"/>
<path fill="#b40000" d="M310.1 86.9 316.9 86.9 318.4 86.1 322.6 84.9 323.4 84.4 327.6 83.1 328.4 82.6 332.6 81.4 333.4 80.9 337.6 79.6 338.4 79.1 342.6 77.9 343.4 77.4 347.6 76.1 348.4 75.6 352.9 74.1 352.1 74.1 351.1 73.6 345.4 72.4 344.4 71.9 343.6 71.9 342.6 71.4 338.4 70.4 330.4 67.6 328.1 67.6 327.9 67.4 325.9 67.4 325.6 67.1 325.4 67.4 323.9 67.4 323.6 67.6 320.1 67.9 317.4 69.1 315.6 72.9 314.1 77.4 310.6 84.9Z"/>
<path fill="#a00000" d="M311.9 82.4 317.1 82.4 321.6 80.9 322.4 80.4 326.6 79.1 327.4 78.6 331.6 77.4 332.4 76.9 336.6 75.6 337.4 75.1 341.6 73.9 342.4 73.4 345.9 72.4 343.6 71.9 342.6 71.4 341.9 71.4 340.9 70.9 340.1 70.9 339.1 70.4 338.4 70.4 330.4 67.6 328.1 67.6 327.9 67.4 325.9 67.4 325.6 67.1 325.4 67.4 323.9 67.4 323.6 67.6 320.1 67.9 317.4 69.1 315.6 72.9 314.6 76.1Z"/>
<path fill="#8c0000" d="M339.1 70.4 338.4 70.4 330.4 67.6 328.1 67.6 327.9 67.4 325.9 67.4 325.6 67.1 325.4 67.4 323.9 67.4 323.6 67.6 320.1 67.9 317.4 69.1 315.6 72.9 315.4 74.1 314.9 74.9 313.9 77.9 317.6 77.9 322.1 76.4 322.9 75.9 327.1 74.6 327.9 74.1 332.1 72.9 332.9 72.4 337.1 71.1 337.9 70.6Z"/>
<path fill="#780000" d="M333.1 68.6 330.4 67.6 328.1 67.6 327.9 67.4 325.9 67.4 325.6 67.1 325.4 67.4 323.9 67.4 323.6 67.6 320.1 67.9 317.4 69.1 315.4 73.9 318.1 73.9 321.1 72.6Z"/>
</g>
<polyline points="281.3,157.8 310,157.8 360,140.4 393.5,130" fill="none" stroke="#303030" stroke-width="0.8" stroke-opacity="0.7"/>
<polyline points="256.8,218 302.5,216.9 386.9,187.2" fill="none" stroke="#303030" stroke-width="0.8" stroke-opacity="0.7"/>
<polyline points="312.5,94 370,79" fill="none" stroke="#303030" stroke-width="0.7" stroke-opacity="0.6"/>
<polyline points="230.5,277.6 261.4,276.8 283.2,257.9" fill="none" stroke="#303030" stroke-width="0.7" stroke-opacity="0.6"/>
<polyline points="319,66 313,140 302.5,217 297,300" fill="none" stroke="#808080" stroke-width="0.8" stroke-dasharray="2 2"/>
<polyline points="393.5,128 390,180 386.5,215" fill="none" stroke="#808080" stroke-width="0.8" stroke-dasharray="2 2"/>
<line x1="86.9" y1="285.4" x2="77.0" y2="39.6" stroke="#1a1a1a" stroke-width="1.2" fill="none"/>
<line x1="86.9" y1="285.4" x2="280.0" y2="356.8" stroke="#1a1a1a" stroke-width="1.2" fill="none"/>
<line x1="280.0" y1="356.8" x2="433.5" y2="275.4" stroke="#1a1a1a" stroke-width="1.2" fill="none"/>
<line x1="86.9" y1="285.4" x2="82.9" y2="285.4" stroke="#1a1a1a" stroke-width="1"/>
<text x="77.4" y="288.8" font-size="13.5" text-anchor="end" fill="#1a1a1a">0.00</text>
<line x1="84.8" y1="233.2" x2="80.8" y2="233.2" stroke="#1a1a1a" stroke-width="1"/>
<text x="75.3" y="236.6" font-size="13.5" text-anchor="end" fill="#1a1a1a">0.50</text>
<line x1="82.7" y1="179.6" x2="78.7" y2="179.6" stroke="#1a1a1a" stroke-width="1"/>
<text x="73.2" y="183.0" font-size="13.5" text-anchor="end" fill="#1a1a1a">1.00</text>
<line x1="80.4" y1="124.8" x2="76.4" y2="124.8" stroke="#1a1a1a" stroke-width="1"/>
<text x="70.9" y="128.2" font-size="13.5" text-anchor="end" fill="#1a1a1a">1.50</text>
<line x1="78.2" y1="68.5" x2="74.2" y2="68.5" stroke="#1a1a1a" stroke-width="1"/>
<text x="68.7" y="71.9" font-size="13.5" text-anchor="end" fill="#1a1a1a">2.00</text>
<line x1="86.9" y1="285.4" x2="84.1" y2="287.0" stroke="#1a1a1a" stroke-width="1"/>
<text x="83" y="299.5" font-size="13.5" text-anchor="middle" fill="#1a1a1a">0</text>
<line x1="115.1" y1="295.8" x2="112.3" y2="297.4" stroke="#1a1a1a" stroke-width="1"/>
<text x="108.4" y="311.0" font-size="13.5" text-anchor="middle" fill="#1a1a1a">15</text>
<line x1="144.7" y1="306.8" x2="141.9" y2="308.4" stroke="#1a1a1a" stroke-width="1"/>
<text x="138.2" y="322.3" font-size="13.5" text-anchor="middle" fill="#1a1a1a">30</text>
<line x1="175.8" y1="318.3" x2="173.0" y2="319.9" stroke="#1a1a1a" stroke-width="1"/>
<text x="169.4" y="332.8" font-size="13.5" text-anchor="middle" fill="#1a1a1a">45</text>
<line x1="208.7" y1="330.4" x2="205.9" y2="332.0" stroke="#1a1a1a" stroke-width="1"/>
<text x="202.9" y="345.90000000000003" font-size="13.5" text-anchor="middle" fill="#1a1a1a">60</text>
<line x1="243.3" y1="343.2" x2="240.5" y2="344.8" stroke="#1a1a1a" stroke-width="1"/>
<text x="237.1" y="359.3" font-size="13.5" text-anchor="middle" fill="#1a1a1a">75</text>
<line x1="280.0" y1="356.8" x2="277.2" y2="358.4" stroke="#1a1a1a" stroke-width="1"/>
<text x="273.5" y="372.6" font-size="13.5" text-anchor="middle" fill="#1a1a1a">90</text>
<line x1="280.0" y1="356.8" x2="283.5" y2="359.1" stroke="#1a1a1a" stroke-width="1"/>
<text x="291.5" y="372.1" font-size="13.5" text-anchor="middle" fill="#1a1a1a">1</text>
<line x1="308.9" y1="341.4" x2="312.4" y2="343.7" stroke="#1a1a1a" stroke-width="1"/>
<text x="324.2" y="356.40000000000003" font-size="13.5" text-anchor="middle" fill="#1a1a1a">60</text>
<line x1="336.5" y1="326.8" x2="340.0" y2="329.1" stroke="#1a1a1a" stroke-width="1"/>
<text x="355.3" y="341.0" font-size="13.5" text-anchor="middle" fill="#1a1a1a">120</text>
<line x1="362.4" y1="313.1" x2="365.9" y2="315.4" stroke="#1a1a1a" stroke-width="1"/>
<text x="384.1" y="326.3" font-size="13.5" text-anchor="middle" fill="#1a1a1a">180</text>
<line x1="386.9" y1="300.1" x2="390.4" y2="302.4" stroke="#1a1a1a" stroke-width="1"/>
<text x="405.7" y="313.90000000000003" font-size="13.5" text-anchor="middle" fill="#1a1a1a">240</text>
<line x1="409.9" y1="287.9" x2="413.4" y2="290.2" stroke="#1a1a1a" stroke-width="1"/>
<text x="427.3" y="301.40000000000003" font-size="13.5" text-anchor="middle" fill="#1a1a1a">300</text>
<line x1="433.5" y1="275.4" x2="437.0" y2="277.7" stroke="#1a1a1a" stroke-width="1"/>
<text x="450.2" y="288.40000000000003" font-size="13.5" text-anchor="middle" fill="#1a1a1a">365</text>
<text class="s" transform="translate(31,181) rotate(-90)" font-size="24" fill="#1a1a1a">η<tspan font-size="15" dy="5">D</tspan><tspan dy="-5">(%)</tspan></text>
<text class="s" x="165.2" y="358" font-size="21.5" text-anchor="middle" fill="#1a1a1a">φ(°)</text>
<text class="s" transform="translate(349.5,375) rotate(-30.3)" font-size="21" fill="#1a1a1a">Day of the year</text>
<rect x="464.8" y="27.0" width="32" height="4.0" fill="#0a000a"/>
<rect x="464.8" y="30.7" width="32" height="3.5" fill="#7a0070"/>
<rect x="464.8" y="33.9" width="32" height="3.4" fill="#8a0088"/>
<rect x="464.8" y="37.0" width="32" height="3.9" fill="#9000a0"/>
<rect x="464.8" y="40.6" width="32" height="4.0" fill="#9400b8"/>
<rect x="464.8" y="44.3" width="32" height="3.4" fill="#9000cc"/>
<rect x="464.8" y="47.4" width="32" height="3.9" fill="#8000e0"/>
<rect x="464.8" y="51.0" width="32" height="4.5" fill="#6000f0"/>
<rect x="464.8" y="55.2" width="32" height="5.6" fill="#2400f4"/>
<rect x="464.8" y="60.5" width="32" height="5.2" fill="#0000ec"/>
<rect x="464.8" y="65.4" width="32" height="5.5" fill="#0030f4"/>
<rect x="464.8" y="70.6" width="32" height="5.5" fill="#0050f4"/>
<rect x="464.8" y="75.8" width="32" height="5.0" fill="#0080f0"/>
<rect x="464.8" y="80.5" width="32" height="5.4" fill="#00a0f0"/>
<rect x="464.8" y="85.6" width="32" height="5.0" fill="#00d0f0"/>
<rect x="464.8" y="90.3" width="32" height="5.2" fill="#00e4e4"/>
<rect x="464.8" y="95.2" width="32" height="5.0" fill="#00f090"/>
<rect x="464.8" y="99.9" width="32" height="15.3" fill="#00f000"/>
<rect x="464.8" y="114.9" width="32" height="5.5" fill="#28e810"/>
<rect x="464.8" y="120.1" width="32" height="5.0" fill="#80e800"/>
<rect x="464.8" y="124.8" width="32" height="5.2" fill="#a8e800"/>
<rect x="464.8" y="129.7" width="32" height="5.5" fill="#d0f000"/>
<rect x="464.8" y="134.9" width="32" height="5.5" fill="#ffff00"/>
<rect x="464.8" y="140.1" width="32" height="4.9" fill="#fff000"/>
<rect x="464.8" y="144.7" width="32" height="5.5" fill="#ffc800"/>
<rect x="464.8" y="149.9" width="32" height="5.5" fill="#ffa800"/>
<rect x="464.8" y="155.1" width="32" height="5.0" fill="#ff8800"/>
<rect x="464.8" y="159.8" width="32" height="4.7" fill="#ff6000"/>
<rect x="464.8" y="164.2" width="32" height="5.0" fill="#ff4000"/>
<rect x="464.8" y="168.9" width="32" height="45.6" fill="#ff0000"/>
<rect x="464.8" y="214.2" width="32" height="4.9" fill="#f00000"/>
<rect x="464.8" y="218.8" width="32" height="5.0" fill="#e00000"/>
<rect x="464.8" y="223.5" width="32" height="5.0" fill="#c80000"/>
<rect x="464.8" y="228.2" width="32" height="5.0" fill="#b40000"/>
<rect x="464.8" y="232.9" width="32" height="4.9" fill="#a00000"/>
<rect x="464.8" y="237.5" width="32" height="4.5" fill="#8c0000"/>
<rect x="464.8" y="241.7" width="32" height="7.0" fill="#780000"/>
<text x="502" y="36.4" font-size="13.5" fill="#1a1a1a">0.000</text>
<text x="502" y="85.7" font-size="13.5" fill="#1a1a1a">0.5000</text>
<text x="502" y="134.7" font-size="13.5" fill="#1a1a1a">1.000</text>
<text x="502" y="183.7" font-size="13.5" fill="#1a1a1a">1.500</text>
<text x="502" y="232.7" font-size="13.5" fill="#1a1a1a">2.000</text>
</svg></body></html>
